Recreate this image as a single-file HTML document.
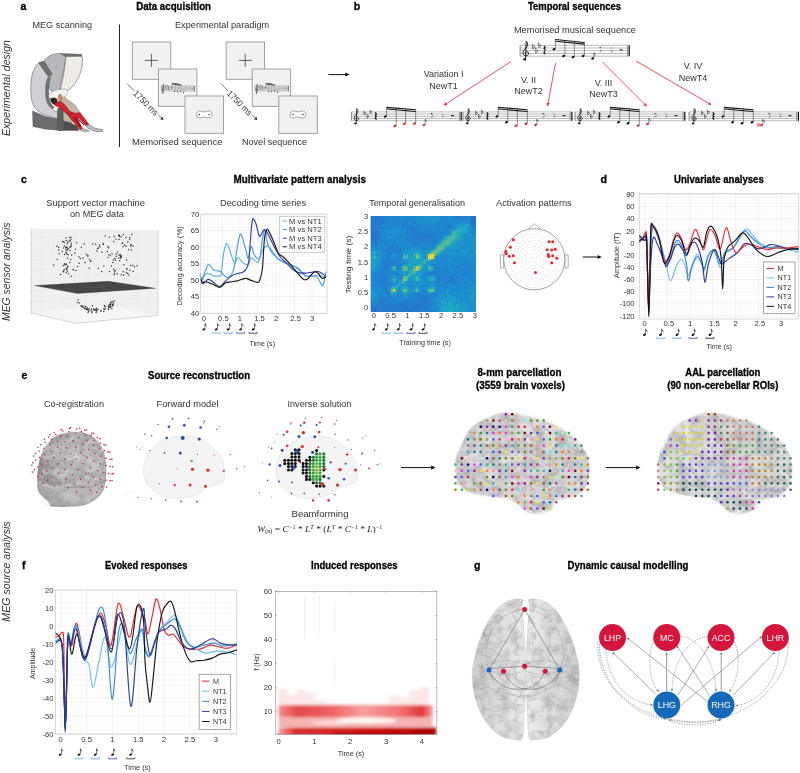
<!DOCTYPE html>
<html><head><meta charset="utf-8"><title>Figure</title><style>html,body{margin:0;padding:0;background:#fff;width:800px;height:773px;overflow:hidden}svg{display:block}</style></head><body><svg width="800" height="773" viewBox="0 0 800 773" font-family="Liberation Sans, Arial, sans-serif"><text x="20.5" y="9.5" font-size="10.5" font-weight="bold" stroke="#000" stroke-width="0.3" fill="#000">a</text><text x="136.2" y="9.5" font-size="10.5" font-weight="bold" stroke="#000" stroke-width="0.3" fill="#000" textLength="74.8" lengthAdjust="spacingAndGlyphs">Data acquisition</text><text x="32.5" y="28.3" font-size="8.9" fill="#333" textLength="59.5" lengthAdjust="spacingAndGlyphs">MEG scanning</text><line x1="119.5" y1="24.5" x2="119.5" y2="147" stroke="#222" stroke-width="1"/><text x="175" y="28.3" font-size="9" fill="#333" textLength="94.2" lengthAdjust="spacingAndGlyphs">Experimental paradigm</text><text x="132" y="145" font-size="9.3" fill="#333" textLength="90.5" lengthAdjust="spacingAndGlyphs">Memorised sequence</text><text x="242" y="145" font-size="9.3" fill="#333" textLength="65" lengthAdjust="spacingAndGlyphs">Novel sequence</text><text transform="translate(10.2,88) rotate(-90)" font-size="10.6" font-style="italic" text-anchor="middle" fill="#333" textLength="96" lengthAdjust="spacingAndGlyphs">Experimental design</text><g><path d="M32.6,111 L45,116.5 L58,119 L61.5,119.5 L62,130.5 L45,129 L33,126.5Z" fill="#6c6c6e" stroke="#444" stroke-width="0.45" stroke-linejoin="round"/><path d="M39.3,62.4 C36.5,64.5 33,70 31.8,76.3 C30.6,82.5 30.4,91 31.3,98 C32.2,104 35.5,109.5 40,112.5 C45,115.8 51.5,117.8 58.5,118.6 L59,112.4 C54.5,111.4 49.8,108.6 47.3,103 C45.4,98.5 45.2,91 45.8,85 C46.3,80.5 47.3,78.3 48.6,77 L52,74 L44.1,61.3 Z" fill="#d0d0d4" stroke="#4a4a4a" stroke-width="0.5" stroke-linejoin="round"/><path d="M48.6,77 C47.3,78.3 46.3,80.5 45.8,85 C45.2,91 45.4,98.5 47.3,103 C48.5,105.5 50.5,107.5 52.5,109 L54.5,107.5 C52.6,105.8 50.9,103.5 49.9,100.5 C48.6,96 48.7,89 49.3,84.5 C49.8,81 50.5,79 51.4,77.6 Z" fill="#707072" stroke="none"/><path d="M38.6,62.9 L44.1,61.3 L52,74 L48.6,77Z" fill="#6f6f71" stroke="#4a4a4a" stroke-width="0.4" stroke-linejoin="round"/><path d="M44.1,61.3 C45,59.5 46.8,57.5 49.5,55.8 C52.5,54.2 56.5,53.3 60.3,53.4 L65.8,56 C65.3,61 64.6,66 63.8,70 C62.6,76 61.5,81 60.2,86 L59.6,90.8 C56,92.2 52.5,92 50.3,90.4 C49.4,88 49.2,84 49.6,81.5 C50,79 50.7,77 52,74 Z" fill="#b8b9bd" stroke="#4a4a4a" stroke-width="0.5" stroke-linejoin="round"/><path d="M60.3,53.4 L81.5,54.3 L82.1,56.3 L65.8,56.6Z" fill="#6d6d6f" stroke="#4a4a4a" stroke-width="0.35" stroke-linejoin="round"/><path d="M65.8,56.6 L82.1,56.3 C82.8,59 82.8,64 81.5,69 C79.8,76 76.5,82.5 71.5,87.5 C68.5,90.3 65.5,91.8 62.6,92.2 L60.2,90.6 C61.2,86 62.2,81 63.5,75 C64.5,69.5 65.3,63 65.8,56.6 Z" fill="#efebe5" stroke="#4a4a4a" stroke-width="0.5" stroke-linejoin="round"/><path d="M62.2,95.3C63.3,94 64.8,97.7 66.8,99.2C68.8,100.7 72.4,102.7 74.3,104.5C76.2,106.3 77,108.2 78,109.8C79,111.3 80.7,112.8 80.5,113.8C80.3,114.8 78.2,114.8 77,116C75.8,117.2 74.2,119.7 73,121C71.8,122.3 71,123.6 69.5,124C68,124.4 65.2,124.8 64,123.5C62.8,122.2 63.2,118.8 62.5,116C61.8,113.2 60,110.2 60,106.8C60,103.3 61.1,96.6 62.2,95.3Z" fill="#c2b6a8" stroke="#555" stroke-width="0.4" stroke-linejoin="round"/><path d="M57.4,108.5 L61.5,107.8 L63.2,110 L63.2,130.5 L57.6,130.5Z" fill="#5e5e60" stroke="#444" stroke-width="0.35" stroke-linejoin="round"/><path d="M63.2,121 L70,122.5 L77,126 L79,130.5 L63.2,130.5Z" fill="#4e4e50" stroke="#444" stroke-width="0.3" stroke-linejoin="round"/><path d="M48.5,95.5C48.9,94.2 51.1,92.2 53,91.2C54.9,90.2 57.8,89.5 60,89.2C62.2,88.9 65.2,89 66.5,89.5C67.8,90 67.8,91.3 67.5,92.5C67.2,93.7 65.8,95.5 64.5,96.5C63.2,97.5 61.6,98 60,98.5C58.4,99 56.6,99.5 55,99.5C53.4,99.5 51.6,99.5 50.5,98.8C49.4,98.1 48.1,96.8 48.5,95.5Z" fill="#f3f3f3" stroke="#666" stroke-width="0.4" stroke-linejoin="round"/><path d="M50.5,98.5C51.2,97.8 54.8,97.5 56,98.2C57.2,98.9 57.8,101.4 57.5,102.5C57.2,103.6 55.5,104.8 54.5,104.8C53.5,104.8 52.2,103.5 51.5,102.5C50.8,101.5 49.8,99.2 50.5,98.5Z" fill="#2e2420" stroke="none" stroke-width="0" stroke-linejoin="round"/><path d="M58.6,95C59,94.1 60.6,94.2 61.2,94.6C61.8,95 62.2,96.5 62.2,97.5C62.2,98.5 61.8,100 61.2,100.5C60.6,101 59,101.1 58.6,100.2C58.2,99.3 58.2,95.9 58.6,95Z" fill="#d38a55" stroke="#6a4a30" stroke-width="0.3" stroke-linejoin="round"/><path d="M54.5,103.2 L60,101.1 L64.5,104.5 L69.7,111.2 L73.5,112.7 L73,114.4 L67.5,114.4 L63.8,111.5 L58.5,107 L54.8,105.5Z" fill="#d0232a" stroke="#5a1010" stroke-width="0.4" stroke-linejoin="round"/><path d="M67.2,113.6 L80.2,112.8 L88.9,124.3 L86,126 L79.2,118.6 L77.4,118.3 L82.6,128.6 L80.2,130.1 L71.2,119.6Z" fill="#d0232a" stroke="#5a1010" stroke-width="0.4" stroke-linejoin="round"/><path d="M74.5,117 L80,126.5 M78.2,119 L84,125" stroke="#2a1010" stroke-width="0.9" fill="none"/><path d="M85.8,125.6 L89,124.4 L95,128.2 L102.8,129.6 L103,131.6 L96,131.8 L90,129.5 L87,127.5Z" fill="#bdbdbd" stroke="#444" stroke-width="0.4" stroke-linejoin="round"/><path d="M80.2,130.1 L82.6,128.6 L87,129.6 L89.5,131.2 L84,132Z" fill="#bdbdbd" stroke="#444" stroke-width="0.35" stroke-linejoin="round"/></g><rect x="132.3" y="42" width="38.5" height="37.3" fill="#f1f1f1" stroke="#8e8e8e" stroke-width="0.8"/><rect x="158.4" y="69" width="38.5" height="37.3" fill="#f1f1f1" stroke="#8e8e8e" stroke-width="0.8"/><rect x="185" y="96" width="38.5" height="37.3" fill="#f1f1f1" stroke="#8e8e8e" stroke-width="0.8"/><path d="M144.9,60.4H157.9M151.4,53.9V66.9" stroke="#333" stroke-width="0.75" fill="none"/><rect x="161.3" y="85.3" width="33.6" height="5.6" fill="#dcdcdc"/><g transform="translate(161.3,85.9) scale(0.306,0.5)"><path d="M0,0H109.7M0,2.7H109.7M0,5.4H109.7M0,8.2H109.7M0,10.9H109.7" stroke="#666" stroke-width="0.45" fill="none"/><line x1="0" y1="0" x2="0" y2="10.9" stroke="#222" stroke-width="0.5"/><rect x="108.5" y="0" width="1.2" height="10.9" fill="#111"/><line x1="107.3" y1="0" x2="107.3" y2="10.9" stroke="#222" stroke-width="0.4"/><g transform="translate(1.9,0) scale(2.7)" fill="none" stroke="#111" stroke-linecap="round"><path d="M1.3,5.45 L1.55,-1.5 C2.35,-0.9 2.2,0.4 1.2,1.3 C0.2,2.1 0.05,3.6 1.2,3.85 C2.2,4.05 2.75,3.2 2.3,2.6 C1.9,2.1 1.2,2.4 1.3,3.0" stroke-width="0.36"/><circle cx="0.85" cy="5.2" r="0.42" fill="#111" stroke="none"/><path d="M0.85,5.2 C0.9,5.65 1.3,5.7 1.3,5.45" stroke-width="0.3"/></g><path d="M12.6,-1.6 v5.4 c1.6,-0.8 2.4,-1.6 2.2,-2.4 c-0.2,-0.8 -1.2,-0.8 -2.2,0.1" fill="none" stroke="#222" stroke-width="0.55"/><path d="M15.6,2.4 v5.4 c1.6,-0.8 2.4,-1.6 2.2,-2.4 c-0.2,-0.8 -1.2,-0.8 -2.2,0.1" fill="none" stroke="#222" stroke-width="0.55"/><path d="M18.6,-3 v5.4 c1.6,-0.8 2.4,-1.6 2.2,-2.4 c-0.2,-0.8 -1.2,-0.8 -2.2,0.1" fill="none" stroke="#222" stroke-width="0.55"/><path d="M23.8,0.5 l1.2,1.6 l-1,1.4 l1.4,1.6 M24.8,5.7 l-1,1.4 l1.3,1.8" fill="none" stroke="#111" stroke-width="1.2"/><ellipse cx="33.9" cy="3.9" rx="1.5" ry="1.1" transform="rotate(-25 33.9 3.9)" fill="#111"/><line x1="35.2" y1="3.9" x2="35.2" y2="-6.3" stroke="#111" stroke-width="0.45"/><ellipse cx="43.5" cy="10.7" rx="1.5" ry="1.1" transform="rotate(-25 43.5 10.7)" fill="#111"/><line x1="44.8" y1="10.7" x2="44.8" y2="-5.3" stroke="#111" stroke-width="0.45"/><ellipse cx="53" cy="11.8" rx="1.5" ry="1.1" transform="rotate(-25 53 11.8)" fill="#111"/><line x1="54.3" y1="11.8" x2="54.3" y2="-4.4" stroke="#111" stroke-width="0.45"/><ellipse cx="63" cy="10.6" rx="1.5" ry="1.1" transform="rotate(-25 63 10.6)" fill="#111"/><line x1="64.3" y1="10.6" x2="64.3" y2="-3.4" stroke="#111" stroke-width="0.45"/><path d="M35.2,-6.3 L64.3,-3.4 L64.3,-2.3 L35.2,-5.2 Z" fill="#111"/><path d="M35.2,-4.6 L64.3,-1.7 L64.3,-0.6 L35.2,-3.5 Z" fill="#111"/><ellipse cx="72.5" cy="13.1" rx="1.5" ry="1.1" transform="rotate(-25 72.5 13.1)" fill="#111"/><line x1="73.8" y1="13.1" x2="73.8" y2="7.1" stroke="#111" stroke-width="0.45"/><path d="M73.8,7.1 c0.6,1.6 2.6,2 2,4.2 c0.1,-1.5 -1,-2.2 -2,-2.6z" fill="#111"/><path d="M80,7.1 l1.6,-2.6 M79.6,2.2 c0.6,0.5 1.2,0.4 1.6,-0.3" fill="none" stroke="#111" stroke-width="0.5"/><circle cx="80" cy="1.9" r="0.5" fill="#111"/><path d="M91,7.1 l1.2,-2.2 M90.4,2.7 c0.5,0.4 1,0.3 1.2,-0.2" fill="none" stroke="#111" stroke-width="0.5"/><rect x="99.5" y="4.1" width="3" height="1" fill="#111"/></g><path d="M200,111 c-2.5,0 -3.6,1.5 -3.6,3.5 c0,2 1.1,3.5 3.6,3.5 c1.6,0 2.3,-0.9 4.2,-0.9 c1.9,0 2.6,0.9 4.2,0.9 c2.5,0 3.6,-1.5 3.6,-3.5 c0,-2 -1.1,-3.5 -3.6,-3.5 c-1.6,0 -2.3,0.9 -4.2,0.9 c-1.9,0 -2.6,-0.9 -4.2,-0.9z" fill="#fff" stroke="#555" stroke-width="0.5"/><circle cx="199.2" cy="114.5" r="0.75" fill="#222"/><circle cx="209.2" cy="114.5" r="0.75" fill="#222"/><line x1="127" y1="83.5" x2="134.4" y2="90.9" stroke="#222" stroke-width="0.6"/><text transform="translate(132.7,94) rotate(45)" font-size="8.6" fill="#333" textLength="31.5" lengthAdjust="spacingAndGlyphs">1750 ms</text><line x1="158.1" y1="114.6" x2="162.7" y2="119.2" stroke="#222" stroke-width="0.6"/><path d="M163.4,119.9 l-3.2,-0.6 l2.6,-2.6z" fill="#222"/><rect x="226.1" y="42" width="38.5" height="37.3" fill="#f1f1f1" stroke="#8e8e8e" stroke-width="0.8"/><rect x="252.2" y="69" width="38.5" height="37.3" fill="#f1f1f1" stroke="#8e8e8e" stroke-width="0.8"/><rect x="278.8" y="96" width="38.5" height="37.3" fill="#f1f1f1" stroke="#8e8e8e" stroke-width="0.8"/><path d="M238.7,60.4H251.7M245.2,53.9V66.9" stroke="#333" stroke-width="0.75" fill="none"/><rect x="255.1" y="85.3" width="33.6" height="5.6" fill="#dcdcdc"/><g transform="translate(255.1,85.9) scale(0.306,0.5)"><path d="M0,0H109.7M0,2.7H109.7M0,5.4H109.7M0,8.2H109.7M0,10.9H109.7" stroke="#666" stroke-width="0.45" fill="none"/><line x1="0" y1="0" x2="0" y2="10.9" stroke="#222" stroke-width="0.5"/><rect x="108.5" y="0" width="1.2" height="10.9" fill="#111"/><line x1="107.3" y1="0" x2="107.3" y2="10.9" stroke="#222" stroke-width="0.4"/><g transform="translate(1.9,0) scale(2.7)" fill="none" stroke="#111" stroke-linecap="round"><path d="M1.3,5.45 L1.55,-1.5 C2.35,-0.9 2.2,0.4 1.2,1.3 C0.2,2.1 0.05,3.6 1.2,3.85 C2.2,4.05 2.75,3.2 2.3,2.6 C1.9,2.1 1.2,2.4 1.3,3.0" stroke-width="0.36"/><circle cx="0.85" cy="5.2" r="0.42" fill="#111" stroke="none"/><path d="M0.85,5.2 C0.9,5.65 1.3,5.7 1.3,5.45" stroke-width="0.3"/></g><path d="M12.6,-1.6 v5.4 c1.6,-0.8 2.4,-1.6 2.2,-2.4 c-0.2,-0.8 -1.2,-0.8 -2.2,0.1" fill="none" stroke="#222" stroke-width="0.55"/><path d="M15.6,2.4 v5.4 c1.6,-0.8 2.4,-1.6 2.2,-2.4 c-0.2,-0.8 -1.2,-0.8 -2.2,0.1" fill="none" stroke="#222" stroke-width="0.55"/><path d="M18.6,-3 v5.4 c1.6,-0.8 2.4,-1.6 2.2,-2.4 c-0.2,-0.8 -1.2,-0.8 -2.2,0.1" fill="none" stroke="#222" stroke-width="0.55"/><path d="M23.8,0.5 l1.2,1.6 l-1,1.4 l1.4,1.6 M24.8,5.7 l-1,1.4 l1.3,1.8" fill="none" stroke="#111" stroke-width="1.2"/><ellipse cx="33.9" cy="3.9" rx="1.5" ry="1.1" transform="rotate(-25 33.9 3.9)" fill="#111"/><line x1="35.2" y1="3.9" x2="35.2" y2="-6.3" stroke="#111" stroke-width="0.45"/><ellipse cx="43.5" cy="10.7" rx="1.5" ry="1.1" transform="rotate(-25 43.5 10.7)" fill="#111"/><line x1="44.8" y1="10.7" x2="44.8" y2="-5.3" stroke="#111" stroke-width="0.45"/><ellipse cx="53" cy="11.8" rx="1.5" ry="1.1" transform="rotate(-25 53 11.8)" fill="#111"/><line x1="54.3" y1="11.8" x2="54.3" y2="-4.4" stroke="#111" stroke-width="0.45"/><ellipse cx="63" cy="10.6" rx="1.5" ry="1.1" transform="rotate(-25 63 10.6)" fill="#111"/><line x1="64.3" y1="10.6" x2="64.3" y2="-3.4" stroke="#111" stroke-width="0.45"/><path d="M35.2,-6.3 L64.3,-3.4 L64.3,-2.3 L35.2,-5.2 Z" fill="#111"/><path d="M35.2,-4.6 L64.3,-1.7 L64.3,-0.6 L35.2,-3.5 Z" fill="#111"/><ellipse cx="72.5" cy="13.1" rx="1.5" ry="1.1" transform="rotate(-25 72.5 13.1)" fill="#111"/><line x1="73.8" y1="13.1" x2="73.8" y2="7.1" stroke="#111" stroke-width="0.45"/><path d="M73.8,7.1 c0.6,1.6 2.6,2 2,4.2 c0.1,-1.5 -1,-2.2 -2,-2.6z" fill="#111"/><path d="M80,7.1 l1.6,-2.6 M79.6,2.2 c0.6,0.5 1.2,0.4 1.6,-0.3" fill="none" stroke="#111" stroke-width="0.5"/><circle cx="80" cy="1.9" r="0.5" fill="#111"/><path d="M91,7.1 l1.2,-2.2 M90.4,2.7 c0.5,0.4 1,0.3 1.2,-0.2" fill="none" stroke="#111" stroke-width="0.5"/><rect x="99.5" y="4.1" width="3" height="1" fill="#111"/></g><path d="M293.8,111 c-2.5,0 -3.6,1.5 -3.6,3.5 c0,2 1.1,3.5 3.6,3.5 c1.6,0 2.3,-0.9 4.2,-0.9 c1.9,0 2.6,0.9 4.2,0.9 c2.5,0 3.6,-1.5 3.6,-3.5 c0,-2 -1.1,-3.5 -3.6,-3.5 c-1.6,0 -2.3,0.9 -4.2,0.9 c-1.9,0 -2.6,-0.9 -4.2,-0.9z" fill="#fff" stroke="#555" stroke-width="0.5"/><circle cx="292.9" cy="114.5" r="0.75" fill="#222"/><circle cx="302.9" cy="114.5" r="0.75" fill="#222"/><line x1="220.8" y1="83.5" x2="228.2" y2="90.9" stroke="#222" stroke-width="0.6"/><text transform="translate(226.5,94) rotate(45)" font-size="8.6" fill="#333" textLength="31.5" lengthAdjust="spacingAndGlyphs">1750 ms</text><line x1="251.9" y1="114.6" x2="256.5" y2="119.2" stroke="#222" stroke-width="0.6"/><path d="M257.2,119.9 l-3.2,-0.6 l2.6,-2.6z" fill="#222"/><line x1="328.4" y1="74.6" x2="346" y2="74.6" stroke="#111" stroke-width="1"/><path d="M349.5,74.6 l-4.2,-2 v4z" fill="#111"/><text x="353.7" y="9.5" font-size="10.5" font-weight="bold" stroke="#000" stroke-width="0.3" fill="#000">b</text><text x="528" y="9.5" font-size="10.5" font-weight="bold" stroke="#000" stroke-width="0.3" fill="#000" textLength="93" lengthAdjust="spacingAndGlyphs">Temporal sequences</text><text x="513.9" y="33" font-size="9" fill="#333" textLength="122" lengthAdjust="spacingAndGlyphs">Memorised musical sequence</text><path d="M520.1,45.3H629.8M520.1,48H629.8M520.1,50.7H629.8M520.1,53.5H629.8M520.1,56.2H629.8" stroke="#666" stroke-width="0.45" fill="none"/><line x1="520.1" y1="45.3" x2="520.1" y2="56.2" stroke="#222" stroke-width="0.5"/><rect x="628.6" y="45.3" width="1.2" height="10.9" fill="#111"/><line x1="627.4" y1="45.3" x2="627.4" y2="56.2" stroke="#222" stroke-width="0.4"/><g transform="translate(522,45.3) scale(2.7)" fill="none" stroke="#111" stroke-linecap="round"><path d="M1.3,5.45 L1.55,-1.5 C2.35,-0.9 2.2,0.4 1.2,1.3 C0.2,2.1 0.05,3.6 1.2,3.85 C2.2,4.05 2.75,3.2 2.3,2.6 C1.9,2.1 1.2,2.4 1.3,3.0" stroke-width="0.36"/><circle cx="0.85" cy="5.2" r="0.42" fill="#111" stroke="none"/><path d="M0.85,5.2 C0.9,5.65 1.3,5.7 1.3,5.45" stroke-width="0.3"/></g><path d="M532.7,43.7 v5.4 c1.6,-0.8 2.4,-1.6 2.2,-2.4 c-0.2,-0.8 -1.2,-0.8 -2.2,0.1" fill="none" stroke="#222" stroke-width="0.55"/><path d="M535.7,47.7 v5.4 c1.6,-0.8 2.4,-1.6 2.2,-2.4 c-0.2,-0.8 -1.2,-0.8 -2.2,0.1" fill="none" stroke="#222" stroke-width="0.55"/><path d="M538.7,42.3 v5.4 c1.6,-0.8 2.4,-1.6 2.2,-2.4 c-0.2,-0.8 -1.2,-0.8 -2.2,0.1" fill="none" stroke="#222" stroke-width="0.55"/><path d="M543.9,45.8 l1.2,1.6 l-1,1.4 l1.4,1.6 M544.9,51 l-1,1.4 l1.3,1.8" fill="none" stroke="#111" stroke-width="1.2"/><ellipse cx="554" cy="49.2" rx="1.5" ry="1.1" transform="rotate(-25 554 49.2)" fill="#111"/><line x1="555.3" y1="49.2" x2="555.3" y2="39" stroke="#111" stroke-width="0.45"/><ellipse cx="563.6" cy="56" rx="1.5" ry="1.1" transform="rotate(-25 563.6 56)" fill="#111"/><line x1="564.9" y1="56" x2="564.9" y2="40" stroke="#111" stroke-width="0.45"/><ellipse cx="573.1" cy="57.1" rx="1.5" ry="1.1" transform="rotate(-25 573.1 57.1)" fill="#111"/><line x1="574.4" y1="57.1" x2="574.4" y2="40.9" stroke="#111" stroke-width="0.45"/><ellipse cx="583.1" cy="55.9" rx="1.5" ry="1.1" transform="rotate(-25 583.1 55.9)" fill="#111"/><line x1="584.4" y1="55.9" x2="584.4" y2="41.9" stroke="#111" stroke-width="0.45"/><path d="M555.3,39 L584.4,41.9 L584.4,43 L555.3,40.1 Z" fill="#111"/><path d="M555.3,40.7 L584.4,43.6 L584.4,44.7 L555.3,41.8 Z" fill="#111"/><ellipse cx="592.6" cy="58.4" rx="1.5" ry="1.1" transform="rotate(-25 592.6 58.4)" fill="#111"/><line x1="593.9" y1="58.4" x2="593.9" y2="52.4" stroke="#111" stroke-width="0.45"/><path d="M593.9,52.4 c0.6,1.6 2.6,2 2,4.2 c0.1,-1.5 -1,-2.2 -2,-2.6z" fill="#111"/><path d="M600.1,52.4 l1.6,-2.6 M599.7,47.5 c0.6,0.5 1.2,0.4 1.6,-0.3" fill="none" stroke="#111" stroke-width="0.5"/><circle cx="600.1" cy="47.2" r="0.5" fill="#111"/><path d="M611.1,52.4 l1.2,-2.2 M610.5,48 c0.5,0.4 1,0.3 1.2,-0.2" fill="none" stroke="#111" stroke-width="0.5"/><rect x="619.6" y="49.4" width="3" height="1" fill="#111"/><path d="M351.4,111.9H461.8M351.4,114.1H461.8M351.4,116.3H461.8M351.4,118.5H461.8M351.4,120.7H461.8" stroke="#666" stroke-width="0.45" fill="none"/><line x1="351.4" y1="111.9" x2="351.4" y2="120.7" stroke="#222" stroke-width="0.5"/><rect x="460.6" y="111.9" width="1.2" height="8.8" fill="#111"/><line x1="459.4" y1="111.9" x2="459.4" y2="120.7" stroke="#222" stroke-width="0.4"/><g transform="translate(353.3,111.9) scale(2.2)" fill="none" stroke="#111" stroke-linecap="round"><path d="M1.3,5.45 L1.55,-1.5 C2.35,-0.9 2.2,0.4 1.2,1.3 C0.2,2.1 0.05,3.6 1.2,3.85 C2.2,4.05 2.75,3.2 2.3,2.6 C1.9,2.1 1.2,2.4 1.3,3.0" stroke-width="0.36"/><circle cx="0.85" cy="5.2" r="0.42" fill="#111" stroke="none"/><path d="M0.85,5.2 C0.9,5.65 1.3,5.7 1.3,5.45" stroke-width="0.3"/></g><path d="M364,110.6 v4.4 c1.3,-0.7 2,-1.3 1.8,-2 c-0.2,-0.8 -1.2,-0.8 -1.8,0.1" fill="none" stroke="#222" stroke-width="0.55"/><path d="M367,113.9 v4.4 c1.3,-0.7 2,-1.3 1.8,-2 c-0.2,-0.8 -1.2,-0.8 -1.8,0.1" fill="none" stroke="#222" stroke-width="0.55"/><path d="M370,109.5 v4.4 c1.3,-0.7 2,-1.3 1.8,-2 c-0.2,-0.8 -1.2,-0.8 -1.8,0.1" fill="none" stroke="#222" stroke-width="0.55"/><path d="M375.2,112.3 l1.2,1.6 l-1,1.4 l1.4,1.6 M376.2,116.5 l-1,1.4 l1.3,1.8" fill="none" stroke="#111" stroke-width="1.2"/><ellipse cx="385.3" cy="116.4" rx="1.5" ry="1.1" transform="rotate(-25 385.3 116.4)" fill="#111"/><line x1="386.6" y1="116.4" x2="386.6" y2="106.8" stroke="#111" stroke-width="0.45"/><ellipse cx="394.9" cy="126" rx="1.5" ry="1.1" transform="rotate(-25 394.9 126)" fill="#e3262b"/><line x1="396.2" y1="126" x2="396.2" y2="107.6" stroke="#111" stroke-width="0.45"/><ellipse cx="404.4" cy="123.8" rx="1.5" ry="1.1" transform="rotate(-25 404.4 123.8)" fill="#e3262b"/><line x1="405.7" y1="123.8" x2="405.7" y2="108.4" stroke="#111" stroke-width="0.45"/><ellipse cx="414.4" cy="123.6" rx="1.5" ry="1.1" transform="rotate(-25 414.4 123.6)" fill="#e3262b"/><line x1="415.7" y1="123.6" x2="415.7" y2="109.2" stroke="#111" stroke-width="0.45"/><path d="M386.6,106.8 L415.7,109.2 L415.7,110.2 L386.6,107.9 Z" fill="#111"/><path d="M386.6,108.5 L415.7,110.9 L415.7,112 L386.6,109.6 Z" fill="#111"/><ellipse cx="423.9" cy="124.9" rx="1.5" ry="1.1" transform="rotate(-25 423.9 124.9)" fill="#e3262b"/><line x1="425.2" y1="124.9" x2="425.2" y2="118.9" stroke="#111" stroke-width="0.45"/><path d="M425.2,118.9 c0.6,1.6 2.6,2 2,4.2 c0.1,-1.5 -1,-2.2 -2,-2.6z" fill="#111"/><path d="M431.4,117.6 l1.6,-2.6 M431,113.7 c0.6,0.5 1.2,0.4 1.6,-0.3" fill="none" stroke="#111" stroke-width="0.5"/><circle cx="431.4" cy="113.4" r="0.5" fill="#111"/><path d="M442.4,117.6 l1.2,-2.2 M441.8,114.1 c0.5,0.4 1,0.3 1.2,-0.2" fill="none" stroke="#111" stroke-width="0.5"/><rect x="450.9" y="115.2" width="3" height="1" fill="#111"/><path d="M463,111.9H572.5M463,114.1H572.5M463,116.3H572.5M463,118.5H572.5M463,120.7H572.5" stroke="#666" stroke-width="0.45" fill="none"/><line x1="463" y1="111.9" x2="463" y2="120.7" stroke="#222" stroke-width="0.5"/><rect x="571.3" y="111.9" width="1.2" height="8.8" fill="#111"/><line x1="570.1" y1="111.9" x2="570.1" y2="120.7" stroke="#222" stroke-width="0.4"/><g transform="translate(464.9,111.9) scale(2.2)" fill="none" stroke="#111" stroke-linecap="round"><path d="M1.3,5.45 L1.55,-1.5 C2.35,-0.9 2.2,0.4 1.2,1.3 C0.2,2.1 0.05,3.6 1.2,3.85 C2.2,4.05 2.75,3.2 2.3,2.6 C1.9,2.1 1.2,2.4 1.3,3.0" stroke-width="0.36"/><circle cx="0.85" cy="5.2" r="0.42" fill="#111" stroke="none"/><path d="M0.85,5.2 C0.9,5.65 1.3,5.7 1.3,5.45" stroke-width="0.3"/></g><path d="M475.6,110.6 v4.4 c1.3,-0.7 2,-1.3 1.8,-2 c-0.2,-0.8 -1.2,-0.8 -1.8,0.1" fill="none" stroke="#222" stroke-width="0.55"/><path d="M478.6,113.9 v4.4 c1.3,-0.7 2,-1.3 1.8,-2 c-0.2,-0.8 -1.2,-0.8 -1.8,0.1" fill="none" stroke="#222" stroke-width="0.55"/><path d="M481.6,109.5 v4.4 c1.3,-0.7 2,-1.3 1.8,-2 c-0.2,-0.8 -1.2,-0.8 -1.8,0.1" fill="none" stroke="#222" stroke-width="0.55"/><path d="M486.8,112.3 l1.2,1.6 l-1,1.4 l1.4,1.6 M487.8,116.5 l-1,1.4 l1.3,1.8" fill="none" stroke="#111" stroke-width="1.2"/><ellipse cx="496.9" cy="116.4" rx="1.5" ry="1.1" transform="rotate(-25 496.9 116.4)" fill="#111"/><line x1="498.2" y1="116.4" x2="498.2" y2="106.8" stroke="#111" stroke-width="0.45"/><ellipse cx="506.5" cy="122.2" rx="1.5" ry="1.1" transform="rotate(-25 506.5 122.2)" fill="#111"/><line x1="507.8" y1="122.2" x2="507.8" y2="107.6" stroke="#111" stroke-width="0.45"/><ellipse cx="516" cy="125.8" rx="1.5" ry="1.1" transform="rotate(-25 516 125.8)" fill="#e3262b"/><line x1="517.3" y1="125.8" x2="517.3" y2="108.4" stroke="#111" stroke-width="0.45"/><ellipse cx="526" cy="123.8" rx="1.5" ry="1.1" transform="rotate(-25 526 123.8)" fill="#e3262b"/><line x1="527.3" y1="123.8" x2="527.3" y2="109.2" stroke="#111" stroke-width="0.45"/><path d="M498.2,106.8 L527.3,109.2 L527.3,110.2 L498.2,107.9 Z" fill="#111"/><path d="M498.2,108.5 L527.3,110.9 L527.3,112 L498.2,109.6 Z" fill="#111"/><ellipse cx="535.5" cy="124.9" rx="1.5" ry="1.1" transform="rotate(-25 535.5 124.9)" fill="#e3262b"/><line x1="536.8" y1="124.9" x2="536.8" y2="118.9" stroke="#111" stroke-width="0.45"/><path d="M536.8,118.9 c0.6,1.6 2.6,2 2,4.2 c0.1,-1.5 -1,-2.2 -2,-2.6z" fill="#111"/><path d="M543,117.6 l1.6,-2.6 M542.6,113.7 c0.6,0.5 1.2,0.4 1.6,-0.3" fill="none" stroke="#111" stroke-width="0.5"/><circle cx="543" cy="113.4" r="0.5" fill="#111"/><path d="M554,117.6 l1.2,-2.2 M553.4,114.1 c0.5,0.4 1,0.3 1.2,-0.2" fill="none" stroke="#111" stroke-width="0.5"/><rect x="562.5" y="115.2" width="3" height="1" fill="#111"/><path d="M575,111.9H685.4M575,114.1H685.4M575,116.3H685.4M575,118.5H685.4M575,120.7H685.4" stroke="#666" stroke-width="0.45" fill="none"/><line x1="575" y1="111.9" x2="575" y2="120.7" stroke="#222" stroke-width="0.5"/><rect x="684.2" y="111.9" width="1.2" height="8.8" fill="#111"/><line x1="683" y1="111.9" x2="683" y2="120.7" stroke="#222" stroke-width="0.4"/><g transform="translate(576.9,111.9) scale(2.2)" fill="none" stroke="#111" stroke-linecap="round"><path d="M1.3,5.45 L1.55,-1.5 C2.35,-0.9 2.2,0.4 1.2,1.3 C0.2,2.1 0.05,3.6 1.2,3.85 C2.2,4.05 2.75,3.2 2.3,2.6 C1.9,2.1 1.2,2.4 1.3,3.0" stroke-width="0.36"/><circle cx="0.85" cy="5.2" r="0.42" fill="#111" stroke="none"/><path d="M0.85,5.2 C0.9,5.65 1.3,5.7 1.3,5.45" stroke-width="0.3"/></g><path d="M587.6,110.6 v4.4 c1.3,-0.7 2,-1.3 1.8,-2 c-0.2,-0.8 -1.2,-0.8 -1.8,0.1" fill="none" stroke="#222" stroke-width="0.55"/><path d="M590.6,113.9 v4.4 c1.3,-0.7 2,-1.3 1.8,-2 c-0.2,-0.8 -1.2,-0.8 -1.8,0.1" fill="none" stroke="#222" stroke-width="0.55"/><path d="M593.6,109.5 v4.4 c1.3,-0.7 2,-1.3 1.8,-2 c-0.2,-0.8 -1.2,-0.8 -1.8,0.1" fill="none" stroke="#222" stroke-width="0.55"/><path d="M598.8,112.3 l1.2,1.6 l-1,1.4 l1.4,1.6 M599.8,116.5 l-1,1.4 l1.3,1.8" fill="none" stroke="#111" stroke-width="1.2"/><ellipse cx="608.9" cy="116.4" rx="1.5" ry="1.1" transform="rotate(-25 608.9 116.4)" fill="#111"/><line x1="610.2" y1="116.4" x2="610.2" y2="106.8" stroke="#111" stroke-width="0.45"/><ellipse cx="618.5" cy="122.2" rx="1.5" ry="1.1" transform="rotate(-25 618.5 122.2)" fill="#111"/><line x1="619.8" y1="122.2" x2="619.8" y2="107.6" stroke="#111" stroke-width="0.45"/><ellipse cx="628" cy="123.3" rx="1.5" ry="1.1" transform="rotate(-25 628 123.3)" fill="#111"/><line x1="629.3" y1="123.3" x2="629.3" y2="108.4" stroke="#111" stroke-width="0.45"/><ellipse cx="638" cy="125.5" rx="1.5" ry="1.1" transform="rotate(-25 638 125.5)" fill="#e3262b"/><line x1="639.3" y1="125.5" x2="639.3" y2="109.2" stroke="#111" stroke-width="0.45"/><path d="M610.2,106.8 L639.3,109.2 L639.3,110.2 L610.2,107.9 Z" fill="#111"/><path d="M610.2,108.5 L639.3,110.9 L639.3,112 L610.2,109.6 Z" fill="#111"/><ellipse cx="647.5" cy="124" rx="1.5" ry="1.1" transform="rotate(-25 647.5 124)" fill="#e3262b"/><line x1="648.8" y1="124" x2="648.8" y2="118" stroke="#111" stroke-width="0.45"/><path d="M648.8,118 c0.6,1.6 2.6,2 2,4.2 c0.1,-1.5 -1,-2.2 -2,-2.6z" fill="#111"/><path d="M655,117.6 l1.6,-2.6 M654.6,113.7 c0.6,0.5 1.2,0.4 1.6,-0.3" fill="none" stroke="#111" stroke-width="0.5"/><circle cx="655" cy="113.4" r="0.5" fill="#111"/><path d="M666,117.6 l1.2,-2.2 M665.4,114.1 c0.5,0.4 1,0.3 1.2,-0.2" fill="none" stroke="#111" stroke-width="0.5"/><rect x="674.5" y="115.2" width="3" height="1" fill="#111"/><path d="M689,111.9H799M689,114.1H799M689,116.3H799M689,118.5H799M689,120.7H799" stroke="#666" stroke-width="0.45" fill="none"/><line x1="689" y1="111.9" x2="689" y2="120.7" stroke="#222" stroke-width="0.5"/><rect x="797.8" y="111.9" width="1.2" height="8.8" fill="#111"/><line x1="796.6" y1="111.9" x2="796.6" y2="120.7" stroke="#222" stroke-width="0.4"/><g transform="translate(690.9,111.9) scale(2.2)" fill="none" stroke="#111" stroke-linecap="round"><path d="M1.3,5.45 L1.55,-1.5 C2.35,-0.9 2.2,0.4 1.2,1.3 C0.2,2.1 0.05,3.6 1.2,3.85 C2.2,4.05 2.75,3.2 2.3,2.6 C1.9,2.1 1.2,2.4 1.3,3.0" stroke-width="0.36"/><circle cx="0.85" cy="5.2" r="0.42" fill="#111" stroke="none"/><path d="M0.85,5.2 C0.9,5.65 1.3,5.7 1.3,5.45" stroke-width="0.3"/></g><path d="M701.6,110.6 v4.4 c1.3,-0.7 2,-1.3 1.8,-2 c-0.2,-0.8 -1.2,-0.8 -1.8,0.1" fill="none" stroke="#222" stroke-width="0.55"/><path d="M704.6,113.9 v4.4 c1.3,-0.7 2,-1.3 1.8,-2 c-0.2,-0.8 -1.2,-0.8 -1.8,0.1" fill="none" stroke="#222" stroke-width="0.55"/><path d="M707.6,109.5 v4.4 c1.3,-0.7 2,-1.3 1.8,-2 c-0.2,-0.8 -1.2,-0.8 -1.8,0.1" fill="none" stroke="#222" stroke-width="0.55"/><path d="M712.8,112.3 l1.2,1.6 l-1,1.4 l1.4,1.6 M713.8,116.5 l-1,1.4 l1.3,1.8" fill="none" stroke="#111" stroke-width="1.2"/><ellipse cx="722.9" cy="116.4" rx="1.5" ry="1.1" transform="rotate(-25 722.9 116.4)" fill="#111"/><line x1="724.2" y1="116.4" x2="724.2" y2="106.8" stroke="#111" stroke-width="0.45"/><ellipse cx="732.5" cy="122.2" rx="1.5" ry="1.1" transform="rotate(-25 732.5 122.2)" fill="#111"/><line x1="733.8" y1="122.2" x2="733.8" y2="107.6" stroke="#111" stroke-width="0.45"/><ellipse cx="742" cy="123.3" rx="1.5" ry="1.1" transform="rotate(-25 742 123.3)" fill="#111"/><line x1="743.3" y1="123.3" x2="743.3" y2="108.4" stroke="#111" stroke-width="0.45"/><ellipse cx="752" cy="122.2" rx="1.5" ry="1.1" transform="rotate(-25 752 122.2)" fill="#111"/><line x1="753.3" y1="122.2" x2="753.3" y2="109.2" stroke="#111" stroke-width="0.45"/><path d="M724.2,106.8 L753.3,109.2 L753.3,110.2 L724.2,107.9 Z" fill="#111"/><path d="M724.2,108.5 L753.3,110.9 L753.3,112 L724.2,109.6 Z" fill="#111"/><ellipse cx="761.5" cy="125.1" rx="1.5" ry="1.1" transform="rotate(-25 761.5 125.1)" fill="#e3262b"/><line x1="762.8" y1="125.1" x2="762.8" y2="119.1" stroke="#111" stroke-width="0.45"/><path d="M762.8,119.1 c0.6,1.6 2.6,2 2,4.2 c0.1,-1.5 -1,-2.2 -2,-2.6z" fill="#111"/><path d="M757.9,122.7 v4.4 M759.1,122.5 v4.4 M757,124.5 l3,-0.8 M757,126 l3,-0.8" stroke="#e02020" stroke-width="0.45" fill="none"/><path d="M769,117.6 l1.6,-2.6 M768.6,113.7 c0.6,0.5 1.2,0.4 1.6,-0.3" fill="none" stroke="#111" stroke-width="0.5"/><circle cx="769" cy="113.4" r="0.5" fill="#111"/><path d="M780,117.6 l1.2,-2.2 M779.4,114.1 c0.5,0.4 1,0.3 1.2,-0.2" fill="none" stroke="#111" stroke-width="0.5"/><rect x="788.5" y="115.2" width="3" height="1" fill="#111"/><line x1="511" y1="61.5" x2="446.4" y2="103.6" stroke="#e8242a" stroke-width="0.8"/><path d="M443.5,105.5 L445.6,102.2 L447.3,104.9 Z" fill="#e8242a"/><line x1="555.5" y1="63" x2="548.1" y2="103.1" stroke="#e8242a" stroke-width="0.8"/><path d="M547.5,106.5 L546.6,102.8 L549.7,103.3 Z" fill="#e8242a"/><line x1="602.5" y1="62" x2="644.5" y2="104" stroke="#e8242a" stroke-width="0.8"/><path d="M647,106.5 L643.4,105.2 L645.7,102.9 Z" fill="#e8242a"/><line x1="636" y1="61" x2="708.5" y2="103.2" stroke="#e8242a" stroke-width="0.8"/><path d="M711.5,105 L707.7,104.6 L709.3,101.9 Z" fill="#e8242a"/><text x="443.6" y="77.3" font-size="9" text-anchor="middle" fill="#333">Variation I</text><text x="443.6" y="88.8" font-size="9" text-anchor="middle" fill="#333">NewT1</text><text x="528.5" y="82.5" font-size="9" text-anchor="middle" fill="#333">V. II</text><text x="528.5" y="93.5" font-size="9" text-anchor="middle" fill="#333">NewT2</text><text x="603.5" y="85.5" font-size="9" text-anchor="middle" fill="#333">V. III</text><text x="603.5" y="96.8" font-size="9" text-anchor="middle" fill="#333">NewT3</text><text x="693" y="69.3" font-size="9" text-anchor="middle" fill="#333">V. IV</text><text x="693" y="80.8" font-size="9" text-anchor="middle" fill="#333">NewT4</text><text x="21" y="182.5" font-size="10.5" font-weight="bold" stroke="#000" stroke-width="0.3" fill="#000">c</text><text x="233.5" y="182.5" font-size="10.5" font-weight="bold" stroke="#000" stroke-width="0.3" fill="#000" textLength="132.5" lengthAdjust="spacingAndGlyphs">Multivariate pattern analysis</text><text transform="translate(10.1,271.8) rotate(-90)" font-size="10.6" font-style="italic" text-anchor="middle" fill="#333" textLength="98.5" lengthAdjust="spacingAndGlyphs">MEG sensor analysis</text><text x="46.2" y="205.5" font-size="9.4" fill="#333" textLength="98.8" lengthAdjust="spacingAndGlyphs">Support vector machine</text><text x="70" y="216.8" font-size="9.4" fill="#333" textLength="53.8" lengthAdjust="spacingAndGlyphs">on MEG data</text><path d="M31.1,228.8 L158,230.2 L158,315.4 L75.8,323.3 L31.1,312.8Z" fill="#f0f0f0" stroke="none"/><path d="M31.1,312.8 L107.3,304 L158,315.4 L75.8,323.3Z" fill="#f6f6f6" stroke="none"/><path d="M31.1,239.3L107.3,230.5L158,240.7M31.1,249.8L107.3,241L158,251.2M31.1,260.3L107.3,251.5L158,261.7M31.1,270.8L107.3,262L158,272.2M31.1,281.3L107.3,272.5L158,282.7M31.1,291.8L107.3,283L158,293.2M31.1,302.3L107.3,293.5L158,303.7M42,228.9L42,311.4M52.8,229L52.8,310M63.7,229.2L63.7,308.6M74.5,229.3L74.5,307.2M85.4,229.5L85.4,305.8M96.2,229.6L96.2,304.4M117.4,229.4L117.4,306.3M127.6,229.6L127.6,308.6M137.7,229.9L137.7,310.8M147.9,230.2L147.9,313.1" stroke="#e2e2e2" stroke-width="0.35" fill="none"/><path d="M31.1,228.8 L31.1,312.8 L75.8,323.3 L158,315.4 L158,230.2" stroke="#b5b5b5" stroke-width="0.5" fill="none"/><path d="M31.1,233.1h1.2M31.1,244.7h1.2M31.1,256.2h1.2M31.1,267.8h1.2M31.1,279.3h1.2M31.1,290.9h1.2M31.1,302.4h1.2M31.1,314h1.2" stroke="#888" stroke-width="0.4"/><path d="M34.6,285.6 L108.1,281.3 L155.4,288.3 L77.5,293.5Z" fill="#464646" stroke="#333" stroke-width="0.3"/><path d="M71.4,283.4 L116,290.7M56.2,289.5 L131.8,284.8" stroke="#5a5a5a" stroke-width="0.35" fill="none"/><g fill="#3c3c3c"><circle cx="70.9" cy="239.6" r="0.75"/><circle cx="128.6" cy="249.4" r="0.75"/><circle cx="64.6" cy="254.5" r="0.75"/><circle cx="66.1" cy="240.4" r="0.75"/><circle cx="122.1" cy="243.4" r="0.75"/><circle cx="117.2" cy="273.8" r="0.75"/><circle cx="105.1" cy="236" r="0.75"/><circle cx="84.1" cy="244" r="0.75"/><circle cx="75.4" cy="249.3" r="0.75"/><circle cx="80.3" cy="258.6" r="0.75"/><circle cx="114.2" cy="236.6" r="0.75"/><circle cx="71.2" cy="245.1" r="0.75"/><circle cx="114.9" cy="258.6" r="0.75"/><circle cx="123.1" cy="246.6" r="0.75"/><circle cx="118.7" cy="258.1" r="0.75"/><circle cx="115.4" cy="270.8" r="0.75"/><circle cx="115.8" cy="239" r="0.75"/><circle cx="137" cy="265.8" r="0.75"/><circle cx="64.5" cy="264.1" r="0.75"/><circle cx="120.5" cy="258.1" r="0.75"/><circle cx="85" cy="262.4" r="0.75"/><circle cx="113.6" cy="269.3" r="0.75"/><circle cx="90.6" cy="261.3" r="0.75"/><circle cx="63.2" cy="265.5" r="0.75"/><circle cx="133.4" cy="246" r="0.75"/><circle cx="65.7" cy="264.1" r="0.75"/><circle cx="62.8" cy="241.4" r="0.75"/><circle cx="66.9" cy="268.2" r="0.75"/><circle cx="66.2" cy="272.5" r="0.75"/><circle cx="71.7" cy="255.1" r="0.75"/><circle cx="130" cy="270.3" r="0.75"/><circle cx="59.2" cy="253.7" r="0.75"/><circle cx="76.6" cy="242.8" r="0.75"/><circle cx="56.8" cy="246.2" r="0.75"/><circle cx="58.7" cy="247.4" r="0.75"/><circle cx="66.8" cy="253.9" r="0.75"/><circle cx="53.5" cy="265" r="0.75"/><circle cx="113.4" cy="259.9" r="0.75"/><circle cx="134.5" cy="266.8" r="0.75"/><circle cx="101.9" cy="252.3" r="0.75"/><circle cx="70.1" cy="240.9" r="0.75"/><circle cx="122.8" cy="242.8" r="0.75"/><circle cx="66.9" cy="250.6" r="0.75"/><circle cx="69.3" cy="240.8" r="0.75"/><circle cx="66.1" cy="237.7" r="0.75"/><circle cx="95.5" cy="244.2" r="0.75"/><circle cx="63.1" cy="241.7" r="0.75"/><circle cx="108.8" cy="254.7" r="0.75"/><circle cx="125.8" cy="237.6" r="0.75"/><circle cx="63.7" cy="270.7" r="0.75"/><circle cx="69.8" cy="237.6" r="0.75"/><circle cx="92.5" cy="244.1" r="0.75"/><circle cx="128.8" cy="275.1" r="0.75"/><circle cx="98.4" cy="247.9" r="0.75"/><circle cx="67.3" cy="243.5" r="0.75"/><circle cx="108.5" cy="247.8" r="0.75"/><circle cx="64.1" cy="270" r="0.75"/><circle cx="103.8" cy="266.1" r="0.75"/><circle cx="99.9" cy="246.8" r="0.75"/><circle cx="119.3" cy="235.2" r="0.75"/><circle cx="67.2" cy="247.3" r="0.75"/><circle cx="127.7" cy="273.4" r="0.75"/><circle cx="107.4" cy="251.4" r="0.75"/><circle cx="64.5" cy="246" r="0.75"/><circle cx="68.3" cy="273.7" r="0.75"/><circle cx="90.8" cy="261" r="0.75"/><circle cx="129.8" cy="237.6" r="0.75"/><circle cx="130.7" cy="265.5" r="0.75"/><circle cx="113.8" cy="241.5" r="0.75"/><circle cx="114.1" cy="274.8" r="0.75"/><circle cx="74.9" cy="253.1" r="0.75"/><circle cx="99.4" cy="244.9" r="0.75"/><circle cx="73.2" cy="269.8" r="0.75"/><circle cx="76" cy="270.6" r="0.75"/><circle cx="97" cy="250.9" r="0.75"/><circle cx="121.2" cy="274.8" r="0.75"/><circle cx="121.2" cy="256.1" r="0.75"/><circle cx="89.2" cy="268.2" r="0.75"/><circle cx="81.4" cy="247.6" r="0.75"/><circle cx="66.6" cy="247.3" r="0.75"/><circle cx="129.7" cy="239.5" r="0.75"/><circle cx="86.4" cy="254.5" r="0.75"/><circle cx="126.4" cy="272.5" r="0.75"/><circle cx="116.2" cy="256.3" r="0.75"/><circle cx="127.9" cy="241.7" r="0.75"/><circle cx="66.8" cy="269.5" r="0.75"/><circle cx="57.3" cy="259.5" r="0.75"/><circle cx="67.6" cy="257.9" r="0.75"/><circle cx="121.1" cy="257.5" r="0.75"/><circle cx="63.5" cy="248" r="0.75"/><circle cx="111.4" cy="265.9" r="0.75"/><circle cx="89.5" cy="259.6" r="0.75"/><circle cx="119.9" cy="255.5" r="0.75"/><circle cx="112.1" cy="254.1" r="0.75"/><circle cx="98.5" cy="268.4" r="0.75"/><circle cx="83.1" cy="257.9" r="0.75"/><circle cx="103.4" cy="243.8" r="0.75"/><circle cx="68.2" cy="254.8" r="0.75"/><circle cx="66.3" cy="264.2" r="0.75"/><circle cx="123.1" cy="271.7" r="0.75"/><circle cx="64.4" cy="242.5" r="0.75"/><circle cx="107.9" cy="246.6" r="0.75"/><circle cx="87.9" cy="255.5" r="0.75"/><circle cx="103.1" cy="244.6" r="0.75"/><circle cx="110.3" cy="255.7" r="0.75"/><circle cx="67.8" cy="266.3" r="0.75"/><circle cx="70.7" cy="259.4" r="0.75"/><circle cx="126.6" cy="260.2" r="0.75"/><circle cx="121.1" cy="236.7" r="0.75"/><circle cx="101.6" cy="271.6" r="0.75"/><circle cx="66" cy="268.7" r="0.75"/><circle cx="67.7" cy="242" r="0.75"/><circle cx="131.4" cy="244.9" r="0.75"/><circle cx="60.7" cy="274.4" r="0.75"/><circle cx="119.5" cy="236.4" r="0.75"/><circle cx="117.5" cy="251.9" r="0.75"/><circle cx="73.5" cy="269.6" r="0.75"/><circle cx="63.1" cy="271.8" r="0.75"/><circle cx="70.1" cy="250.6" r="0.75"/><circle cx="114.5" cy="272.9" r="0.75"/><circle cx="70.8" cy="246.4" r="0.75"/><circle cx="71.1" cy="243.3" r="0.75"/><circle cx="67.6" cy="249.2" r="0.75"/><circle cx="126.2" cy="246.2" r="0.75"/><circle cx="123.2" cy="234.8" r="0.75"/><circle cx="70.8" cy="237.3" r="0.75"/><circle cx="116.1" cy="253.9" r="0.75"/><circle cx="77.7" cy="266.5" r="0.75"/><circle cx="118.9" cy="254.8" r="0.75"/><circle cx="87.8" cy="256.1" r="0.75"/><circle cx="126.8" cy="269" r="0.75"/><circle cx="119.7" cy="260.7" r="0.75"/><circle cx="119" cy="239.5" r="0.75"/><circle cx="67.7" cy="267.1" r="0.75"/><circle cx="67.3" cy="271.2" r="0.75"/><circle cx="97.5" cy="248.6" r="0.75"/><circle cx="68.1" cy="248.7" r="0.75"/><circle cx="124.6" cy="245.1" r="0.75"/><circle cx="108" cy="257.4" r="0.75"/><circle cx="71.2" cy="276.3" r="0.75"/><circle cx="66" cy="252.3" r="0.75"/><circle cx="120.6" cy="255.1" r="0.75"/><circle cx="65.6" cy="247.5" r="0.75"/><circle cx="66.1" cy="253.1" r="0.75"/><circle cx="70.8" cy="246.2" r="0.75"/><circle cx="121.2" cy="256.2" r="0.75"/><circle cx="114.3" cy="270.9" r="0.75"/><circle cx="58.7" cy="250" r="0.75"/><circle cx="79.2" cy="263.3" r="0.75"/><circle cx="133.2" cy="271.5" r="0.75"/><circle cx="124" cy="264.8" r="0.75"/><circle cx="78.9" cy="256.7" r="0.75"/><circle cx="126.8" cy="268.7" r="0.75"/><circle cx="109.5" cy="271.5" r="0.75"/><circle cx="118.6" cy="235.3" r="0.75"/><circle cx="62.3" cy="251.5" r="0.75"/><circle cx="69.8" cy="262.4" r="0.75"/><circle cx="112.7" cy="262.6" r="0.75"/><circle cx="132.9" cy="265.4" r="0.75"/><circle cx="120.6" cy="256.5" r="0.75"/><circle cx="130.8" cy="244.6" r="0.75"/><circle cx="69.8" cy="247.5" r="0.75"/><circle cx="123.6" cy="275" r="0.75"/><circle cx="131.4" cy="250.1" r="0.75"/><circle cx="115.5" cy="259.9" r="0.75"/><circle cx="109.5" cy="237.3" r="0.75"/><circle cx="65.9" cy="249.1" r="0.75"/><circle cx="131.9" cy="234.5" r="0.75"/><circle cx="65.1" cy="265.1" r="0.75"/><circle cx="130.8" cy="246.2" r="0.75"/><circle cx="96.5" cy="308.2" r="0.75"/><circle cx="81.9" cy="306" r="0.75"/><circle cx="110.3" cy="306.8" r="0.75"/><circle cx="111.9" cy="308.7" r="0.75"/><circle cx="78.1" cy="299.7" r="0.75"/><circle cx="113.1" cy="304.1" r="0.75"/><circle cx="94" cy="309.9" r="0.75"/><circle cx="112.3" cy="305.1" r="0.75"/><circle cx="85.2" cy="306.6" r="0.75"/><circle cx="96.8" cy="309.6" r="0.75"/><circle cx="112.5" cy="305.9" r="0.75"/><circle cx="96.2" cy="312.5" r="0.75"/><circle cx="110.1" cy="305" r="0.75"/><circle cx="110.5" cy="303.9" r="0.75"/><circle cx="95.4" cy="310.3" r="0.75"/><circle cx="95.6" cy="310.2" r="0.75"/><circle cx="94.1" cy="309.7" r="0.75"/><circle cx="90.1" cy="310.3" r="0.75"/><circle cx="89.1" cy="309.1" r="0.75"/><circle cx="105.1" cy="308.1" r="0.75"/><circle cx="108.3" cy="309.4" r="0.75"/><circle cx="103.7" cy="311.4" r="0.75"/><circle cx="110.6" cy="304.6" r="0.75"/><circle cx="91.9" cy="311.4" r="0.75"/><circle cx="114.2" cy="300.9" r="0.75"/><circle cx="93.2" cy="309.1" r="0.75"/><circle cx="87.6" cy="309.3" r="0.75"/><circle cx="108.2" cy="306.8" r="0.75"/><circle cx="88" cy="309.9" r="0.75"/><circle cx="87.3" cy="307.9" r="0.75"/><circle cx="96.3" cy="310.8" r="0.75"/><circle cx="112.6" cy="305.1" r="0.75"/><circle cx="110" cy="306.4" r="0.75"/><circle cx="111.1" cy="302.5" r="0.75"/><circle cx="112.1" cy="301.4" r="0.75"/><circle cx="79.3" cy="302.9" r="0.75"/><circle cx="104.4" cy="305.6" r="0.75"/><circle cx="101.2" cy="310.4" r="0.75"/><circle cx="88" cy="312.5" r="0.75"/><circle cx="82.2" cy="307" r="0.75"/><circle cx="94.9" cy="309.3" r="0.75"/><circle cx="104.7" cy="309.6" r="0.75"/><circle cx="113.4" cy="302.8" r="0.75"/><circle cx="88.6" cy="311.4" r="0.75"/><circle cx="98" cy="309.2" r="0.75"/><circle cx="83.4" cy="307.2" r="0.75"/><circle cx="85.1" cy="309.1" r="0.75"/><circle cx="85.6" cy="306.5" r="0.75"/><circle cx="110.8" cy="306.8" r="0.75"/><circle cx="82.6" cy="306" r="0.75"/><circle cx="84.6" cy="308.5" r="0.75"/><circle cx="80.9" cy="305.7" r="0.75"/><circle cx="86.3" cy="307.9" r="0.75"/><circle cx="110.1" cy="307.7" r="0.75"/><circle cx="105.1" cy="306.6" r="0.75"/><circle cx="96.8" cy="311.1" r="0.75"/><circle cx="91.4" cy="309.3" r="0.75"/><circle cx="87.7" cy="309.1" r="0.75"/><circle cx="113.1" cy="304.7" r="0.75"/><circle cx="100.6" cy="311.1" r="0.75"/><circle cx="109.2" cy="306.3" r="0.75"/><circle cx="86.6" cy="309.5" r="0.75"/><circle cx="92.2" cy="305.7" r="0.75"/><circle cx="108.7" cy="307.7" r="0.75"/><circle cx="109.6" cy="306.2" r="0.75"/><circle cx="103.6" cy="308.8" r="0.75"/><circle cx="110.4" cy="302.9" r="0.75"/><circle cx="77.5" cy="302.6" r="0.75"/><circle cx="91.9" cy="312.7" r="0.75"/><circle cx="108.9" cy="304.7" r="0.75"/></g><text x="220" y="205.5" font-size="9.4" fill="#333" textLength="86" lengthAdjust="spacingAndGlyphs">Decoding time series</text><rect x="200.8" y="214.1" width="126.2" height="99.2" fill="#fff"/><path d="M203.8,214.1V313.3M207.4,214.1V313.3M211,214.1V313.3M214.6,214.1V313.3M218.2,214.1V313.3M221.9,214.1V313.3M225.5,214.1V313.3M229.1,214.1V313.3M232.7,214.1V313.3M236.3,214.1V313.3M239.9,214.1V313.3M243.5,214.1V313.3M247.1,214.1V313.3M250.7,214.1V313.3M254.3,214.1V313.3M258,214.1V313.3M261.6,214.1V313.3M265.2,214.1V313.3M268.8,214.1V313.3M272.4,214.1V313.3M276,214.1V313.3M279.6,214.1V313.3M283.2,214.1V313.3M286.8,214.1V313.3M290.4,214.1V313.3M294.1,214.1V313.3M297.7,214.1V313.3M301.3,214.1V313.3M304.9,214.1V313.3M308.5,214.1V313.3M312.1,214.1V313.3M315.7,214.1V313.3M319.3,214.1V313.3M322.9,214.1V313.3M326.5,214.1V313.3M200.8,313.1H327M200.8,309.8H327M200.8,306.5H327M200.8,303.2H327M200.8,299.9H327M200.8,296.6H327M200.8,293.3H327M200.8,290H327M200.8,286.7H327M200.8,283.4H327M200.8,280.1H327M200.8,276.8H327M200.8,273.5H327M200.8,270.2H327M200.8,266.9H327M200.8,263.6H327M200.8,260.3H327M200.8,257H327M200.8,253.7H327M200.8,250.4H327M200.8,247.1H327M200.8,243.8H327M200.8,240.5H327M200.8,237.2H327M200.8,233.9H327M200.8,230.6H327M200.8,227.3H327M200.8,224H327M200.8,220.7H327M200.8,217.4H327M200.8,214.1H327" stroke="#efefef" stroke-width="0.3" fill="none"/><path d="M203.8,214.1V313.3M221.9,214.1V313.3M239.9,214.1V313.3M258,214.1V313.3M276,214.1V313.3M294.1,214.1V313.3M312.1,214.1V313.3M200.8,313.1H327M200.8,296.6H327M200.8,280.1H327M200.8,263.6H327M200.8,247.1H327M200.8,230.6H327M200.8,214.1H327" stroke="#e2e2e2" stroke-width="0.35" fill="none"/><rect x="200.8" y="214.1" width="126.2" height="99.2" fill="none" stroke="#b8b8b8" stroke-width="0.5"/><text x="199.3" y="315.7" font-size="7.6" text-anchor="end" fill="#333">40</text><text x="199.3" y="299.2" font-size="7.6" text-anchor="end" fill="#333">45</text><text x="199.3" y="282.7" font-size="7.6" text-anchor="end" fill="#333">50</text><text x="199.3" y="266.2" font-size="7.6" text-anchor="end" fill="#333">55</text><text x="199.3" y="249.7" font-size="7.6" text-anchor="end" fill="#333">60</text><text x="199.3" y="233.2" font-size="7.6" text-anchor="end" fill="#333">65</text><text x="199.3" y="216.7" font-size="7.6" text-anchor="end" fill="#333">70</text><text x="203.8" y="320.5" font-size="7.6" text-anchor="middle" fill="#333">0</text><text x="223.4" y="320.5" font-size="7.6" text-anchor="middle" fill="#333">0.5</text><text x="239.9" y="320.5" font-size="7.6" text-anchor="middle" fill="#333">1</text><text x="259.5" y="320.5" font-size="7.6" text-anchor="middle" fill="#333">1.5</text><text x="276" y="320.5" font-size="7.6" text-anchor="middle" fill="#333">2</text><text x="295.6" y="320.5" font-size="7.6" text-anchor="middle" fill="#333">2.5</text><text x="312.1" y="320.5" font-size="7.6" text-anchor="middle" fill="#333">3</text><text transform="translate(182.2,266) rotate(-90)" font-size="7.6" text-anchor="middle" fill="#333" textLength="79.7" lengthAdjust="spacingAndGlyphs">Decoding accuracy (%)</text><text x="249.4" y="345.5" font-size="7.6" fill="#333" textLength="25.6" lengthAdjust="spacingAndGlyphs">Time (s)</text><g transform="translate(203.8,329.4) scale(0.85)" fill="#111" stroke="none"><ellipse cx="0" cy="0" rx="1.7" ry="1.25" transform="rotate(-25)"/><rect x="1.1" y="-7.2" width="0.6" height="7"/><path d="M1.4,-7.2 C2,-5.6 3.8,-5 3.6,-2.8 C3.4,-4 2.6,-4.6 1.4,-5.2Z"/></g><g transform="translate(216.2,329.4) scale(0.85)" fill="#111" stroke="none"><ellipse cx="0" cy="0" rx="1.7" ry="1.25" transform="rotate(-25)"/><rect x="1.1" y="-7.2" width="0.6" height="7"/><path d="M1.4,-7.2 C2,-5.6 3.8,-5 3.6,-2.8 C3.4,-4 2.6,-4.6 1.4,-5.2Z"/></g><path d="M212.2,331.9 V333.2 H220.2 V331.9" fill="none" stroke="#5cb3d8" stroke-width="0.8"/><g transform="translate(228.1,329.4) scale(0.85)" fill="#111" stroke="none"><ellipse cx="0" cy="0" rx="1.7" ry="1.25" transform="rotate(-25)"/><rect x="1.1" y="-7.2" width="0.6" height="7"/><path d="M1.4,-7.2 C2,-5.6 3.8,-5 3.6,-2.8 C3.4,-4 2.6,-4.6 1.4,-5.2Z"/></g><path d="M224.1,331.9 V333.2 H232.1 V331.9" fill="none" stroke="#4b9be3" stroke-width="0.8"/><g transform="translate(240.6,329.4) scale(0.85)" fill="#111" stroke="none"><ellipse cx="0" cy="0" rx="1.7" ry="1.25" transform="rotate(-25)"/><rect x="1.1" y="-7.2" width="0.6" height="7"/><path d="M1.4,-7.2 C2,-5.6 3.8,-5 3.6,-2.8 C3.4,-4 2.6,-4.6 1.4,-5.2Z"/></g><path d="M236.6,331.9 V333.2 H244.6 V331.9" fill="none" stroke="#3441a6" stroke-width="0.8"/><g transform="translate(253.1,329.4) scale(0.85)" fill="#111" stroke="none"><ellipse cx="0" cy="0" rx="1.7" ry="1.25" transform="rotate(-25)"/><rect x="1.1" y="-7.2" width="0.6" height="7"/><path d="M1.4,-7.2 C2,-5.6 3.8,-5 3.6,-2.8 C3.4,-4 2.6,-4.6 1.4,-5.2Z"/></g><path d="M249.1,331.9 V333.2 H257.1 V331.9" fill="none" stroke="#222" stroke-width="0.8"/><defs><clipPath id="cpD"><rect x="200.8" y="214.1" width="126.2" height="99.2"/></clipPath></defs><g clip-path="url(#cpD)" fill="none" stroke-width="1.15" stroke-linejoin="round"><path d="M200,282.8C200.2,282.7 200.5,282.7 201,281.8C201.5,281 202,279.3 202.9,277.9C203.9,276.5 205.7,274.1 206.9,273.5C208,272.8 208.7,273.6 209.8,274C211,274.4 212.3,275.6 213.8,275.9C215.2,276.3 217.5,276.3 218.7,275.9C219.9,275.6 220.3,277.7 221.1,274C222,270.2 222.7,258.4 223.6,253.3C224.5,248.3 225.6,244.2 226.5,243.5C227.5,242.8 228.5,246.9 229.5,249.4C230.5,251.9 231.5,256 232.4,258.2C233.3,260.5 234,263.3 234.9,263.2C235.8,263 236.8,257.6 237.9,257.3C238.9,256.9 240.1,260.1 241.3,261.2C242.5,262.3 244.1,263.7 245.2,264.1C246.4,264.6 247.2,265.1 248.2,264.1C249.2,263.2 250.1,258.9 251.1,258.2C252.2,257.6 253.4,259.6 254.6,260.2C255.7,260.9 256.9,263.2 258,262.2C259.1,261.2 260.2,256.3 261,254.1C261.8,252 261.9,250.6 262.9,249.3C263.9,247.9 265.7,246.2 266.8,245.9C267.9,245.6 268.6,246.1 269.7,247.3C270.8,248.5 272.1,251.2 273.6,253.2C275,255.1 276.8,257.5 278.4,259C280.1,260.4 281.5,261.1 283.3,261.9C285.1,262.7 287.2,263 289.1,263.8C291.1,264.6 293,265.5 295,266.7C296.9,268 299,270.1 300.8,271.6C302.6,273.1 304,274.7 305.6,275.5C307.2,276.3 308.7,276.5 310.5,276.5C312.3,276.5 314.7,275.6 316.3,275.5C317.9,275.4 318.6,275.6 320.2,276C321.8,276.3 325,277.2 326,277.4" stroke="#5cb3d8"/><path d="M200,284.8C200.2,284.5 200.3,284.5 201,282.8C201.6,281.2 202.7,278 203.9,275C205.2,271.9 206.9,265.6 208.4,264.6C209.8,263.7 211.6,268.1 212.8,269.1C214,270 214.4,270.1 215.7,270.5C217,270.9 219.3,270.8 220.6,271.5C222,272.3 222.5,274 223.6,275C224.7,275.9 225.7,277.5 227,277.4C228.4,277.3 230.2,276.4 231.5,274.5C232.7,272.6 233.4,270.8 234.4,266.1C235.4,261.4 236.4,251.8 237.4,246.4C238.3,241.1 239.3,235.1 240.3,234.2C241.3,233.2 242.3,237.7 243.3,240.5C244.2,243.4 245.4,248.4 246.2,251.4C247,254.3 247.4,259.1 248.2,258.2C249,257.4 250.2,247.3 251.1,246.4C252,245.6 252.6,251.4 253.6,253.3C254.6,255.3 256,257.6 257,258.2C258.1,258.9 259.2,259.9 260,257.3C260.8,254.6 261.2,247 261.9,242.5C262.7,238 263.7,232 264.4,230.3C265,228.7 265.3,230.4 265.8,232.8C266.4,235.1 266.8,241.2 267.8,244.4C268.7,247.7 270.2,250.1 271.7,252.2C273.1,254.3 274.9,255.6 276.5,257C278.1,258.5 279.6,259.8 281.4,260.9C283.1,262.1 285.2,263 287.2,263.8C289.1,264.6 291.1,265 293,265.8C295,266.6 297.4,267.6 298.8,268.7C300.3,269.8 300.5,271.3 301.7,272.6C303,273.9 305,276 306.6,276.5C308.2,276.9 309.7,275.3 311.5,275.5C313.2,275.6 315.8,276.3 317.3,277.4C318.7,278.6 319.2,281 320.2,282.3C321.2,283.6 322.1,287 323.1,285.2C324.1,283.4 325.5,273.9 326,271.6" stroke="#4b9be3"/><path d="M200,277.9C200.5,278.9 201.6,283.6 202.9,283.8C204.3,284.1 206.2,279.7 207.9,279.4C209.5,279.1 210.8,280.6 212.8,281.8C214.7,283.1 217.5,286.9 219.7,286.8C221.8,286.6 223.6,282.7 225.6,280.9C227.5,279.1 229.5,277.2 231.5,275.9C233.4,274.7 235.6,274.1 237.4,273.5C239.2,272.9 240.8,273.2 242.3,272.5C243.8,271.8 245.1,270.8 246.2,269.1C247.3,267.3 248,266.4 248.7,262.2C249.3,257.9 249.6,250.2 250.1,243.5C250.7,236.8 251.5,226 252.1,221.9C252.7,217.8 252.9,218.6 253.6,218.9C254.2,219.2 255.1,221 256,223.8C256.9,226.6 258.2,233.8 259,235.6C259.8,237.4 260.2,235.7 261,234.7C261.8,233.7 262.9,230.3 263.9,229.9C264.9,229.4 265.7,230.2 266.8,231.8C267.9,233.4 269.2,236.7 270.7,239.6C272.1,242.5 273.9,246.4 275.5,249.3C277.2,252.2 278.4,254.6 280.4,257C282.3,259.5 285.1,261.7 287.2,263.8C289.3,265.9 291.1,268.2 293,269.7C295,271.1 296.7,272 298.8,272.6C300.9,273.1 303.4,273.1 305.6,273.1C307.9,273 310.3,272.3 312.4,272.1C314.5,271.8 316.6,271.4 318.3,271.6C319.9,271.8 320.8,272.7 322.1,273.5C323.4,274.4 325.4,276 326,276.5" stroke="#3441a6"/><path d="M200,273C200.3,274.5 201,280.4 202,281.8C202.9,283.3 204.3,281.5 205.9,281.8C207.5,282.2 209.5,282.9 211.8,283.8C214.1,284.7 217.4,287.4 219.7,287.3C222,287.1 223.6,283.7 225.6,282.8C227.5,281.9 229.5,282.2 231.5,281.8C233.4,281.5 235.1,281.4 237.4,280.9C239.7,280.3 242.9,278.5 245.2,278.4C247.5,278.3 249.2,279.7 251.1,280.4C253.1,281 255.6,282.3 257,282.3C258.4,282.4 258.6,283.1 259.5,280.9C260.4,278.6 261.6,275.6 262.4,268.7C263.2,261.8 263.6,246.1 264.4,239.6C265.1,233 265.9,230.5 266.8,229.4C267.7,228.2 268.6,230.7 269.7,232.8C270.8,234.8 272.1,238.1 273.6,241.5C275,244.9 276.8,250.6 278.4,253.2C280.1,255.7 281.7,255.6 283.3,257C284.9,258.5 286.5,260.1 288.2,261.9C289.8,263.7 291.2,265.6 293,267.7C294.8,269.8 297.1,272.6 298.8,274.5C300.6,276.5 302.2,278.6 303.7,279.4C305.1,280.1 306.3,279.7 307.6,278.9C308.9,278.1 310.2,275.7 311.5,274.5C312.7,273.3 313.7,271.8 314.9,271.6C316,271.4 317,272.4 318.3,273.5C319.5,274.7 320.8,277.8 322.1,278.4C323.4,279 325.4,277.2 326,276.9" stroke="#1a1a1a"/></g><rect x="279.4" y="216.4" width="45.4" height="36" fill="#fff" stroke="#9a9a9a" stroke-width="0.45"/><line x1="282.75" y1="220.9" x2="286.9" y2="220.9" stroke="#5cb3d8" stroke-width="1"/><text x="289.1" y="223.5" font-size="7.4" fill="#333" textLength="32.7" lengthAdjust="spacingAndGlyphs">M vs NT1</text><line x1="282.75" y1="229.5" x2="286.9" y2="229.5" stroke="#4b9be3" stroke-width="1"/><text x="289.1" y="232.1" font-size="7.4" fill="#333" textLength="32.7" lengthAdjust="spacingAndGlyphs">M vs NT2</text><line x1="282.75" y1="238.2" x2="286.9" y2="238.2" stroke="#3441a6" stroke-width="1"/><text x="289.1" y="240.8" font-size="7.4" fill="#333" textLength="32.7" lengthAdjust="spacingAndGlyphs">M vs NT3</text><line x1="282.75" y1="246.8" x2="286.9" y2="246.8" stroke="#1a1a1a" stroke-width="1"/><text x="289.1" y="249.4" font-size="7.4" fill="#333" textLength="32.7" lengthAdjust="spacingAndGlyphs">M vs NT4</text><text x="369.2" y="205.6" font-size="9.4" fill="#333" textLength="95.8" lengthAdjust="spacingAndGlyphs">Temporal generalisation</text><rect x="370.6" y="216" width="105.1" height="95.2" fill="#1f8ccf"/><g shape-rendering="crispEdges"><path d="M370.6,216h2.8v2.8h-2.8zM380.6,216h2.8v2.8h-2.8zM383.1,216h2.8v2.8h-2.8zM385.6,216h2.8v2.8h-2.8zM388.1,216h2.8v2.8h-2.8zM390.6,216h2.8v2.8h-2.8zM393.1,216h2.8v2.8h-2.8zM450.7,216h2.8v2.8h-2.8zM453.2,216h2.8v2.8h-2.8zM468.2,216h2.8v2.8h-2.8zM383.1,218.5h2.8v2.8h-2.8zM388.1,218.5h2.8v2.8h-2.8zM413.1,218.5h2.8v2.8h-2.8zM440.7,218.5h2.8v2.8h-2.8zM458.2,218.5h2.8v2.8h-2.8zM465.7,218.5h2.8v2.8h-2.8zM385.6,221h2.8v2.8h-2.8zM388.1,221h2.8v2.8h-2.8zM390.6,221h2.8v2.8h-2.8zM395.6,221h2.8v2.8h-2.8zM398.1,221h2.8v2.8h-2.8zM405.6,221h2.8v2.8h-2.8zM413.1,221h2.8v2.8h-2.8zM440.7,221h2.8v2.8h-2.8zM445.7,221h2.8v2.8h-2.8zM455.7,221h2.8v2.8h-2.8zM400.6,223.5h2.8v2.8h-2.8zM408.1,223.5h2.8v2.8h-2.8zM410.6,223.5h2.8v2.8h-2.8zM415.6,223.5h2.8v2.8h-2.8zM435.7,223.5h2.8v2.8h-2.8zM440.7,223.5h2.8v2.8h-2.8zM448.2,223.5h2.8v2.8h-2.8zM450.7,223.5h2.8v2.8h-2.8zM383.1,226h2.8v2.8h-2.8zM388.1,226h2.8v2.8h-2.8zM418.1,226h2.8v2.8h-2.8zM423.1,226h2.8v2.8h-2.8zM425.7,226h2.8v2.8h-2.8zM445.7,226h2.8v2.8h-2.8zM450.7,226h2.8v2.8h-2.8zM470.7,226h2.8v2.8h-2.8zM380.6,228.5h2.8v2.8h-2.8zM405.6,228.5h2.8v2.8h-2.8zM415.6,228.5h2.8v2.8h-2.8zM423.1,228.5h2.8v2.8h-2.8zM425.7,228.5h2.8v2.8h-2.8zM428.2,228.5h2.8v2.8h-2.8zM433.2,228.5h2.8v2.8h-2.8zM435.7,228.5h2.8v2.8h-2.8zM438.2,228.5h2.8v2.8h-2.8zM440.7,228.5h2.8v2.8h-2.8zM445.7,228.5h2.8v2.8h-2.8zM380.6,231h2.8v2.8h-2.8zM408.1,231h2.8v2.8h-2.8zM415.6,231h2.8v2.8h-2.8zM423.1,231h2.8v2.8h-2.8zM425.7,231h2.8v2.8h-2.8zM430.7,231h2.8v2.8h-2.8zM435.7,231h2.8v2.8h-2.8zM443.2,231h2.8v2.8h-2.8zM405.6,233.5h2.8v2.8h-2.8zM438.2,233.5h2.8v2.8h-2.8zM405.6,236h2.8v2.8h-2.8zM408.1,236h2.8v2.8h-2.8zM433.2,236h2.8v2.8h-2.8zM438.2,236h2.8v2.8h-2.8zM385.6,238.5h2.8v2.8h-2.8zM388.1,238.5h2.8v2.8h-2.8zM408.1,238.5h2.8v2.8h-2.8zM410.6,238.5h2.8v2.8h-2.8zM413.1,238.5h2.8v2.8h-2.8zM428.2,238.5h2.8v2.8h-2.8zM430.7,238.5h2.8v2.8h-2.8zM435.7,238.5h2.8v2.8h-2.8zM383.1,241.1h2.8v2.8h-2.8zM393.1,241.1h2.8v2.8h-2.8zM415.6,241.1h2.8v2.8h-2.8zM418.1,241.1h2.8v2.8h-2.8zM428.2,241.1h2.8v2.8h-2.8zM433.2,241.1h2.8v2.8h-2.8zM435.7,241.1h2.8v2.8h-2.8zM398.1,243.6h2.8v2.8h-2.8zM410.6,243.6h2.8v2.8h-2.8zM425.7,243.6h2.8v2.8h-2.8zM393.1,246.1h2.8v2.8h-2.8zM420.6,246.1h2.8v2.8h-2.8zM423.1,246.1h2.8v2.8h-2.8zM383.1,248.6h2.8v2.8h-2.8zM388.1,248.6h2.8v2.8h-2.8zM400.6,248.6h2.8v2.8h-2.8zM383.1,251.1h2.8v2.8h-2.8zM385.6,251.1h2.8v2.8h-2.8zM390.6,251.1h2.8v2.8h-2.8zM393.1,251.1h2.8v2.8h-2.8zM385.6,253.6h2.8v2.8h-2.8zM395.6,253.6h2.8v2.8h-2.8zM440.7,253.6h2.8v2.8h-2.8zM398.1,256.1h2.8v2.8h-2.8zM398.1,258.6h2.8v2.8h-2.8zM400.6,258.6h2.8v2.8h-2.8zM435.7,258.6h2.8v2.8h-2.8zM443.2,258.6h2.8v2.8h-2.8zM458.2,258.6h2.8v2.8h-2.8zM380.6,261.1h2.8v2.8h-2.8zM463.2,261.1h2.8v2.8h-2.8zM385.6,263.6h2.8v2.8h-2.8zM390.6,263.6h2.8v2.8h-2.8zM393.1,263.6h2.8v2.8h-2.8zM445.7,263.6h2.8v2.8h-2.8zM460.7,263.6h2.8v2.8h-2.8zM463.2,263.6h2.8v2.8h-2.8zM468.2,263.6h2.8v2.8h-2.8zM388.1,266.1h2.8v2.8h-2.8zM435.7,266.1h2.8v2.8h-2.8zM443.2,266.1h2.8v2.8h-2.8zM450.7,266.1h2.8v2.8h-2.8zM453.2,266.1h2.8v2.8h-2.8zM470.7,266.1h2.8v2.8h-2.8zM378.1,268.6h2.8v2.8h-2.8zM385.6,268.6h2.8v2.8h-2.8zM388.1,268.6h2.8v2.8h-2.8zM433.2,268.6h2.8v2.8h-2.8zM435.7,268.6h2.8v2.8h-2.8zM438.2,268.6h2.8v2.8h-2.8zM443.2,268.6h2.8v2.8h-2.8zM460.7,268.6h2.8v2.8h-2.8zM465.7,268.6h2.8v2.8h-2.8zM375.6,271.1h2.8v2.8h-2.8zM378.1,271.1h2.8v2.8h-2.8zM385.6,271.1h2.8v2.8h-2.8zM395.6,271.1h2.8v2.8h-2.8zM428.2,271.1h2.8v2.8h-2.8zM430.7,271.1h2.8v2.8h-2.8zM435.7,271.1h2.8v2.8h-2.8zM443.2,271.1h2.8v2.8h-2.8zM455.7,271.1h2.8v2.8h-2.8zM373.1,273.6h2.8v2.8h-2.8zM378.1,273.6h2.8v2.8h-2.8zM380.6,273.6h2.8v2.8h-2.8zM395.6,273.6h2.8v2.8h-2.8zM423.1,273.6h2.8v2.8h-2.8zM430.7,273.6h2.8v2.8h-2.8zM433.2,273.6h2.8v2.8h-2.8zM445.7,273.6h2.8v2.8h-2.8zM448.2,273.6h2.8v2.8h-2.8zM455.7,273.6h2.8v2.8h-2.8zM463.2,273.6h2.8v2.8h-2.8zM435.7,276.1h2.8v2.8h-2.8zM453.2,276.1h2.8v2.8h-2.8zM370.6,278.6h2.8v2.8h-2.8zM373.1,278.6h2.8v2.8h-2.8zM375.6,278.6h2.8v2.8h-2.8zM383.1,278.6h2.8v2.8h-2.8zM438.2,278.6h2.8v2.8h-2.8zM443.2,278.6h2.8v2.8h-2.8zM455.7,278.6h2.8v2.8h-2.8zM460.7,278.6h2.8v2.8h-2.8zM473.2,278.6h2.8v2.8h-2.8zM370.6,281.1h2.8v2.8h-2.8zM380.6,281.1h2.8v2.8h-2.8zM385.6,281.1h2.8v2.8h-2.8zM438.2,281.1h2.8v2.8h-2.8zM450.7,281.1h2.8v2.8h-2.8zM453.2,281.1h2.8v2.8h-2.8zM455.7,281.1h2.8v2.8h-2.8zM373.1,283.6h2.8v2.8h-2.8zM375.6,283.6h2.8v2.8h-2.8zM378.1,283.6h2.8v2.8h-2.8zM383.1,283.6h2.8v2.8h-2.8zM388.1,283.6h2.8v2.8h-2.8zM390.6,283.6h2.8v2.8h-2.8zM438.2,283.6h2.8v2.8h-2.8zM440.7,283.6h2.8v2.8h-2.8zM455.7,283.6h2.8v2.8h-2.8zM458.2,283.6h2.8v2.8h-2.8zM373.1,286.1h2.8v2.8h-2.8zM375.6,286.1h2.8v2.8h-2.8zM380.6,286.1h2.8v2.8h-2.8zM443.2,286.1h2.8v2.8h-2.8zM463.2,286.1h2.8v2.8h-2.8zM380.6,288.7h2.8v2.8h-2.8zM383.1,288.7h2.8v2.8h-2.8zM385.6,288.7h2.8v2.8h-2.8zM423.1,288.7h2.8v2.8h-2.8zM435.7,288.7h2.8v2.8h-2.8zM453.2,288.7h2.8v2.8h-2.8zM420.6,291.2h2.8v2.8h-2.8zM433.2,291.2h2.8v2.8h-2.8zM463.2,291.2h2.8v2.8h-2.8zM380.6,293.7h2.8v2.8h-2.8zM385.6,293.7h2.8v2.8h-2.8zM388.1,293.7h2.8v2.8h-2.8zM418.1,293.7h2.8v2.8h-2.8zM378.1,296.2h2.8v2.8h-2.8zM383.1,296.2h2.8v2.8h-2.8zM398.1,296.2h2.8v2.8h-2.8zM413.1,296.2h2.8v2.8h-2.8zM415.6,296.2h2.8v2.8h-2.8zM428.2,296.2h2.8v2.8h-2.8zM430.7,296.2h2.8v2.8h-2.8zM393.1,298.7h2.8v2.8h-2.8zM400.6,298.7h2.8v2.8h-2.8zM403.1,298.7h2.8v2.8h-2.8zM408.1,298.7h2.8v2.8h-2.8zM410.6,298.7h2.8v2.8h-2.8zM430.7,298.7h2.8v2.8h-2.8zM465.7,298.7h2.8v2.8h-2.8zM383.1,301.2h2.8v2.8h-2.8zM393.1,301.2h2.8v2.8h-2.8zM395.6,301.2h2.8v2.8h-2.8zM405.6,301.2h2.8v2.8h-2.8zM410.6,301.2h2.8v2.8h-2.8zM430.7,301.2h2.8v2.8h-2.8zM433.2,301.2h2.8v2.8h-2.8zM378.1,303.7h2.8v2.8h-2.8zM380.6,303.7h2.8v2.8h-2.8zM390.6,303.7h2.8v2.8h-2.8zM428.2,306.2h2.8v2.8h-2.8zM428.2,308.7h2.8v2.8h-2.8zM430.7,308.7h2.8v2.8h-2.8z" fill="#1f83cf"/><path d="M373.1,216h2.8v2.8h-2.8zM375.6,216h2.8v2.8h-2.8zM395.6,216h2.8v2.8h-2.8zM455.7,216h2.8v2.8h-2.8zM378.1,218.5h2.8v2.8h-2.8zM380.6,218.5h2.8v2.8h-2.8zM403.1,218.5h2.8v2.8h-2.8zM408.1,218.5h2.8v2.8h-2.8zM460.7,218.5h2.8v2.8h-2.8zM373.1,221h2.8v2.8h-2.8zM383.1,221h2.8v2.8h-2.8zM403.1,221h2.8v2.8h-2.8zM380.6,223.5h2.8v2.8h-2.8zM405.6,223.5h2.8v2.8h-2.8zM445.7,223.5h2.8v2.8h-2.8zM473.2,223.5h2.8v2.8h-2.8zM375.6,226h2.8v2.8h-2.8zM380.6,226h2.8v2.8h-2.8zM405.6,226h2.8v2.8h-2.8zM408.1,226h2.8v2.8h-2.8zM413.1,226h2.8v2.8h-2.8zM415.6,226h2.8v2.8h-2.8zM428.2,226h2.8v2.8h-2.8zM438.2,226h2.8v2.8h-2.8zM448.2,226h2.8v2.8h-2.8zM473.2,226h2.8v2.8h-2.8zM373.1,228.5h2.8v2.8h-2.8zM413.1,228.5h2.8v2.8h-2.8zM418.1,228.5h2.8v2.8h-2.8zM443.2,228.5h2.8v2.8h-2.8zM378.1,231h2.8v2.8h-2.8zM405.6,231h2.8v2.8h-2.8zM410.6,231h2.8v2.8h-2.8zM428.2,231h2.8v2.8h-2.8zM438.2,231h2.8v2.8h-2.8zM375.6,233.5h2.8v2.8h-2.8zM378.1,233.5h2.8v2.8h-2.8zM410.6,233.5h2.8v2.8h-2.8zM413.1,233.5h2.8v2.8h-2.8zM418.1,233.5h2.8v2.8h-2.8zM420.6,233.5h2.8v2.8h-2.8zM425.7,233.5h2.8v2.8h-2.8zM430.7,233.5h2.8v2.8h-2.8zM375.6,236h2.8v2.8h-2.8zM378.1,236h2.8v2.8h-2.8zM383.1,236h2.8v2.8h-2.8zM398.1,236h2.8v2.8h-2.8zM410.6,236h2.8v2.8h-2.8zM413.1,236h2.8v2.8h-2.8zM418.1,236h2.8v2.8h-2.8zM428.2,236h2.8v2.8h-2.8zM430.7,236h2.8v2.8h-2.8zM435.7,236h2.8v2.8h-2.8zM380.6,238.5h2.8v2.8h-2.8zM418.1,238.5h2.8v2.8h-2.8zM425.7,238.5h2.8v2.8h-2.8zM370.6,241.1h2.8v2.8h-2.8zM410.6,241.1h2.8v2.8h-2.8zM413.1,241.1h2.8v2.8h-2.8zM423.1,241.1h2.8v2.8h-2.8zM373.1,243.6h2.8v2.8h-2.8zM375.6,243.6h2.8v2.8h-2.8zM390.6,243.6h2.8v2.8h-2.8zM393.1,243.6h2.8v2.8h-2.8zM395.6,243.6h2.8v2.8h-2.8zM415.6,243.6h2.8v2.8h-2.8zM388.1,246.1h2.8v2.8h-2.8zM395.6,246.1h2.8v2.8h-2.8zM390.6,248.6h2.8v2.8h-2.8zM395.6,251.1h2.8v2.8h-2.8zM398.1,251.1h2.8v2.8h-2.8zM388.1,253.6h2.8v2.8h-2.8zM395.6,256.1h2.8v2.8h-2.8zM383.1,258.6h2.8v2.8h-2.8zM385.6,258.6h2.8v2.8h-2.8zM388.1,258.6h2.8v2.8h-2.8zM395.6,258.6h2.8v2.8h-2.8zM383.1,261.1h2.8v2.8h-2.8zM388.1,261.1h2.8v2.8h-2.8zM390.6,261.1h2.8v2.8h-2.8zM393.1,261.1h2.8v2.8h-2.8zM388.1,263.6h2.8v2.8h-2.8zM395.6,263.6h2.8v2.8h-2.8zM398.1,263.6h2.8v2.8h-2.8zM430.7,263.6h2.8v2.8h-2.8zM470.7,263.6h2.8v2.8h-2.8zM383.1,266.1h2.8v2.8h-2.8zM385.6,266.1h2.8v2.8h-2.8zM433.2,266.1h2.8v2.8h-2.8zM455.7,266.1h2.8v2.8h-2.8zM383.1,271.1h2.8v2.8h-2.8zM440.7,271.1h2.8v2.8h-2.8zM448.2,271.1h2.8v2.8h-2.8zM463.2,271.1h2.8v2.8h-2.8zM375.6,273.6h2.8v2.8h-2.8zM383.1,273.6h2.8v2.8h-2.8zM385.6,273.6h2.8v2.8h-2.8zM388.1,273.6h2.8v2.8h-2.8zM435.7,273.6h2.8v2.8h-2.8zM438.2,273.6h2.8v2.8h-2.8zM443.2,273.6h2.8v2.8h-2.8zM453.2,273.6h2.8v2.8h-2.8zM465.7,273.6h2.8v2.8h-2.8zM468.2,273.6h2.8v2.8h-2.8zM378.1,276.1h2.8v2.8h-2.8zM385.6,276.1h2.8v2.8h-2.8zM445.7,276.1h2.8v2.8h-2.8zM448.2,276.1h2.8v2.8h-2.8zM455.7,276.1h2.8v2.8h-2.8zM378.1,278.6h2.8v2.8h-2.8zM380.6,278.6h2.8v2.8h-2.8zM385.6,278.6h2.8v2.8h-2.8zM435.7,278.6h2.8v2.8h-2.8zM445.7,278.6h2.8v2.8h-2.8zM448.2,278.6h2.8v2.8h-2.8zM453.2,278.6h2.8v2.8h-2.8zM375.6,281.1h2.8v2.8h-2.8zM378.1,281.1h2.8v2.8h-2.8zM388.1,281.1h2.8v2.8h-2.8zM443.2,281.1h2.8v2.8h-2.8zM445.7,281.1h2.8v2.8h-2.8zM448.2,281.1h2.8v2.8h-2.8zM465.7,281.1h2.8v2.8h-2.8zM380.6,283.6h2.8v2.8h-2.8zM385.6,283.6h2.8v2.8h-2.8zM383.1,286.1h2.8v2.8h-2.8zM385.6,286.1h2.8v2.8h-2.8zM415.6,293.7h2.8v2.8h-2.8zM420.6,293.7h2.8v2.8h-2.8zM423.1,293.7h2.8v2.8h-2.8zM425.7,293.7h2.8v2.8h-2.8zM380.6,296.2h2.8v2.8h-2.8zM418.1,296.2h2.8v2.8h-2.8zM378.1,298.7h2.8v2.8h-2.8zM380.6,298.7h2.8v2.8h-2.8zM385.6,298.7h2.8v2.8h-2.8zM390.6,298.7h2.8v2.8h-2.8zM405.6,298.7h2.8v2.8h-2.8zM413.1,298.7h2.8v2.8h-2.8zM415.6,298.7h2.8v2.8h-2.8zM418.1,298.7h2.8v2.8h-2.8zM428.2,298.7h2.8v2.8h-2.8zM370.6,301.2h2.8v2.8h-2.8zM378.1,301.2h2.8v2.8h-2.8zM400.6,301.2h2.8v2.8h-2.8zM408.1,301.2h2.8v2.8h-2.8zM413.1,301.2h2.8v2.8h-2.8zM428.2,301.2h2.8v2.8h-2.8zM383.1,303.7h2.8v2.8h-2.8zM388.1,303.7h2.8v2.8h-2.8zM395.6,303.7h2.8v2.8h-2.8zM408.1,303.7h2.8v2.8h-2.8zM413.1,303.7h2.8v2.8h-2.8zM428.2,303.7h2.8v2.8h-2.8zM430.7,303.7h2.8v2.8h-2.8zM385.6,306.2h2.8v2.8h-2.8zM418.1,306.2h2.8v2.8h-2.8zM420.6,306.2h2.8v2.8h-2.8zM425.7,306.2h2.8v2.8h-2.8zM378.1,308.7h2.8v2.8h-2.8zM385.6,308.7h2.8v2.8h-2.8zM388.1,308.7h2.8v2.8h-2.8zM405.6,308.7h2.8v2.8h-2.8zM420.6,308.7h2.8v2.8h-2.8zM423.1,308.7h2.8v2.8h-2.8zM425.7,308.7h2.8v2.8h-2.8z" fill="#217ece"/><path d="M378.1,216h2.8v2.8h-2.8zM460.7,216h2.8v2.8h-2.8zM463.2,216h2.8v2.8h-2.8zM370.6,218.5h2.8v2.8h-2.8zM375.6,218.5h2.8v2.8h-2.8zM385.6,218.5h2.8v2.8h-2.8zM370.6,221h2.8v2.8h-2.8zM375.6,221h2.8v2.8h-2.8zM378.1,221h2.8v2.8h-2.8zM373.1,223.5h2.8v2.8h-2.8zM378.1,223.5h2.8v2.8h-2.8zM403.1,223.5h2.8v2.8h-2.8zM373.1,226h2.8v2.8h-2.8zM378.1,226h2.8v2.8h-2.8zM375.6,228.5h2.8v2.8h-2.8zM473.2,228.5h2.8v2.8h-2.8zM373.1,231h2.8v2.8h-2.8zM375.6,231h2.8v2.8h-2.8zM413.1,231h2.8v2.8h-2.8zM418.1,231h2.8v2.8h-2.8zM433.2,231h2.8v2.8h-2.8zM415.6,233.5h2.8v2.8h-2.8zM433.2,233.5h2.8v2.8h-2.8zM415.6,236h2.8v2.8h-2.8zM425.7,236h2.8v2.8h-2.8zM375.6,238.5h2.8v2.8h-2.8zM405.6,238.5h2.8v2.8h-2.8zM420.6,238.5h2.8v2.8h-2.8zM423.1,238.5h2.8v2.8h-2.8zM433.2,238.5h2.8v2.8h-2.8zM373.1,241.1h2.8v2.8h-2.8zM375.6,241.1h2.8v2.8h-2.8zM430.7,241.1h2.8v2.8h-2.8zM370.6,243.6h2.8v2.8h-2.8zM428.2,243.6h2.8v2.8h-2.8zM390.6,246.1h2.8v2.8h-2.8zM385.6,248.6h2.8v2.8h-2.8zM393.1,248.6h2.8v2.8h-2.8zM395.6,248.6h2.8v2.8h-2.8zM398.1,248.6h2.8v2.8h-2.8zM385.6,261.1h2.8v2.8h-2.8zM395.6,261.1h2.8v2.8h-2.8zM383.1,263.6h2.8v2.8h-2.8zM433.2,263.6h2.8v2.8h-2.8zM445.7,268.6h2.8v2.8h-2.8zM433.2,271.1h2.8v2.8h-2.8zM428.2,273.6h2.8v2.8h-2.8zM460.7,273.6h2.8v2.8h-2.8zM380.6,276.1h2.8v2.8h-2.8zM383.1,276.1h2.8v2.8h-2.8zM438.2,276.1h2.8v2.8h-2.8zM460.7,276.1h2.8v2.8h-2.8zM440.7,278.6h2.8v2.8h-2.8zM453.2,283.6h2.8v2.8h-2.8zM388.1,296.2h2.8v2.8h-2.8zM420.6,296.2h2.8v2.8h-2.8zM423.1,296.2h2.8v2.8h-2.8zM425.7,296.2h2.8v2.8h-2.8zM383.1,298.7h2.8v2.8h-2.8zM420.6,298.7h2.8v2.8h-2.8zM425.7,298.7h2.8v2.8h-2.8zM385.6,301.2h2.8v2.8h-2.8zM388.1,301.2h2.8v2.8h-2.8zM403.1,301.2h2.8v2.8h-2.8zM415.6,301.2h2.8v2.8h-2.8zM418.1,301.2h2.8v2.8h-2.8zM425.7,301.2h2.8v2.8h-2.8zM370.6,303.7h2.8v2.8h-2.8zM375.6,303.7h2.8v2.8h-2.8zM385.6,303.7h2.8v2.8h-2.8zM398.1,303.7h2.8v2.8h-2.8zM400.6,303.7h2.8v2.8h-2.8zM403.1,303.7h2.8v2.8h-2.8zM405.6,303.7h2.8v2.8h-2.8zM410.6,303.7h2.8v2.8h-2.8zM423.1,303.7h2.8v2.8h-2.8zM425.7,303.7h2.8v2.8h-2.8zM375.6,306.2h2.8v2.8h-2.8zM378.1,306.2h2.8v2.8h-2.8zM390.6,306.2h2.8v2.8h-2.8zM393.1,306.2h2.8v2.8h-2.8zM395.6,306.2h2.8v2.8h-2.8zM400.6,306.2h2.8v2.8h-2.8zM403.1,306.2h2.8v2.8h-2.8zM408.1,306.2h2.8v2.8h-2.8zM410.6,306.2h2.8v2.8h-2.8zM375.6,308.7h2.8v2.8h-2.8zM400.6,308.7h2.8v2.8h-2.8zM403.1,308.7h2.8v2.8h-2.8zM410.6,308.7h2.8v2.8h-2.8zM413.1,308.7h2.8v2.8h-2.8zM418.1,308.7h2.8v2.8h-2.8z" fill="#237ace"/><path d="M398.1,216h2.8v2.8h-2.8zM400.6,216h2.8v2.8h-2.8zM405.6,216h2.8v2.8h-2.8zM408.1,216h2.8v2.8h-2.8zM410.6,216h2.8v2.8h-2.8zM413.1,216h2.8v2.8h-2.8zM418.1,216h2.8v2.8h-2.8zM420.6,216h2.8v2.8h-2.8zM440.7,216h2.8v2.8h-2.8zM443.2,216h2.8v2.8h-2.8zM465.7,216h2.8v2.8h-2.8zM393.1,218.5h2.8v2.8h-2.8zM395.6,218.5h2.8v2.8h-2.8zM398.1,218.5h2.8v2.8h-2.8zM405.6,218.5h2.8v2.8h-2.8zM410.6,218.5h2.8v2.8h-2.8zM445.7,218.5h2.8v2.8h-2.8zM453.2,218.5h2.8v2.8h-2.8zM455.7,218.5h2.8v2.8h-2.8zM393.1,221h2.8v2.8h-2.8zM400.6,221h2.8v2.8h-2.8zM415.6,221h2.8v2.8h-2.8zM435.7,221h2.8v2.8h-2.8zM438.2,221h2.8v2.8h-2.8zM443.2,221h2.8v2.8h-2.8zM448.2,221h2.8v2.8h-2.8zM450.7,221h2.8v2.8h-2.8zM453.2,221h2.8v2.8h-2.8zM468.2,221h2.8v2.8h-2.8zM388.1,223.5h2.8v2.8h-2.8zM393.1,223.5h2.8v2.8h-2.8zM395.6,223.5h2.8v2.8h-2.8zM398.1,223.5h2.8v2.8h-2.8zM418.1,223.5h2.8v2.8h-2.8zM420.6,223.5h2.8v2.8h-2.8zM423.1,223.5h2.8v2.8h-2.8zM430.7,223.5h2.8v2.8h-2.8zM438.2,223.5h2.8v2.8h-2.8zM443.2,223.5h2.8v2.8h-2.8zM455.7,223.5h2.8v2.8h-2.8zM385.6,226h2.8v2.8h-2.8zM390.6,226h2.8v2.8h-2.8zM403.1,226h2.8v2.8h-2.8zM420.6,226h2.8v2.8h-2.8zM430.7,226h2.8v2.8h-2.8zM433.2,226h2.8v2.8h-2.8zM435.7,226h2.8v2.8h-2.8zM443.2,226h2.8v2.8h-2.8zM378.1,228.5h2.8v2.8h-2.8zM383.1,228.5h2.8v2.8h-2.8zM400.6,228.5h2.8v2.8h-2.8zM408.1,228.5h2.8v2.8h-2.8zM420.6,228.5h2.8v2.8h-2.8zM383.1,231h2.8v2.8h-2.8zM420.6,231h2.8v2.8h-2.8zM440.7,231h2.8v2.8h-2.8zM470.7,231h2.8v2.8h-2.8zM473.2,231h2.8v2.8h-2.8zM385.6,233.5h2.8v2.8h-2.8zM388.1,233.5h2.8v2.8h-2.8zM398.1,233.5h2.8v2.8h-2.8zM408.1,233.5h2.8v2.8h-2.8zM440.7,233.5h2.8v2.8h-2.8zM473.2,233.5h2.8v2.8h-2.8zM380.6,236h2.8v2.8h-2.8zM393.1,236h2.8v2.8h-2.8zM403.1,236h2.8v2.8h-2.8zM378.1,238.5h2.8v2.8h-2.8zM390.6,238.5h2.8v2.8h-2.8zM395.6,238.5h2.8v2.8h-2.8zM403.1,238.5h2.8v2.8h-2.8zM415.6,238.5h2.8v2.8h-2.8zM438.2,238.5h2.8v2.8h-2.8zM378.1,241.1h2.8v2.8h-2.8zM380.6,241.1h2.8v2.8h-2.8zM385.6,241.1h2.8v2.8h-2.8zM400.6,241.1h2.8v2.8h-2.8zM408.1,241.1h2.8v2.8h-2.8zM420.6,241.1h2.8v2.8h-2.8zM425.7,241.1h2.8v2.8h-2.8zM468.2,241.1h2.8v2.8h-2.8zM378.1,243.6h2.8v2.8h-2.8zM385.6,243.6h2.8v2.8h-2.8zM388.1,243.6h2.8v2.8h-2.8zM413.1,243.6h2.8v2.8h-2.8zM418.1,243.6h2.8v2.8h-2.8zM420.6,243.6h2.8v2.8h-2.8zM423.1,243.6h2.8v2.8h-2.8zM430.7,243.6h2.8v2.8h-2.8zM433.2,243.6h2.8v2.8h-2.8zM435.7,243.6h2.8v2.8h-2.8zM463.2,243.6h2.8v2.8h-2.8zM370.6,246.1h2.8v2.8h-2.8zM375.6,246.1h2.8v2.8h-2.8zM383.1,246.1h2.8v2.8h-2.8zM385.6,246.1h2.8v2.8h-2.8zM398.1,246.1h2.8v2.8h-2.8zM403.1,246.1h2.8v2.8h-2.8zM405.6,246.1h2.8v2.8h-2.8zM415.6,246.1h2.8v2.8h-2.8zM425.7,246.1h2.8v2.8h-2.8zM430.7,246.1h2.8v2.8h-2.8zM375.6,248.6h2.8v2.8h-2.8zM378.1,248.6h2.8v2.8h-2.8zM380.6,248.6h2.8v2.8h-2.8zM405.6,248.6h2.8v2.8h-2.8zM428.2,248.6h2.8v2.8h-2.8zM380.6,253.6h2.8v2.8h-2.8zM398.1,253.6h2.8v2.8h-2.8zM400.6,253.6h2.8v2.8h-2.8zM445.7,253.6h2.8v2.8h-2.8zM465.7,253.6h2.8v2.8h-2.8zM388.1,256.1h2.8v2.8h-2.8zM435.7,256.1h2.8v2.8h-2.8zM440.7,256.1h2.8v2.8h-2.8zM443.2,256.1h2.8v2.8h-2.8zM445.7,256.1h2.8v2.8h-2.8zM393.1,258.6h2.8v2.8h-2.8zM440.7,258.6h2.8v2.8h-2.8zM445.7,258.6h2.8v2.8h-2.8zM450.7,258.6h2.8v2.8h-2.8zM465.7,258.6h2.8v2.8h-2.8zM470.7,258.6h2.8v2.8h-2.8zM473.2,258.6h2.8v2.8h-2.8zM398.1,261.1h2.8v2.8h-2.8zM403.1,261.1h2.8v2.8h-2.8zM430.7,261.1h2.8v2.8h-2.8zM435.7,261.1h2.8v2.8h-2.8zM438.2,261.1h2.8v2.8h-2.8zM440.7,261.1h2.8v2.8h-2.8zM455.7,261.1h2.8v2.8h-2.8zM458.2,261.1h2.8v2.8h-2.8zM465.7,261.1h2.8v2.8h-2.8zM468.2,261.1h2.8v2.8h-2.8zM470.7,261.1h2.8v2.8h-2.8zM473.2,261.1h2.8v2.8h-2.8zM435.7,263.6h2.8v2.8h-2.8zM438.2,263.6h2.8v2.8h-2.8zM440.7,263.6h2.8v2.8h-2.8zM450.7,263.6h2.8v2.8h-2.8zM455.7,263.6h2.8v2.8h-2.8zM458.2,263.6h2.8v2.8h-2.8zM465.7,263.6h2.8v2.8h-2.8zM380.6,266.1h2.8v2.8h-2.8zM395.6,266.1h2.8v2.8h-2.8zM398.1,266.1h2.8v2.8h-2.8zM438.2,266.1h2.8v2.8h-2.8zM458.2,266.1h2.8v2.8h-2.8zM460.7,266.1h2.8v2.8h-2.8zM463.2,266.1h2.8v2.8h-2.8zM465.7,266.1h2.8v2.8h-2.8zM468.2,266.1h2.8v2.8h-2.8zM380.6,268.6h2.8v2.8h-2.8zM383.1,268.6h2.8v2.8h-2.8zM440.7,268.6h2.8v2.8h-2.8zM448.2,268.6h2.8v2.8h-2.8zM450.7,268.6h2.8v2.8h-2.8zM453.2,268.6h2.8v2.8h-2.8zM458.2,268.6h2.8v2.8h-2.8zM463.2,268.6h2.8v2.8h-2.8zM468.2,268.6h2.8v2.8h-2.8zM470.7,268.6h2.8v2.8h-2.8zM473.2,268.6h2.8v2.8h-2.8zM388.1,271.1h2.8v2.8h-2.8zM390.6,271.1h2.8v2.8h-2.8zM393.1,271.1h2.8v2.8h-2.8zM425.7,271.1h2.8v2.8h-2.8zM438.2,271.1h2.8v2.8h-2.8zM445.7,271.1h2.8v2.8h-2.8zM453.2,271.1h2.8v2.8h-2.8zM458.2,271.1h2.8v2.8h-2.8zM465.7,271.1h2.8v2.8h-2.8zM468.2,271.1h2.8v2.8h-2.8zM470.7,271.1h2.8v2.8h-2.8zM370.6,273.6h2.8v2.8h-2.8zM390.6,273.6h2.8v2.8h-2.8zM393.1,273.6h2.8v2.8h-2.8zM398.1,273.6h2.8v2.8h-2.8zM425.7,273.6h2.8v2.8h-2.8zM440.7,273.6h2.8v2.8h-2.8zM450.7,273.6h2.8v2.8h-2.8zM458.2,273.6h2.8v2.8h-2.8zM373.1,276.1h2.8v2.8h-2.8zM375.6,276.1h2.8v2.8h-2.8zM440.7,276.1h2.8v2.8h-2.8zM443.2,276.1h2.8v2.8h-2.8zM463.2,276.1h2.8v2.8h-2.8zM468.2,276.1h2.8v2.8h-2.8zM470.7,276.1h2.8v2.8h-2.8zM388.1,278.6h2.8v2.8h-2.8zM425.7,278.6h2.8v2.8h-2.8zM465.7,278.6h2.8v2.8h-2.8zM468.2,278.6h2.8v2.8h-2.8zM470.7,278.6h2.8v2.8h-2.8zM410.6,281.1h2.8v2.8h-2.8zM435.7,281.1h2.8v2.8h-2.8zM458.2,281.1h2.8v2.8h-2.8zM463.2,281.1h2.8v2.8h-2.8zM470.7,281.1h2.8v2.8h-2.8zM473.2,281.1h2.8v2.8h-2.8zM370.6,283.6h2.8v2.8h-2.8zM393.1,283.6h2.8v2.8h-2.8zM415.6,283.6h2.8v2.8h-2.8zM420.6,283.6h2.8v2.8h-2.8zM423.1,283.6h2.8v2.8h-2.8zM428.2,283.6h2.8v2.8h-2.8zM443.2,283.6h2.8v2.8h-2.8zM445.7,283.6h2.8v2.8h-2.8zM450.7,283.6h2.8v2.8h-2.8zM463.2,283.6h2.8v2.8h-2.8zM408.1,286.1h2.8v2.8h-2.8zM410.6,286.1h2.8v2.8h-2.8zM440.7,286.1h2.8v2.8h-2.8zM445.7,286.1h2.8v2.8h-2.8zM450.7,286.1h2.8v2.8h-2.8zM455.7,286.1h2.8v2.8h-2.8zM458.2,286.1h2.8v2.8h-2.8zM438.2,288.7h2.8v2.8h-2.8zM448.2,288.7h2.8v2.8h-2.8zM450.7,288.7h2.8v2.8h-2.8zM455.7,288.7h2.8v2.8h-2.8zM460.7,288.7h2.8v2.8h-2.8zM380.6,291.2h2.8v2.8h-2.8zM383.1,291.2h2.8v2.8h-2.8zM388.1,291.2h2.8v2.8h-2.8zM413.1,291.2h2.8v2.8h-2.8zM418.1,291.2h2.8v2.8h-2.8zM423.1,291.2h2.8v2.8h-2.8zM438.2,291.2h2.8v2.8h-2.8zM448.2,291.2h2.8v2.8h-2.8zM458.2,291.2h2.8v2.8h-2.8zM465.7,291.2h2.8v2.8h-2.8zM468.2,291.2h2.8v2.8h-2.8zM378.1,293.7h2.8v2.8h-2.8zM383.1,293.7h2.8v2.8h-2.8zM398.1,293.7h2.8v2.8h-2.8zM400.6,293.7h2.8v2.8h-2.8zM408.1,293.7h2.8v2.8h-2.8zM410.6,293.7h2.8v2.8h-2.8zM413.1,293.7h2.8v2.8h-2.8zM428.2,293.7h2.8v2.8h-2.8zM430.7,293.7h2.8v2.8h-2.8zM433.2,293.7h2.8v2.8h-2.8zM455.7,293.7h2.8v2.8h-2.8zM385.6,296.2h2.8v2.8h-2.8zM390.6,296.2h2.8v2.8h-2.8zM393.1,296.2h2.8v2.8h-2.8zM400.6,296.2h2.8v2.8h-2.8zM408.1,296.2h2.8v2.8h-2.8zM410.6,296.2h2.8v2.8h-2.8zM440.7,296.2h2.8v2.8h-2.8zM460.7,296.2h2.8v2.8h-2.8zM468.2,296.2h2.8v2.8h-2.8zM375.6,298.7h2.8v2.8h-2.8zM388.1,298.7h2.8v2.8h-2.8zM395.6,298.7h2.8v2.8h-2.8zM398.1,298.7h2.8v2.8h-2.8zM460.7,298.7h2.8v2.8h-2.8zM373.1,301.2h2.8v2.8h-2.8zM375.6,301.2h2.8v2.8h-2.8zM390.6,301.2h2.8v2.8h-2.8zM398.1,301.2h2.8v2.8h-2.8zM435.7,306.2h2.8v2.8h-2.8zM470.7,306.2h2.8v2.8h-2.8zM473.2,306.2h2.8v2.8h-2.8zM433.2,308.7h2.8v2.8h-2.8z" fill="#1d88cf"/><path d="M403.1,216h2.8v2.8h-2.8zM438.2,216h2.8v2.8h-2.8zM445.7,216h2.8v2.8h-2.8zM390.6,218.5h2.8v2.8h-2.8zM400.6,218.5h2.8v2.8h-2.8zM420.6,218.5h2.8v2.8h-2.8zM433.2,218.5h2.8v2.8h-2.8zM443.2,218.5h2.8v2.8h-2.8zM450.7,218.5h2.8v2.8h-2.8zM463.2,218.5h2.8v2.8h-2.8zM468.2,218.5h2.8v2.8h-2.8zM410.6,221h2.8v2.8h-2.8zM418.1,221h2.8v2.8h-2.8zM423.1,221h2.8v2.8h-2.8zM425.7,221h2.8v2.8h-2.8zM428.2,221h2.8v2.8h-2.8zM460.7,221h2.8v2.8h-2.8zM465.7,221h2.8v2.8h-2.8zM383.1,223.5h2.8v2.8h-2.8zM385.6,223.5h2.8v2.8h-2.8zM390.6,223.5h2.8v2.8h-2.8zM413.1,223.5h2.8v2.8h-2.8zM425.7,223.5h2.8v2.8h-2.8zM428.2,223.5h2.8v2.8h-2.8zM433.2,223.5h2.8v2.8h-2.8zM453.2,223.5h2.8v2.8h-2.8zM393.1,226h2.8v2.8h-2.8zM398.1,226h2.8v2.8h-2.8zM400.6,226h2.8v2.8h-2.8zM440.7,226h2.8v2.8h-2.8zM453.2,226h2.8v2.8h-2.8zM468.2,226h2.8v2.8h-2.8zM388.1,228.5h2.8v2.8h-2.8zM393.1,228.5h2.8v2.8h-2.8zM395.6,228.5h2.8v2.8h-2.8zM398.1,228.5h2.8v2.8h-2.8zM403.1,228.5h2.8v2.8h-2.8zM470.7,228.5h2.8v2.8h-2.8zM400.6,231h2.8v2.8h-2.8zM403.1,231h2.8v2.8h-2.8zM445.7,231h2.8v2.8h-2.8zM448.2,231h2.8v2.8h-2.8zM468.2,231h2.8v2.8h-2.8zM380.6,233.5h2.8v2.8h-2.8zM383.1,233.5h2.8v2.8h-2.8zM390.6,233.5h2.8v2.8h-2.8zM395.6,233.5h2.8v2.8h-2.8zM400.6,233.5h2.8v2.8h-2.8zM403.1,233.5h2.8v2.8h-2.8zM435.7,233.5h2.8v2.8h-2.8zM443.2,233.5h2.8v2.8h-2.8zM445.7,233.5h2.8v2.8h-2.8zM463.2,233.5h2.8v2.8h-2.8zM470.7,233.5h2.8v2.8h-2.8zM400.6,236h2.8v2.8h-2.8zM440.7,236h2.8v2.8h-2.8zM463.2,236h2.8v2.8h-2.8zM468.2,236h2.8v2.8h-2.8zM383.1,238.5h2.8v2.8h-2.8zM393.1,238.5h2.8v2.8h-2.8zM398.1,238.5h2.8v2.8h-2.8zM400.6,238.5h2.8v2.8h-2.8zM465.7,238.5h2.8v2.8h-2.8zM470.7,238.5h2.8v2.8h-2.8zM388.1,241.1h2.8v2.8h-2.8zM395.6,241.1h2.8v2.8h-2.8zM403.1,241.1h2.8v2.8h-2.8zM405.6,241.1h2.8v2.8h-2.8zM463.2,241.1h2.8v2.8h-2.8zM465.7,241.1h2.8v2.8h-2.8zM470.7,241.1h2.8v2.8h-2.8zM400.6,243.6h2.8v2.8h-2.8zM408.1,243.6h2.8v2.8h-2.8zM458.2,243.6h2.8v2.8h-2.8zM468.2,243.6h2.8v2.8h-2.8zM473.2,243.6h2.8v2.8h-2.8zM373.1,246.1h2.8v2.8h-2.8zM380.6,246.1h2.8v2.8h-2.8zM400.6,246.1h2.8v2.8h-2.8zM408.1,246.1h2.8v2.8h-2.8zM413.1,246.1h2.8v2.8h-2.8zM433.2,246.1h2.8v2.8h-2.8zM458.2,246.1h2.8v2.8h-2.8zM460.7,246.1h2.8v2.8h-2.8zM373.1,248.6h2.8v2.8h-2.8zM420.6,248.6h2.8v2.8h-2.8zM445.7,248.6h2.8v2.8h-2.8zM453.2,248.6h2.8v2.8h-2.8zM463.2,248.6h2.8v2.8h-2.8zM468.2,248.6h2.8v2.8h-2.8zM423.1,251.1h2.8v2.8h-2.8zM455.7,251.1h2.8v2.8h-2.8zM470.7,251.1h2.8v2.8h-2.8zM383.1,253.6h2.8v2.8h-2.8zM443.2,253.6h2.8v2.8h-2.8zM450.7,253.6h2.8v2.8h-2.8zM460.7,253.6h2.8v2.8h-2.8zM380.6,256.1h2.8v2.8h-2.8zM383.1,256.1h2.8v2.8h-2.8zM393.1,256.1h2.8v2.8h-2.8zM423.1,256.1h2.8v2.8h-2.8zM438.2,256.1h2.8v2.8h-2.8zM448.2,256.1h2.8v2.8h-2.8zM453.2,256.1h2.8v2.8h-2.8zM458.2,256.1h2.8v2.8h-2.8zM460.7,256.1h2.8v2.8h-2.8zM463.2,256.1h2.8v2.8h-2.8zM465.7,256.1h2.8v2.8h-2.8zM473.2,256.1h2.8v2.8h-2.8zM380.6,258.6h2.8v2.8h-2.8zM433.2,258.6h2.8v2.8h-2.8zM453.2,258.6h2.8v2.8h-2.8zM455.7,258.6h2.8v2.8h-2.8zM400.6,261.1h2.8v2.8h-2.8zM443.2,261.1h2.8v2.8h-2.8zM445.7,261.1h2.8v2.8h-2.8zM448.2,261.1h2.8v2.8h-2.8zM450.7,261.1h2.8v2.8h-2.8zM453.2,261.1h2.8v2.8h-2.8zM460.7,261.1h2.8v2.8h-2.8zM378.1,263.6h2.8v2.8h-2.8zM380.6,263.6h2.8v2.8h-2.8zM443.2,263.6h2.8v2.8h-2.8zM453.2,263.6h2.8v2.8h-2.8zM473.2,263.6h2.8v2.8h-2.8zM425.7,266.1h2.8v2.8h-2.8zM440.7,266.1h2.8v2.8h-2.8zM445.7,266.1h2.8v2.8h-2.8zM473.2,266.1h2.8v2.8h-2.8zM373.1,268.6h2.8v2.8h-2.8zM395.6,268.6h2.8v2.8h-2.8zM398.1,268.6h2.8v2.8h-2.8zM455.7,268.6h2.8v2.8h-2.8zM373.1,271.1h2.8v2.8h-2.8zM400.6,271.1h2.8v2.8h-2.8zM420.6,271.1h2.8v2.8h-2.8zM450.7,271.1h2.8v2.8h-2.8zM460.7,271.1h2.8v2.8h-2.8zM473.2,271.1h2.8v2.8h-2.8zM415.6,273.6h2.8v2.8h-2.8zM420.6,273.6h2.8v2.8h-2.8zM473.2,273.6h2.8v2.8h-2.8zM388.1,276.1h2.8v2.8h-2.8zM395.6,276.1h2.8v2.8h-2.8zM398.1,276.1h2.8v2.8h-2.8zM420.6,276.1h2.8v2.8h-2.8zM423.1,276.1h2.8v2.8h-2.8zM425.7,276.1h2.8v2.8h-2.8zM433.2,276.1h2.8v2.8h-2.8zM458.2,276.1h2.8v2.8h-2.8zM465.7,276.1h2.8v2.8h-2.8zM473.2,276.1h2.8v2.8h-2.8zM395.6,278.6h2.8v2.8h-2.8zM420.6,278.6h2.8v2.8h-2.8zM423.1,278.6h2.8v2.8h-2.8zM458.2,278.6h2.8v2.8h-2.8zM463.2,278.6h2.8v2.8h-2.8zM373.1,281.1h2.8v2.8h-2.8zM390.6,281.1h2.8v2.8h-2.8zM395.6,281.1h2.8v2.8h-2.8zM408.1,281.1h2.8v2.8h-2.8zM425.7,281.1h2.8v2.8h-2.8zM433.2,281.1h2.8v2.8h-2.8zM440.7,281.1h2.8v2.8h-2.8zM460.7,281.1h2.8v2.8h-2.8zM400.6,283.6h2.8v2.8h-2.8zM410.6,283.6h2.8v2.8h-2.8zM413.1,283.6h2.8v2.8h-2.8zM425.7,283.6h2.8v2.8h-2.8zM433.2,283.6h2.8v2.8h-2.8zM435.7,283.6h2.8v2.8h-2.8zM460.7,283.6h2.8v2.8h-2.8zM465.7,283.6h2.8v2.8h-2.8zM468.2,283.6h2.8v2.8h-2.8zM370.6,286.1h2.8v2.8h-2.8zM378.1,286.1h2.8v2.8h-2.8zM388.1,286.1h2.8v2.8h-2.8zM418.1,286.1h2.8v2.8h-2.8zM420.6,286.1h2.8v2.8h-2.8zM423.1,286.1h2.8v2.8h-2.8zM435.7,286.1h2.8v2.8h-2.8zM438.2,286.1h2.8v2.8h-2.8zM448.2,286.1h2.8v2.8h-2.8zM453.2,286.1h2.8v2.8h-2.8zM460.7,286.1h2.8v2.8h-2.8zM465.7,286.1h2.8v2.8h-2.8zM468.2,286.1h2.8v2.8h-2.8zM473.2,286.1h2.8v2.8h-2.8zM373.1,288.7h2.8v2.8h-2.8zM375.6,288.7h2.8v2.8h-2.8zM378.1,288.7h2.8v2.8h-2.8zM398.1,288.7h2.8v2.8h-2.8zM410.6,288.7h2.8v2.8h-2.8zM420.6,288.7h2.8v2.8h-2.8zM443.2,288.7h2.8v2.8h-2.8zM470.7,288.7h2.8v2.8h-2.8zM373.1,291.2h2.8v2.8h-2.8zM410.6,291.2h2.8v2.8h-2.8zM435.7,291.2h2.8v2.8h-2.8zM440.7,291.2h2.8v2.8h-2.8zM443.2,291.2h2.8v2.8h-2.8zM455.7,291.2h2.8v2.8h-2.8zM375.6,293.7h2.8v2.8h-2.8zM403.1,293.7h2.8v2.8h-2.8zM405.6,293.7h2.8v2.8h-2.8zM435.7,293.7h2.8v2.8h-2.8zM450.7,293.7h2.8v2.8h-2.8zM453.2,293.7h2.8v2.8h-2.8zM460.7,293.7h2.8v2.8h-2.8zM463.2,293.7h2.8v2.8h-2.8zM395.6,296.2h2.8v2.8h-2.8zM403.1,296.2h2.8v2.8h-2.8zM433.2,296.2h2.8v2.8h-2.8zM435.7,296.2h2.8v2.8h-2.8zM455.7,296.2h2.8v2.8h-2.8zM463.2,296.2h2.8v2.8h-2.8zM465.7,296.2h2.8v2.8h-2.8zM473.2,296.2h2.8v2.8h-2.8zM373.1,298.7h2.8v2.8h-2.8zM433.2,298.7h2.8v2.8h-2.8zM435.7,298.7h2.8v2.8h-2.8zM463.2,298.7h2.8v2.8h-2.8zM438.2,301.2h2.8v2.8h-2.8zM468.2,301.2h2.8v2.8h-2.8zM373.1,303.7h2.8v2.8h-2.8zM460.7,303.7h2.8v2.8h-2.8zM470.7,303.7h2.8v2.8h-2.8zM430.7,306.2h2.8v2.8h-2.8zM468.2,306.2h2.8v2.8h-2.8zM435.7,308.7h2.8v2.8h-2.8zM465.7,308.7h2.8v2.8h-2.8zM470.7,308.7h2.8v2.8h-2.8z" fill="#1c8dcf"/><path d="M415.6,216h2.8v2.8h-2.8zM423.1,216h2.8v2.8h-2.8zM430.7,216h2.8v2.8h-2.8zM433.2,216h2.8v2.8h-2.8zM415.6,218.5h2.8v2.8h-2.8zM418.1,218.5h2.8v2.8h-2.8zM425.7,218.5h2.8v2.8h-2.8zM435.7,218.5h2.8v2.8h-2.8zM448.2,218.5h2.8v2.8h-2.8zM408.1,221h2.8v2.8h-2.8zM420.6,221h2.8v2.8h-2.8zM430.7,221h2.8v2.8h-2.8zM433.2,221h2.8v2.8h-2.8zM458.2,221h2.8v2.8h-2.8zM463.2,221h2.8v2.8h-2.8zM468.2,223.5h2.8v2.8h-2.8zM395.6,226h2.8v2.8h-2.8zM385.6,228.5h2.8v2.8h-2.8zM390.6,228.5h2.8v2.8h-2.8zM430.7,228.5h2.8v2.8h-2.8zM448.2,228.5h2.8v2.8h-2.8zM468.2,228.5h2.8v2.8h-2.8zM388.1,231h2.8v2.8h-2.8zM390.6,231h2.8v2.8h-2.8zM395.6,231h2.8v2.8h-2.8zM398.1,231h2.8v2.8h-2.8zM465.7,233.5h2.8v2.8h-2.8zM385.6,236h2.8v2.8h-2.8zM395.6,236h2.8v2.8h-2.8zM465.7,236h2.8v2.8h-2.8zM470.7,236h2.8v2.8h-2.8zM468.2,238.5h2.8v2.8h-2.8zM473.2,238.5h2.8v2.8h-2.8zM390.6,241.1h2.8v2.8h-2.8zM398.1,241.1h2.8v2.8h-2.8zM460.7,241.1h2.8v2.8h-2.8zM380.6,243.6h2.8v2.8h-2.8zM383.1,243.6h2.8v2.8h-2.8zM403.1,243.6h2.8v2.8h-2.8zM405.6,243.6h2.8v2.8h-2.8zM470.7,243.6h2.8v2.8h-2.8zM378.1,246.1h2.8v2.8h-2.8zM410.6,246.1h2.8v2.8h-2.8zM418.1,246.1h2.8v2.8h-2.8zM428.2,246.1h2.8v2.8h-2.8zM463.2,246.1h2.8v2.8h-2.8zM465.7,246.1h2.8v2.8h-2.8zM468.2,246.1h2.8v2.8h-2.8zM470.7,246.1h2.8v2.8h-2.8zM473.2,246.1h2.8v2.8h-2.8zM370.6,248.6h2.8v2.8h-2.8zM415.6,248.6h2.8v2.8h-2.8zM423.1,248.6h2.8v2.8h-2.8zM430.7,248.6h2.8v2.8h-2.8zM448.2,248.6h2.8v2.8h-2.8zM455.7,248.6h2.8v2.8h-2.8zM458.2,248.6h2.8v2.8h-2.8zM470.7,248.6h2.8v2.8h-2.8zM473.2,248.6h2.8v2.8h-2.8zM380.6,251.1h2.8v2.8h-2.8zM400.6,251.1h2.8v2.8h-2.8zM403.1,251.1h2.8v2.8h-2.8zM410.6,251.1h2.8v2.8h-2.8zM443.2,251.1h2.8v2.8h-2.8zM450.7,251.1h2.8v2.8h-2.8zM453.2,251.1h2.8v2.8h-2.8zM458.2,251.1h2.8v2.8h-2.8zM460.7,251.1h2.8v2.8h-2.8zM465.7,251.1h2.8v2.8h-2.8zM468.2,251.1h2.8v2.8h-2.8zM375.6,253.6h2.8v2.8h-2.8zM378.1,253.6h2.8v2.8h-2.8zM390.6,253.6h2.8v2.8h-2.8zM410.6,253.6h2.8v2.8h-2.8zM448.2,253.6h2.8v2.8h-2.8zM455.7,253.6h2.8v2.8h-2.8zM458.2,253.6h2.8v2.8h-2.8zM468.2,253.6h2.8v2.8h-2.8zM390.6,256.1h2.8v2.8h-2.8zM400.6,256.1h2.8v2.8h-2.8zM450.7,256.1h2.8v2.8h-2.8zM455.7,256.1h2.8v2.8h-2.8zM468.2,256.1h2.8v2.8h-2.8zM470.7,256.1h2.8v2.8h-2.8zM405.6,258.6h2.8v2.8h-2.8zM438.2,258.6h2.8v2.8h-2.8zM460.7,258.6h2.8v2.8h-2.8zM463.2,258.6h2.8v2.8h-2.8zM468.2,258.6h2.8v2.8h-2.8zM405.6,261.1h2.8v2.8h-2.8zM425.7,261.1h2.8v2.8h-2.8zM428.2,261.1h2.8v2.8h-2.8zM433.2,261.1h2.8v2.8h-2.8zM370.6,263.6h2.8v2.8h-2.8zM375.6,263.6h2.8v2.8h-2.8zM428.2,263.6h2.8v2.8h-2.8zM448.2,263.6h2.8v2.8h-2.8zM375.6,266.1h2.8v2.8h-2.8zM378.1,266.1h2.8v2.8h-2.8zM448.2,266.1h2.8v2.8h-2.8zM370.6,268.6h2.8v2.8h-2.8zM375.6,268.6h2.8v2.8h-2.8zM423.1,268.6h2.8v2.8h-2.8zM370.6,271.1h2.8v2.8h-2.8zM405.6,271.1h2.8v2.8h-2.8zM423.1,271.1h2.8v2.8h-2.8zM403.1,273.6h2.8v2.8h-2.8zM470.7,273.6h2.8v2.8h-2.8zM370.6,276.1h2.8v2.8h-2.8zM400.6,276.1h2.8v2.8h-2.8zM410.6,276.1h2.8v2.8h-2.8zM398.1,278.6h2.8v2.8h-2.8zM410.6,278.6h2.8v2.8h-2.8zM393.1,281.1h2.8v2.8h-2.8zM405.6,281.1h2.8v2.8h-2.8zM415.6,281.1h2.8v2.8h-2.8zM418.1,281.1h2.8v2.8h-2.8zM423.1,281.1h2.8v2.8h-2.8zM428.2,281.1h2.8v2.8h-2.8zM430.7,281.1h2.8v2.8h-2.8zM468.2,281.1h2.8v2.8h-2.8zM403.1,283.6h2.8v2.8h-2.8zM405.6,283.6h2.8v2.8h-2.8zM408.1,283.6h2.8v2.8h-2.8zM448.2,283.6h2.8v2.8h-2.8zM470.7,283.6h2.8v2.8h-2.8zM425.7,286.1h2.8v2.8h-2.8zM470.7,286.1h2.8v2.8h-2.8zM370.6,288.7h2.8v2.8h-2.8zM388.1,288.7h2.8v2.8h-2.8zM440.7,288.7h2.8v2.8h-2.8zM458.2,288.7h2.8v2.8h-2.8zM463.2,288.7h2.8v2.8h-2.8zM465.7,288.7h2.8v2.8h-2.8zM468.2,288.7h2.8v2.8h-2.8zM473.2,288.7h2.8v2.8h-2.8zM375.6,291.2h2.8v2.8h-2.8zM378.1,291.2h2.8v2.8h-2.8zM395.6,291.2h2.8v2.8h-2.8zM398.1,291.2h2.8v2.8h-2.8zM400.6,291.2h2.8v2.8h-2.8zM408.1,291.2h2.8v2.8h-2.8zM415.6,291.2h2.8v2.8h-2.8zM425.7,291.2h2.8v2.8h-2.8zM430.7,291.2h2.8v2.8h-2.8zM450.7,291.2h2.8v2.8h-2.8zM470.7,291.2h2.8v2.8h-2.8zM473.2,291.2h2.8v2.8h-2.8zM390.6,293.7h2.8v2.8h-2.8zM393.1,293.7h2.8v2.8h-2.8zM395.6,293.7h2.8v2.8h-2.8zM438.2,293.7h2.8v2.8h-2.8zM443.2,293.7h2.8v2.8h-2.8zM458.2,293.7h2.8v2.8h-2.8zM465.7,293.7h2.8v2.8h-2.8zM473.2,293.7h2.8v2.8h-2.8zM373.1,296.2h2.8v2.8h-2.8zM375.6,296.2h2.8v2.8h-2.8zM405.6,296.2h2.8v2.8h-2.8zM443.2,296.2h2.8v2.8h-2.8zM448.2,296.2h2.8v2.8h-2.8zM458.2,296.2h2.8v2.8h-2.8zM370.6,298.7h2.8v2.8h-2.8zM445.7,298.7h2.8v2.8h-2.8zM455.7,298.7h2.8v2.8h-2.8zM458.2,298.7h2.8v2.8h-2.8zM468.2,298.7h2.8v2.8h-2.8zM435.7,301.2h2.8v2.8h-2.8zM455.7,301.2h2.8v2.8h-2.8zM465.7,301.2h2.8v2.8h-2.8zM470.7,301.2h2.8v2.8h-2.8zM433.2,303.7h2.8v2.8h-2.8zM440.7,303.7h2.8v2.8h-2.8zM468.2,303.7h2.8v2.8h-2.8zM433.2,306.2h2.8v2.8h-2.8zM468.2,308.7h2.8v2.8h-2.8zM473.2,308.7h2.8v2.8h-2.8z" fill="#1c92cd"/><path d="M425.7,216h2.8v2.8h-2.8zM465.7,226h2.8v2.8h-2.8zM453.2,228.5h2.8v2.8h-2.8zM465.7,228.5h2.8v2.8h-2.8zM385.6,231h2.8v2.8h-2.8zM465.7,231h2.8v2.8h-2.8zM460.7,233.5h2.8v2.8h-2.8zM468.2,233.5h2.8v2.8h-2.8zM458.2,236h2.8v2.8h-2.8zM460.7,236h2.8v2.8h-2.8zM440.7,238.5h2.8v2.8h-2.8zM458.2,238.5h2.8v2.8h-2.8zM458.2,241.1h2.8v2.8h-2.8zM465.7,243.6h2.8v2.8h-2.8zM445.7,246.1h2.8v2.8h-2.8zM448.2,246.1h2.8v2.8h-2.8zM453.2,246.1h2.8v2.8h-2.8zM455.7,246.1h2.8v2.8h-2.8zM370.6,251.1h2.8v2.8h-2.8zM408.1,251.1h2.8v2.8h-2.8zM413.1,251.1h2.8v2.8h-2.8zM418.1,251.1h2.8v2.8h-2.8zM473.2,251.1h2.8v2.8h-2.8zM373.1,253.6h2.8v2.8h-2.8zM420.6,253.6h2.8v2.8h-2.8zM423.1,253.6h2.8v2.8h-2.8zM435.7,253.6h2.8v2.8h-2.8zM375.6,256.1h2.8v2.8h-2.8zM408.1,256.1h2.8v2.8h-2.8zM410.6,256.1h2.8v2.8h-2.8zM420.6,256.1h2.8v2.8h-2.8zM373.1,258.6h2.8v2.8h-2.8zM375.6,258.6h2.8v2.8h-2.8zM410.6,258.6h2.8v2.8h-2.8zM413.1,258.6h2.8v2.8h-2.8zM415.6,258.6h2.8v2.8h-2.8zM420.6,258.6h2.8v2.8h-2.8zM430.7,258.6h2.8v2.8h-2.8zM373.1,261.1h2.8v2.8h-2.8zM408.1,261.1h2.8v2.8h-2.8zM405.6,263.6h2.8v2.8h-2.8zM410.6,263.6h2.8v2.8h-2.8zM373.1,266.1h2.8v2.8h-2.8zM390.6,266.1h2.8v2.8h-2.8zM410.6,266.1h2.8v2.8h-2.8zM390.6,268.6h2.8v2.8h-2.8zM400.6,268.6h2.8v2.8h-2.8zM410.6,268.6h2.8v2.8h-2.8zM405.6,273.6h2.8v2.8h-2.8zM418.1,273.6h2.8v2.8h-2.8zM418.1,276.1h2.8v2.8h-2.8zM428.2,276.1h2.8v2.8h-2.8zM408.1,278.6h2.8v2.8h-2.8zM395.6,283.6h2.8v2.8h-2.8zM390.6,286.1h2.8v2.8h-2.8zM428.2,286.1h2.8v2.8h-2.8zM395.6,288.7h2.8v2.8h-2.8zM408.1,288.7h2.8v2.8h-2.8zM433.2,288.7h2.8v2.8h-2.8zM428.2,291.2h2.8v2.8h-2.8zM373.1,293.7h2.8v2.8h-2.8zM445.7,293.7h2.8v2.8h-2.8zM470.7,293.7h2.8v2.8h-2.8zM370.6,296.2h2.8v2.8h-2.8zM450.7,296.2h2.8v2.8h-2.8zM440.7,298.7h2.8v2.8h-2.8zM443.2,298.7h2.8v2.8h-2.8zM448.2,298.7h2.8v2.8h-2.8zM450.7,298.7h2.8v2.8h-2.8zM453.2,298.7h2.8v2.8h-2.8zM443.2,301.2h2.8v2.8h-2.8zM445.7,301.2h2.8v2.8h-2.8zM450.7,301.2h2.8v2.8h-2.8zM463.2,303.7h2.8v2.8h-2.8zM445.7,306.2h2.8v2.8h-2.8zM448.2,306.2h2.8v2.8h-2.8zM460.7,306.2h2.8v2.8h-2.8zM440.7,308.7h2.8v2.8h-2.8zM458.2,308.7h2.8v2.8h-2.8zM460.7,308.7h2.8v2.8h-2.8zM463.2,308.7h2.8v2.8h-2.8z" fill="#1d9ec8"/><path d="M428.2,216h2.8v2.8h-2.8zM435.7,216h2.8v2.8h-2.8zM448.2,216h2.8v2.8h-2.8zM423.1,218.5h2.8v2.8h-2.8zM428.2,218.5h2.8v2.8h-2.8zM430.7,218.5h2.8v2.8h-2.8zM438.2,218.5h2.8v2.8h-2.8zM458.2,223.5h2.8v2.8h-2.8zM460.7,223.5h2.8v2.8h-2.8zM463.2,223.5h2.8v2.8h-2.8zM455.7,226h2.8v2.8h-2.8zM450.7,228.5h2.8v2.8h-2.8zM393.1,231h2.8v2.8h-2.8zM393.1,233.5h2.8v2.8h-2.8zM448.2,233.5h2.8v2.8h-2.8zM388.1,236h2.8v2.8h-2.8zM390.6,236h2.8v2.8h-2.8zM443.2,236h2.8v2.8h-2.8zM473.2,236h2.8v2.8h-2.8zM460.7,238.5h2.8v2.8h-2.8zM463.2,238.5h2.8v2.8h-2.8zM438.2,241.1h2.8v2.8h-2.8zM455.7,241.1h2.8v2.8h-2.8zM473.2,241.1h2.8v2.8h-2.8zM450.7,243.6h2.8v2.8h-2.8zM455.7,243.6h2.8v2.8h-2.8zM460.7,243.6h2.8v2.8h-2.8zM450.7,246.1h2.8v2.8h-2.8zM403.1,248.6h2.8v2.8h-2.8zM408.1,248.6h2.8v2.8h-2.8zM410.6,248.6h2.8v2.8h-2.8zM413.1,248.6h2.8v2.8h-2.8zM418.1,248.6h2.8v2.8h-2.8zM425.7,248.6h2.8v2.8h-2.8zM443.2,248.6h2.8v2.8h-2.8zM450.7,248.6h2.8v2.8h-2.8zM460.7,248.6h2.8v2.8h-2.8zM465.7,248.6h2.8v2.8h-2.8zM375.6,251.1h2.8v2.8h-2.8zM378.1,251.1h2.8v2.8h-2.8zM405.6,251.1h2.8v2.8h-2.8zM420.6,251.1h2.8v2.8h-2.8zM425.7,251.1h2.8v2.8h-2.8zM440.7,251.1h2.8v2.8h-2.8zM445.7,251.1h2.8v2.8h-2.8zM448.2,251.1h2.8v2.8h-2.8zM463.2,251.1h2.8v2.8h-2.8zM370.6,253.6h2.8v2.8h-2.8zM393.1,253.6h2.8v2.8h-2.8zM408.1,253.6h2.8v2.8h-2.8zM438.2,253.6h2.8v2.8h-2.8zM453.2,253.6h2.8v2.8h-2.8zM463.2,253.6h2.8v2.8h-2.8zM470.7,253.6h2.8v2.8h-2.8zM473.2,253.6h2.8v2.8h-2.8zM378.1,256.1h2.8v2.8h-2.8zM378.1,258.6h2.8v2.8h-2.8zM403.1,258.6h2.8v2.8h-2.8zM408.1,258.6h2.8v2.8h-2.8zM418.1,258.6h2.8v2.8h-2.8zM448.2,258.6h2.8v2.8h-2.8zM375.6,261.1h2.8v2.8h-2.8zM378.1,261.1h2.8v2.8h-2.8zM400.6,263.6h2.8v2.8h-2.8zM403.1,263.6h2.8v2.8h-2.8zM423.1,263.6h2.8v2.8h-2.8zM425.7,263.6h2.8v2.8h-2.8zM400.6,266.1h2.8v2.8h-2.8zM423.1,266.1h2.8v2.8h-2.8zM420.6,268.6h2.8v2.8h-2.8zM425.7,268.6h2.8v2.8h-2.8zM398.1,271.1h2.8v2.8h-2.8zM418.1,271.1h2.8v2.8h-2.8zM400.6,273.6h2.8v2.8h-2.8zM390.6,276.1h2.8v2.8h-2.8zM400.6,278.6h2.8v2.8h-2.8zM433.2,278.6h2.8v2.8h-2.8zM398.1,281.1h2.8v2.8h-2.8zM413.1,281.1h2.8v2.8h-2.8zM420.6,281.1h2.8v2.8h-2.8zM418.1,283.6h2.8v2.8h-2.8zM430.7,283.6h2.8v2.8h-2.8zM473.2,283.6h2.8v2.8h-2.8zM398.1,286.1h2.8v2.8h-2.8zM400.6,286.1h2.8v2.8h-2.8zM413.1,286.1h2.8v2.8h-2.8zM433.2,286.1h2.8v2.8h-2.8zM418.1,288.7h2.8v2.8h-2.8zM425.7,288.7h2.8v2.8h-2.8zM445.7,288.7h2.8v2.8h-2.8zM405.6,291.2h2.8v2.8h-2.8zM453.2,291.2h2.8v2.8h-2.8zM460.7,291.2h2.8v2.8h-2.8zM370.6,293.7h2.8v2.8h-2.8zM440.7,293.7h2.8v2.8h-2.8zM448.2,293.7h2.8v2.8h-2.8zM468.2,293.7h2.8v2.8h-2.8zM438.2,296.2h2.8v2.8h-2.8zM445.7,296.2h2.8v2.8h-2.8zM453.2,296.2h2.8v2.8h-2.8zM470.7,296.2h2.8v2.8h-2.8zM438.2,298.7h2.8v2.8h-2.8zM470.7,298.7h2.8v2.8h-2.8zM473.2,298.7h2.8v2.8h-2.8zM453.2,301.2h2.8v2.8h-2.8zM458.2,301.2h2.8v2.8h-2.8zM460.7,301.2h2.8v2.8h-2.8zM463.2,301.2h2.8v2.8h-2.8zM473.2,301.2h2.8v2.8h-2.8zM435.7,303.7h2.8v2.8h-2.8zM438.2,303.7h2.8v2.8h-2.8zM443.2,303.7h2.8v2.8h-2.8zM445.7,303.7h2.8v2.8h-2.8zM453.2,303.7h2.8v2.8h-2.8zM458.2,303.7h2.8v2.8h-2.8zM465.7,303.7h2.8v2.8h-2.8zM473.2,303.7h2.8v2.8h-2.8zM438.2,306.2h2.8v2.8h-2.8zM458.2,306.2h2.8v2.8h-2.8zM463.2,306.2h2.8v2.8h-2.8zM465.7,306.2h2.8v2.8h-2.8zM438.2,308.7h2.8v2.8h-2.8z" fill="#1c98ca"/><path d="M458.2,216h2.8v2.8h-2.8zM373.1,218.5h2.8v2.8h-2.8zM470.7,218.5h2.8v2.8h-2.8zM380.6,221h2.8v2.8h-2.8zM470.7,221h2.8v2.8h-2.8zM473.2,221h2.8v2.8h-2.8zM370.6,223.5h2.8v2.8h-2.8zM375.6,223.5h2.8v2.8h-2.8zM410.6,226h2.8v2.8h-2.8zM423.1,233.5h2.8v2.8h-2.8zM428.2,233.5h2.8v2.8h-2.8zM370.6,236h2.8v2.8h-2.8zM373.1,236h2.8v2.8h-2.8zM423.1,236h2.8v2.8h-2.8zM373.1,238.5h2.8v2.8h-2.8zM388.1,251.1h2.8v2.8h-2.8zM385.6,256.1h2.8v2.8h-2.8zM390.6,258.6h2.8v2.8h-2.8zM380.6,271.1h2.8v2.8h-2.8zM450.7,276.1h2.8v2.8h-2.8zM450.7,278.6h2.8v2.8h-2.8zM383.1,281.1h2.8v2.8h-2.8zM385.6,291.2h2.8v2.8h-2.8zM423.1,298.7h2.8v2.8h-2.8zM380.6,301.2h2.8v2.8h-2.8zM420.6,301.2h2.8v2.8h-2.8zM423.1,301.2h2.8v2.8h-2.8zM418.1,303.7h2.8v2.8h-2.8zM370.6,306.2h2.8v2.8h-2.8zM373.1,306.2h2.8v2.8h-2.8zM380.6,306.2h2.8v2.8h-2.8zM383.1,306.2h2.8v2.8h-2.8zM398.1,306.2h2.8v2.8h-2.8zM415.6,306.2h2.8v2.8h-2.8zM423.1,306.2h2.8v2.8h-2.8zM370.6,308.7h2.8v2.8h-2.8zM380.6,308.7h2.8v2.8h-2.8zM383.1,308.7h2.8v2.8h-2.8zM390.6,308.7h2.8v2.8h-2.8zM393.1,308.7h2.8v2.8h-2.8zM395.6,308.7h2.8v2.8h-2.8zM398.1,308.7h2.8v2.8h-2.8zM415.6,308.7h2.8v2.8h-2.8z" fill="#2575cd"/><path d="M470.7,216h2.8v2.8h-2.8z" fill="#2b68ca"/><path d="M473.2,216h2.8v2.8h-2.8zM470.7,223.5h2.8v2.8h-2.8zM370.6,226h2.8v2.8h-2.8zM370.6,228.5h2.8v2.8h-2.8zM410.6,228.5h2.8v2.8h-2.8zM370.6,231h2.8v2.8h-2.8zM370.6,233.5h2.8v2.8h-2.8zM373.1,233.5h2.8v2.8h-2.8zM420.6,236h2.8v2.8h-2.8zM370.6,238.5h2.8v2.8h-2.8zM393.1,303.7h2.8v2.8h-2.8zM415.6,303.7h2.8v2.8h-2.8zM420.6,303.7h2.8v2.8h-2.8zM388.1,306.2h2.8v2.8h-2.8zM405.6,306.2h2.8v2.8h-2.8zM413.1,306.2h2.8v2.8h-2.8z" fill="#2770cd"/><path d="M473.2,218.5h2.8v2.8h-2.8zM373.1,308.7h2.8v2.8h-2.8zM408.1,308.7h2.8v2.8h-2.8z" fill="#2a6ccd"/><path d="M465.7,223.5h2.8v2.8h-2.8zM460.7,226h2.8v2.8h-2.8zM463.2,226h2.8v2.8h-2.8zM460.7,228.5h2.8v2.8h-2.8zM463.2,228.5h2.8v2.8h-2.8zM450.7,231h2.8v2.8h-2.8zM458.2,231h2.8v2.8h-2.8zM458.2,233.5h2.8v2.8h-2.8zM453.2,238.5h2.8v2.8h-2.8zM448.2,243.6h2.8v2.8h-2.8zM373.1,251.1h2.8v2.8h-2.8zM418.1,253.6h2.8v2.8h-2.8zM413.1,256.1h2.8v2.8h-2.8zM423.1,258.6h2.8v2.8h-2.8zM408.1,263.6h2.8v2.8h-2.8zM415.6,263.6h2.8v2.8h-2.8zM413.1,276.1h2.8v2.8h-2.8zM390.6,278.6h2.8v2.8h-2.8zM428.2,278.6h2.8v2.8h-2.8zM403.1,281.1h2.8v2.8h-2.8zM398.1,283.6h2.8v2.8h-2.8zM395.6,286.1h2.8v2.8h-2.8zM403.1,286.1h2.8v2.8h-2.8zM405.6,286.1h2.8v2.8h-2.8zM413.1,288.7h2.8v2.8h-2.8zM403.1,291.2h2.8v2.8h-2.8zM440.7,301.2h2.8v2.8h-2.8zM448.2,301.2h2.8v2.8h-2.8zM448.2,303.7h2.8v2.8h-2.8zM450.7,303.7h2.8v2.8h-2.8zM455.7,303.7h2.8v2.8h-2.8zM443.2,306.2h2.8v2.8h-2.8zM450.7,306.2h2.8v2.8h-2.8zM443.2,308.7h2.8v2.8h-2.8zM450.7,308.7h2.8v2.8h-2.8z" fill="#1eaac3"/><path d="M458.2,226h2.8v2.8h-2.8zM460.7,231h2.8v2.8h-2.8zM463.2,231h2.8v2.8h-2.8zM455.7,238.5h2.8v2.8h-2.8zM453.2,241.1h2.8v2.8h-2.8zM453.2,243.6h2.8v2.8h-2.8zM415.6,251.1h2.8v2.8h-2.8zM428.2,251.1h2.8v2.8h-2.8zM425.7,253.6h2.8v2.8h-2.8zM370.6,256.1h2.8v2.8h-2.8zM425.7,256.1h2.8v2.8h-2.8zM433.2,256.1h2.8v2.8h-2.8zM370.6,258.6h2.8v2.8h-2.8zM370.6,261.1h2.8v2.8h-2.8zM410.6,261.1h2.8v2.8h-2.8zM413.1,261.1h2.8v2.8h-2.8zM415.6,261.1h2.8v2.8h-2.8zM418.1,261.1h2.8v2.8h-2.8zM373.1,263.6h2.8v2.8h-2.8zM413.1,263.6h2.8v2.8h-2.8zM370.6,266.1h2.8v2.8h-2.8zM408.1,266.1h2.8v2.8h-2.8zM420.6,266.1h2.8v2.8h-2.8zM430.7,266.1h2.8v2.8h-2.8zM408.1,268.6h2.8v2.8h-2.8zM430.7,268.6h2.8v2.8h-2.8zM403.1,271.1h2.8v2.8h-2.8zM408.1,271.1h2.8v2.8h-2.8zM415.6,271.1h2.8v2.8h-2.8zM410.6,273.6h2.8v2.8h-2.8zM413.1,273.6h2.8v2.8h-2.8zM393.1,276.1h2.8v2.8h-2.8zM408.1,276.1h2.8v2.8h-2.8zM430.7,276.1h2.8v2.8h-2.8zM413.1,278.6h2.8v2.8h-2.8zM415.6,286.1h2.8v2.8h-2.8zM430.7,286.1h2.8v2.8h-2.8zM400.6,288.7h2.8v2.8h-2.8zM370.6,291.2h2.8v2.8h-2.8zM393.1,291.2h2.8v2.8h-2.8zM445.7,291.2h2.8v2.8h-2.8zM440.7,306.2h2.8v2.8h-2.8zM453.2,306.2h2.8v2.8h-2.8zM455.7,306.2h2.8v2.8h-2.8zM445.7,308.7h2.8v2.8h-2.8zM453.2,308.7h2.8v2.8h-2.8zM455.7,308.7h2.8v2.8h-2.8z" fill="#1da4c5"/><path d="M455.7,228.5h2.8v2.8h-2.8zM455.7,231h2.8v2.8h-2.8zM455.7,233.5h2.8v2.8h-2.8zM445.7,236h2.8v2.8h-2.8zM455.7,236h2.8v2.8h-2.8zM443.2,238.5h2.8v2.8h-2.8zM440.7,241.1h2.8v2.8h-2.8zM450.7,241.1h2.8v2.8h-2.8zM438.2,243.6h2.8v2.8h-2.8zM443.2,246.1h2.8v2.8h-2.8zM440.7,248.6h2.8v2.8h-2.8zM438.2,251.1h2.8v2.8h-2.8zM405.6,253.6h2.8v2.8h-2.8zM420.6,261.1h2.8v2.8h-2.8zM420.6,263.6h2.8v2.8h-2.8zM428.2,268.6h2.8v2.8h-2.8zM418.1,278.6h2.8v2.8h-2.8zM390.6,291.2h2.8v2.8h-2.8zM448.2,308.7h2.8v2.8h-2.8z" fill="#2badb8"/><path d="M458.2,228.5h2.8v2.8h-2.8zM450.7,233.5h2.8v2.8h-2.8zM453.2,236h2.8v2.8h-2.8zM450.7,238.5h2.8v2.8h-2.8zM435.7,246.1h2.8v2.8h-2.8zM433.2,248.6h2.8v2.8h-2.8zM403.1,253.6h2.8v2.8h-2.8zM413.1,253.6h2.8v2.8h-2.8zM373.1,256.1h2.8v2.8h-2.8zM405.6,256.1h2.8v2.8h-2.8zM425.7,258.6h2.8v2.8h-2.8zM423.1,261.1h2.8v2.8h-2.8zM418.1,263.6h2.8v2.8h-2.8zM393.1,266.1h2.8v2.8h-2.8zM393.1,268.6h2.8v2.8h-2.8zM413.1,271.1h2.8v2.8h-2.8zM408.1,273.6h2.8v2.8h-2.8zM430.7,278.6h2.8v2.8h-2.8zM400.6,281.1h2.8v2.8h-2.8zM393.1,286.1h2.8v2.8h-2.8zM405.6,288.7h2.8v2.8h-2.8z" fill="#38b0ad"/><path d="M453.2,231h2.8v2.8h-2.8zM453.2,233.5h2.8v2.8h-2.8zM448.2,236h2.8v2.8h-2.8zM445.7,238.5h2.8v2.8h-2.8zM448.2,241.1h2.8v2.8h-2.8zM443.2,243.6h2.8v2.8h-2.8zM403.1,256.1h2.8v2.8h-2.8zM418.1,256.1h2.8v2.8h-2.8zM405.6,266.1h2.8v2.8h-2.8zM413.1,266.1h2.8v2.8h-2.8zM428.2,266.1h2.8v2.8h-2.8zM418.1,268.6h2.8v2.8h-2.8zM415.6,276.1h2.8v2.8h-2.8zM393.1,278.6h2.8v2.8h-2.8zM405.6,278.6h2.8v2.8h-2.8z" fill="#46b4a2"/><path d="M450.7,236h2.8v2.8h-2.8zM443.2,241.1h2.8v2.8h-2.8zM445.7,241.1h2.8v2.8h-2.8zM440.7,243.6h2.8v2.8h-2.8zM438.2,246.1h2.8v2.8h-2.8zM440.7,246.1h2.8v2.8h-2.8zM438.2,248.6h2.8v2.8h-2.8zM435.7,251.1h2.8v2.8h-2.8zM403.1,268.6h2.8v2.8h-2.8zM403.1,276.1h2.8v2.8h-2.8zM405.6,276.1h2.8v2.8h-2.8zM415.6,278.6h2.8v2.8h-2.8zM415.6,288.7h2.8v2.8h-2.8z" fill="#60ba8c"/><path d="M448.2,238.5h2.8v2.8h-2.8zM445.7,243.6h2.8v2.8h-2.8zM405.6,268.6h2.8v2.8h-2.8zM410.6,271.1h2.8v2.8h-2.8zM428.2,288.7h2.8v2.8h-2.8z" fill="#53b797"/><path d="M435.7,248.6h2.8v2.8h-2.8zM430.7,251.1h2.8v2.8h-2.8zM433.2,251.1h2.8v2.8h-2.8zM433.2,253.6h2.8v2.8h-2.8zM428.2,258.6h2.8v2.8h-2.8zM403.1,266.1h2.8v2.8h-2.8zM403.1,288.7h2.8v2.8h-2.8zM430.7,288.7h2.8v2.8h-2.8z" fill="#6ebe82"/><path d="M415.6,253.6h2.8v2.8h-2.8zM415.6,256.1h2.8v2.8h-2.8zM390.6,288.7h2.8v2.8h-2.8z" fill="#7dbf77"/><path d="M428.2,253.6h2.8v2.8h-2.8z" fill="#e3ce33"/><path d="M430.7,253.6h2.8v2.8h-2.8zM428.2,256.1h2.8v2.8h-2.8z" fill="#fad426"/><path d="M430.7,256.1h2.8v2.8h-2.8z" fill="#f2d22a"/><path d="M415.6,266.1h2.8v2.8h-2.8z" fill="#bdc64b"/><path d="M418.1,266.1h2.8v2.8h-2.8z" fill="#8dc16c"/><path d="M413.1,268.6h2.8v2.8h-2.8z" fill="#9dc361"/><path d="M415.6,268.6h2.8v2.8h-2.8z" fill="#cdc841"/><path d="M403.1,278.6h2.8v2.8h-2.8zM393.1,288.7h2.8v2.8h-2.8z" fill="#adc456"/></g><text x="373.8" y="318.2" font-size="7.6" text-anchor="middle" fill="#333">0</text><text x="368.2" y="310.2" font-size="7.6" text-anchor="end" fill="#333">0</text><text x="390.6" y="318.2" font-size="7.6" text-anchor="middle" fill="#333">0.5</text><text x="368.2" y="295" font-size="7.6" text-anchor="end" fill="#333">0.5</text><text x="407.4" y="318.2" font-size="7.6" text-anchor="middle" fill="#333">1</text><text x="368.2" y="279.7" font-size="7.6" text-anchor="end" fill="#333">1</text><text x="424.3" y="318.2" font-size="7.6" text-anchor="middle" fill="#333">1.5</text><text x="368.2" y="264.5" font-size="7.6" text-anchor="end" fill="#333">1.5</text><text x="441.1" y="318.2" font-size="7.6" text-anchor="middle" fill="#333">2</text><text x="368.2" y="249.2" font-size="7.6" text-anchor="end" fill="#333">2</text><text x="457.9" y="318.2" font-size="7.6" text-anchor="middle" fill="#333">2.5</text><text x="368.2" y="234" font-size="7.6" text-anchor="end" fill="#333">2.5</text><text x="474.8" y="318.2" font-size="7.6" text-anchor="middle" fill="#333">3</text><text x="368.2" y="218.7" font-size="7.6" text-anchor="end" fill="#333">3</text><text transform="translate(351,264.6) rotate(-90)" font-size="7.6" text-anchor="middle" fill="#333" textLength="58" lengthAdjust="spacingAndGlyphs">Testing time (s)</text><text x="399.3" y="345" font-size="7.6" fill="#333" textLength="51.5" lengthAdjust="spacingAndGlyphs">Training time (s)</text><g transform="translate(373.5,329.4) scale(0.85)" fill="#111" stroke="none"><ellipse cx="0" cy="0" rx="1.7" ry="1.25" transform="rotate(-25)"/><rect x="1.1" y="-7.2" width="0.6" height="7"/><path d="M1.4,-7.2 C2,-5.6 3.8,-5 3.6,-2.8 C3.4,-4 2.6,-4.6 1.4,-5.2Z"/></g><g transform="translate(386.2,329.4) scale(0.85)" fill="#111" stroke="none"><ellipse cx="0" cy="0" rx="1.7" ry="1.25" transform="rotate(-25)"/><rect x="1.1" y="-7.2" width="0.6" height="7"/><path d="M1.4,-7.2 C2,-5.6 3.8,-5 3.6,-2.8 C3.4,-4 2.6,-4.6 1.4,-5.2Z"/></g><path d="M382.2,332 V333.3 H390.2 V332" fill="none" stroke="#5cb3d8" stroke-width="0.8"/><g transform="translate(398.2,329.4) scale(0.85)" fill="#111" stroke="none"><ellipse cx="0" cy="0" rx="1.7" ry="1.25" transform="rotate(-25)"/><rect x="1.1" y="-7.2" width="0.6" height="7"/><path d="M1.4,-7.2 C2,-5.6 3.8,-5 3.6,-2.8 C3.4,-4 2.6,-4.6 1.4,-5.2Z"/></g><path d="M394.2,332 V333.3 H402.2 V332" fill="none" stroke="#4b9be3" stroke-width="0.8"/><g transform="translate(411,329.4) scale(0.85)" fill="#111" stroke="none"><ellipse cx="0" cy="0" rx="1.7" ry="1.25" transform="rotate(-25)"/><rect x="1.1" y="-7.2" width="0.6" height="7"/><path d="M1.4,-7.2 C2,-5.6 3.8,-5 3.6,-2.8 C3.4,-4 2.6,-4.6 1.4,-5.2Z"/></g><path d="M407,332 V333.3 H415 V332" fill="none" stroke="#3441a6" stroke-width="0.8"/><g transform="translate(423,329.4) scale(0.85)" fill="#111" stroke="none"><ellipse cx="0" cy="0" rx="1.7" ry="1.25" transform="rotate(-25)"/><rect x="1.1" y="-7.2" width="0.6" height="7"/><path d="M1.4,-7.2 C2,-5.6 3.8,-5 3.6,-2.8 C3.4,-4 2.6,-4.6 1.4,-5.2Z"/></g><path d="M419,332 V333.3 H427 V332" fill="none" stroke="#222" stroke-width="0.8"/><text x="496" y="205.6" font-size="9.4" fill="#333" textLength="75.7" lengthAdjust="spacingAndGlyphs">Activation patterns</text><path d="M528.3,229.2 L534.3,223.6 L540.3,229.2" fill="#fff" stroke="#555" stroke-width="0.5"/><rect x="500.4" y="254.6" width="3.4" height="13.4" rx="1.2" fill="#fff" stroke="#555" stroke-width="0.5"/><rect x="564.8" y="254.6" width="3.4" height="13.4" rx="1.2" fill="#fff" stroke="#555" stroke-width="0.5"/><circle cx="534.3" cy="259.3" r="30.6" fill="#fff" stroke="#555" stroke-width="0.55"/><g fill="#8c8c8c"><circle cx="537.3" cy="260.2" r="0.36"/><circle cx="535" cy="262.4" r="0.36"/><circle cx="532" cy="261.4" r="0.36"/><circle cx="531.3" cy="258.4" r="0.36"/><circle cx="533.6" cy="256.2" r="0.36"/><circle cx="536.6" cy="257.2" r="0.36"/><circle cx="539.4" cy="262.9" r="0.36"/><circle cx="537.2" cy="264.9" r="0.36"/><circle cx="534.3" cy="265.6" r="0.36"/><circle cx="531.4" cy="264.9" r="0.36"/><circle cx="529.2" cy="262.9" r="0.36"/><circle cx="528.1" cy="260.1" r="0.36"/><circle cx="528.5" cy="257.1" r="0.36"/><circle cx="530.2" cy="254.6" r="0.36"/><circle cx="532.8" cy="253.2" r="0.36"/><circle cx="535.8" cy="253.2" r="0.36"/><circle cx="538.4" cy="254.5" r="0.36"/><circle cx="540.1" cy="257" r="0.36"/><circle cx="540.5" cy="260" r="0.36"/><circle cx="540.1" cy="266.7" r="0.36"/><circle cx="537.4" cy="268.2" r="0.36"/><circle cx="534.4" cy="268.8" r="0.36"/><circle cx="531.4" cy="268.3" r="0.36"/><circle cx="528.7" cy="266.8" r="0.36"/><circle cx="526.6" cy="264.6" r="0.36"/><circle cx="525.3" cy="261.7" r="0.36"/><circle cx="525" cy="258.6" r="0.36"/><circle cx="525.7" cy="255.6" r="0.36"/><circle cx="527.4" cy="252.9" r="0.36"/><circle cx="529.8" cy="251" r="0.36"/><circle cx="532.7" cy="250" r="0.36"/><circle cx="535.7" cy="249.9" r="0.36"/><circle cx="538.6" cy="250.9" r="0.36"/><circle cx="541.1" cy="252.8" r="0.36"/><circle cx="542.8" cy="255.4" r="0.36"/><circle cx="543.6" cy="258.4" r="0.36"/><circle cx="543.3" cy="261.5" r="0.36"/><circle cx="542.1" cy="264.4" r="0.36"/><circle cx="538.8" cy="271.1" r="0.36"/><circle cx="535.9" cy="271.8" r="0.36"/><circle cx="532.9" cy="271.9" r="0.36"/><circle cx="530" cy="271.2" r="0.36"/><circle cx="527.3" cy="269.8" r="0.36"/><circle cx="525.1" cy="267.8" r="0.36"/><circle cx="523.4" cy="265.3" r="0.36"/><circle cx="522.3" cy="262.4" r="0.36"/><circle cx="521.9" cy="259.4" r="0.36"/><circle cx="522.2" cy="256.4" r="0.36"/><circle cx="523.3" cy="253.5" r="0.36"/><circle cx="525" cy="251" r="0.36"/><circle cx="527.2" cy="249" r="0.36"/><circle cx="529.8" cy="247.5" r="0.36"/><circle cx="532.7" cy="246.8" r="0.36"/><circle cx="535.7" cy="246.7" r="0.36"/><circle cx="538.6" cy="247.4" r="0.36"/><circle cx="541.3" cy="248.8" r="0.36"/><circle cx="543.5" cy="250.8" r="0.36"/><circle cx="545.2" cy="253.3" r="0.36"/><circle cx="546.3" cy="256.2" r="0.36"/><circle cx="546.7" cy="259.2" r="0.36"/><circle cx="546.4" cy="262.2" r="0.36"/><circle cx="545.3" cy="265.1" r="0.36"/><circle cx="543.6" cy="267.6" r="0.36"/><circle cx="541.4" cy="269.6" r="0.36"/><circle cx="535.4" cy="275.1" r="0.36"/><circle cx="532.4" cy="275" r="0.36"/><circle cx="529.4" cy="274.3" r="0.36"/><circle cx="526.6" cy="273" r="0.36"/><circle cx="524.1" cy="271.2" r="0.36"/><circle cx="522.1" cy="269" r="0.36"/><circle cx="520.4" cy="266.4" r="0.36"/><circle cx="519.3" cy="263.5" r="0.36"/><circle cx="518.8" cy="260.4" r="0.36"/><circle cx="518.9" cy="257.3" r="0.36"/><circle cx="519.6" cy="254.3" r="0.36"/><circle cx="520.8" cy="251.5" r="0.36"/><circle cx="522.6" cy="248.9" r="0.36"/><circle cx="524.8" cy="246.8" r="0.36"/><circle cx="527.4" cy="245.2" r="0.36"/><circle cx="530.2" cy="244.1" r="0.36"/><circle cx="533.2" cy="243.5" r="0.36"/><circle cx="536.2" cy="243.6" r="0.36"/><circle cx="539.2" cy="244.3" r="0.36"/><circle cx="542" cy="245.6" r="0.36"/><circle cx="544.5" cy="247.4" r="0.36"/><circle cx="546.5" cy="249.6" r="0.36"/><circle cx="548.2" cy="252.2" r="0.36"/><circle cx="549.3" cy="255.1" r="0.36"/><circle cx="549.8" cy="258.2" r="0.36"/><circle cx="549.7" cy="261.3" r="0.36"/><circle cx="549" cy="264.3" r="0.36"/><circle cx="547.8" cy="267.1" r="0.36"/><circle cx="546" cy="269.7" r="0.36"/><circle cx="543.8" cy="271.8" r="0.36"/><circle cx="541.2" cy="273.4" r="0.36"/><circle cx="538.4" cy="274.5" r="0.36"/><circle cx="530.1" cy="277.8" r="0.36"/><circle cx="527.2" cy="276.8" r="0.36"/><circle cx="524.6" cy="275.5" r="0.36"/><circle cx="522.1" cy="273.7" r="0.36"/><circle cx="520" cy="271.5" r="0.36"/><circle cx="518.3" cy="269" r="0.36"/><circle cx="517" cy="266.2" r="0.36"/><circle cx="516.1" cy="263.3" r="0.36"/><circle cx="515.7" cy="260.3" r="0.36"/><circle cx="515.8" cy="257.2" r="0.36"/><circle cx="516.4" cy="254.2" r="0.36"/><circle cx="517.4" cy="251.4" r="0.36"/><circle cx="518.9" cy="248.7" r="0.36"/><circle cx="520.7" cy="246.3" r="0.36"/><circle cx="522.9" cy="244.3" r="0.36"/><circle cx="525.5" cy="242.6" r="0.36"/><circle cx="528.2" cy="241.4" r="0.36"/><circle cx="531.1" cy="240.6" r="0.36"/><circle cx="534.1" cy="240.3" r="0.36"/><circle cx="537.1" cy="240.5" r="0.36"/><circle cx="540" cy="241.2" r="0.36"/><circle cx="542.7" cy="242.4" r="0.36"/><circle cx="545.3" cy="244" r="0.36"/><circle cx="547.6" cy="246" r="0.36"/><circle cx="549.5" cy="248.3" r="0.36"/><circle cx="551" cy="251" r="0.36"/><circle cx="552.1" cy="253.8" r="0.36"/><circle cx="552.7" cy="256.8" r="0.36"/><circle cx="552.9" cy="259.8" r="0.36"/><circle cx="552.6" cy="262.9" r="0.36"/><circle cx="551.8" cy="265.8" r="0.36"/><circle cx="550.5" cy="268.6" r="0.36"/><circle cx="548.9" cy="271.1" r="0.36"/><circle cx="546.8" cy="273.3" r="0.36"/><circle cx="544.4" cy="275.2" r="0.36"/><circle cx="541.8" cy="276.7" r="0.36"/><circle cx="539" cy="277.7" r="0.36"/><circle cx="536" cy="278.2" r="0.36"/><circle cx="533" cy="278.2" r="0.36"/><circle cx="523.3" cy="278.4" r="0.36"/><circle cx="520.8" cy="276.7" r="0.36"/><circle cx="518.6" cy="274.6" r="0.36"/><circle cx="516.7" cy="272.2" r="0.36"/><circle cx="515.1" cy="269.6" r="0.36"/><circle cx="513.9" cy="266.8" r="0.36"/><circle cx="513" cy="263.8" r="0.36"/><circle cx="512.6" cy="260.7" r="0.36"/><circle cx="512.7" cy="257.6" r="0.36"/><circle cx="513.1" cy="254.6" r="0.36"/><circle cx="514" cy="251.6" r="0.36"/><circle cx="515.2" cy="248.8" r="0.36"/><circle cx="516.8" cy="246.2" r="0.36"/><circle cx="518.8" cy="243.8" r="0.36"/><circle cx="521" cy="241.8" r="0.36"/><circle cx="523.6" cy="240.1" r="0.36"/><circle cx="526.3" cy="238.7" r="0.36"/><circle cx="529.2" cy="237.8" r="0.36"/><circle cx="532.2" cy="237.3" r="0.36"/><circle cx="535.2" cy="237.2" r="0.36"/><circle cx="538.2" cy="237.5" r="0.36"/><circle cx="541.1" cy="238.3" r="0.36"/><circle cx="543.9" cy="239.5" r="0.36"/><circle cx="546.5" cy="241" r="0.36"/><circle cx="548.9" cy="242.9" r="0.36"/><circle cx="551" cy="245.2" r="0.36"/><circle cx="552.8" cy="247.7" r="0.36"/><circle cx="554.2" cy="250.4" r="0.36"/><circle cx="555.2" cy="253.3" r="0.36"/><circle cx="555.8" cy="256.3" r="0.36"/><circle cx="556" cy="259.4" r="0.36"/><circle cx="555.8" cy="262.5" r="0.36"/><circle cx="555.1" cy="265.5" r="0.36"/><circle cx="554.1" cy="268.4" r="0.36"/><circle cx="552.6" cy="271.1" r="0.36"/><circle cx="550.8" cy="273.6" r="0.36"/><circle cx="548.7" cy="275.8" r="0.36"/><circle cx="546.3" cy="277.7" r="0.36"/><circle cx="543.7" cy="279.2" r="0.36"/><circle cx="540.9" cy="280.4" r="0.36"/><circle cx="537.9" cy="281.1" r="0.36"/><circle cx="534.9" cy="281.4" r="0.36"/><circle cx="531.9" cy="281.3" r="0.36"/><circle cx="528.9" cy="280.7" r="0.36"/><circle cx="526.1" cy="279.8" r="0.36"/><circle cx="516" cy="276.4" r="0.36"/><circle cx="514.1" cy="274" r="0.36"/><circle cx="512.5" cy="271.4" r="0.36"/><circle cx="511.3" cy="268.7" r="0.36"/><circle cx="510.3" cy="265.8" r="0.36"/><circle cx="509.7" cy="262.8" r="0.36"/><circle cx="509.5" cy="259.7" r="0.36"/><circle cx="509.6" cy="256.7" r="0.36"/><circle cx="510.1" cy="253.7" r="0.36"/><circle cx="511" cy="250.7" r="0.36"/><circle cx="512.2" cy="247.9" r="0.36"/><circle cx="513.7" cy="245.3" r="0.36"/><circle cx="515.5" cy="242.8" r="0.36"/><circle cx="517.5" cy="240.6" r="0.36"/><circle cx="519.9" cy="238.7" r="0.36"/><circle cx="522.4" cy="237.1" r="0.36"/><circle cx="525.1" cy="235.8" r="0.36"/><circle cx="528" cy="234.8" r="0.36"/><circle cx="530.9" cy="234.2" r="0.36"/><circle cx="533.9" cy="234" r="0.36"/><circle cx="536.9" cy="234.1" r="0.36"/><circle cx="539.8" cy="234.6" r="0.36"/><circle cx="542.7" cy="235.5" r="0.36"/><circle cx="545.5" cy="236.7" r="0.36"/><circle cx="548" cy="238.2" r="0.36"/><circle cx="550.4" cy="240.1" r="0.36"/><circle cx="552.6" cy="242.2" r="0.36"/><circle cx="554.5" cy="244.6" r="0.36"/><circle cx="556.1" cy="247.2" r="0.36"/><circle cx="557.3" cy="249.9" r="0.36"/><circle cx="558.3" cy="252.8" r="0.36"/><circle cx="558.9" cy="255.8" r="0.36"/><circle cx="559.1" cy="258.9" r="0.36"/><circle cx="559" cy="261.9" r="0.36"/><circle cx="558.5" cy="264.9" r="0.36"/><circle cx="557.6" cy="267.9" r="0.36"/><circle cx="556.4" cy="270.7" r="0.36"/><circle cx="554.9" cy="273.3" r="0.36"/><circle cx="553.1" cy="275.8" r="0.36"/><circle cx="551.1" cy="278" r="0.36"/><circle cx="548.7" cy="279.9" r="0.36"/><circle cx="546.2" cy="281.5" r="0.36"/><circle cx="543.5" cy="282.8" r="0.36"/><circle cx="540.6" cy="283.8" r="0.36"/><circle cx="537.7" cy="284.4" r="0.36"/><circle cx="534.7" cy="284.6" r="0.36"/><circle cx="531.7" cy="284.5" r="0.36"/><circle cx="528.8" cy="284" r="0.36"/><circle cx="525.9" cy="283.1" r="0.36"/><circle cx="523.1" cy="281.9" r="0.36"/><circle cx="520.6" cy="280.4" r="0.36"/><circle cx="518.2" cy="278.5" r="0.36"/><circle cx="509.1" cy="271.5" r="0.36"/><circle cx="507.9" cy="268.6" r="0.36"/><circle cx="507.1" cy="265.6" r="0.36"/><circle cx="506.6" cy="262.6" r="0.36"/><circle cx="506.4" cy="259.5" r="0.36"/><circle cx="506.5" cy="256.5" r="0.36"/><circle cx="507" cy="253.4" r="0.36"/><circle cx="507.8" cy="250.4" r="0.36"/><circle cx="508.9" cy="247.6" r="0.36"/><circle cx="510.3" cy="244.8" r="0.36"/><circle cx="512" cy="242.3" r="0.36"/><circle cx="513.9" cy="239.9" r="0.36"/><circle cx="516.1" cy="237.8" r="0.36"/><circle cx="518.5" cy="235.9" r="0.36"/><circle cx="521" cy="234.3" r="0.36"/><circle cx="523.8" cy="233" r="0.36"/><circle cx="526.6" cy="231.9" r="0.36"/><circle cx="529.6" cy="231.3" r="0.36"/><circle cx="532.6" cy="230.9" r="0.36"/><circle cx="535.6" cy="230.9" r="0.36"/><circle cx="538.6" cy="231.2" r="0.36"/><circle cx="541.5" cy="231.8" r="0.36"/><circle cx="544.4" cy="232.8" r="0.36"/><circle cx="547.2" cy="234" r="0.36"/><circle cx="549.8" cy="235.6" r="0.36"/><circle cx="552.2" cy="237.5" r="0.36"/><circle cx="554.4" cy="239.6" r="0.36"/><circle cx="556.4" cy="241.9" r="0.36"/><circle cx="558.1" cy="244.4" r="0.36"/><circle cx="559.5" cy="247.1" r="0.36"/><circle cx="560.7" cy="250" r="0.36"/><circle cx="561.5" cy="253" r="0.36"/><circle cx="562" cy="256" r="0.36"/><circle cx="562.2" cy="259.1" r="0.36"/><circle cx="562.1" cy="262.1" r="0.36"/><circle cx="561.6" cy="265.2" r="0.36"/><circle cx="560.8" cy="268.2" r="0.36"/><circle cx="559.7" cy="271" r="0.36"/><circle cx="558.3" cy="273.8" r="0.36"/><circle cx="556.6" cy="276.3" r="0.36"/><circle cx="554.7" cy="278.7" r="0.36"/><circle cx="552.5" cy="280.8" r="0.36"/><circle cx="550.1" cy="282.7" r="0.36"/><circle cx="547.6" cy="284.3" r="0.36"/><circle cx="544.8" cy="285.6" r="0.36"/><circle cx="542" cy="286.7" r="0.36"/><circle cx="539" cy="287.3" r="0.36"/><circle cx="536" cy="287.7" r="0.36"/><circle cx="533" cy="287.7" r="0.36"/><circle cx="530" cy="287.4" r="0.36"/><circle cx="527.1" cy="286.8" r="0.36"/><circle cx="524.2" cy="285.8" r="0.36"/><circle cx="521.4" cy="284.6" r="0.36"/><circle cx="518.8" cy="283" r="0.36"/><circle cx="516.4" cy="281.1" r="0.36"/><circle cx="514.2" cy="279" r="0.36"/><circle cx="512.2" cy="276.7" r="0.36"/><circle cx="510.5" cy="274.2" r="0.36"/></g><g fill="#e8232a"><circle cx="513.3" cy="239.8" r="1.5"/><circle cx="510.4" cy="247.3" r="1.5"/><circle cx="505.9" cy="251.5" r="1.5"/><circle cx="506.2" cy="253.7" r="1.5"/><circle cx="509.2" cy="256.3" r="1.5"/><circle cx="513.3" cy="255.7" r="1.5"/><circle cx="514.5" cy="262.7" r="1.5"/><circle cx="549" cy="241.7" r="1.5"/><circle cx="552.7" cy="241.7" r="1.5"/><circle cx="547.2" cy="249.7" r="1.5"/><circle cx="551.7" cy="250" r="1.5"/><circle cx="555.3" cy="249.2" r="1.5"/><circle cx="548.2" cy="254.5" r="1.5"/><circle cx="548.7" cy="256.4" r="1.5"/><circle cx="552.7" cy="255.7" r="1.5"/><circle cx="556.8" cy="258.2" r="1.5"/><circle cx="551.7" cy="262.7" r="1.5"/><circle cx="535.5" cy="272.5" r="1.5"/></g><line x1="582.7" y1="257" x2="598" y2="257" stroke="#111" stroke-width="1"/><path d="M601.8,257 l-4.2,-2 v4z" fill="#111"/><text x="600.5" y="182.5" font-size="10.5" font-weight="bold" stroke="#000" stroke-width="0.3" fill="#000">d</text><text x="674" y="182.5" font-size="10.5" font-weight="bold" stroke="#000" stroke-width="0.3" fill="#000" textLength="89.8" lengthAdjust="spacingAndGlyphs">Univariate analyses</text><path d="M640.1,193.4V319M644.6,193.4V319M649.1,193.4V319M653.7,193.4V319M658.2,193.4V319M662.8,193.4V319M667.4,193.4V319M671.9,193.4V319M676.5,193.4V319M681,193.4V319M685.6,193.4V319M690.1,193.4V319M694.6,193.4V319M699.2,193.4V319M703.8,193.4V319M708.3,193.4V319M712.9,193.4V319M717.4,193.4V319M722,193.4V319M726.5,193.4V319M731.1,193.4V319M735.6,193.4V319M740.2,193.4V319M744.7,193.4V319M749.2,193.4V319M753.8,193.4V319M758.4,193.4V319M762.9,193.4V319M767.5,193.4V319M772,193.4V319M776.6,193.4V319M781.1,193.4V319M785.7,193.4V319M790.2,193.4V319M794.8,193.4V319M799.3,193.4V319M639.2,316H798.4M639.2,313H798.4M639.2,309.9H798.4M639.2,306.9H798.4M639.2,303.8H798.4M639.2,300.8H798.4M639.2,297.8H798.4M639.2,294.7H798.4M639.2,291.7H798.4M639.2,288.6H798.4M639.2,285.6H798.4M639.2,282.6H798.4M639.2,279.5H798.4M639.2,276.5H798.4M639.2,273.4H798.4M639.2,270.4H798.4M639.2,267.4H798.4M639.2,264.3H798.4M639.2,261.3H798.4M639.2,258.2H798.4M639.2,255.2H798.4M639.2,252.2H798.4M639.2,249.1H798.4M639.2,246.1H798.4M639.2,243H798.4M639.2,240H798.4M639.2,237H798.4M639.2,233.9H798.4M639.2,230.9H798.4M639.2,227.8H798.4M639.2,224.8H798.4M639.2,221.8H798.4M639.2,218.7H798.4M639.2,215.7H798.4M639.2,212.6H798.4M639.2,209.6H798.4M639.2,206.6H798.4M639.2,203.5H798.4M639.2,200.5H798.4M639.2,197.4H798.4M639.2,194.4H798.4" stroke="#efefef" stroke-width="0.3" fill="none"/><path d="M644.6,193.4V319M667.4,193.4V319M690.1,193.4V319M712.9,193.4V319M735.6,193.4V319M758.4,193.4V319M781.1,193.4V319M639.2,316H798.4M639.2,303.8H798.4M639.2,291.7H798.4M639.2,279.5H798.4M639.2,267.4H798.4M639.2,255.2H798.4M639.2,243H798.4M639.2,230.9H798.4M639.2,218.7H798.4M639.2,206.6H798.4M639.2,194.4H798.4" stroke="#e2e2e2" stroke-width="0.35" fill="none"/><rect x="639.2" y="193.4" width="159.2" height="125.6" fill="none" stroke="#b8b8b8" stroke-width="0.5"/><text x="634.6" y="318.6" font-size="7.6" text-anchor="end" fill="#333">-120</text><text x="634.6" y="306.4" font-size="7.6" text-anchor="end" fill="#333">-100</text><text x="634.6" y="294.3" font-size="7.6" text-anchor="end" fill="#333">-80</text><text x="634.6" y="282.1" font-size="7.6" text-anchor="end" fill="#333">-60</text><text x="634.6" y="270" font-size="7.6" text-anchor="end" fill="#333">-40</text><text x="634.6" y="257.8" font-size="7.6" text-anchor="end" fill="#333">-20</text><text x="634.6" y="245.6" font-size="7.6" text-anchor="end" fill="#333">0</text><text x="634.6" y="233.5" font-size="7.6" text-anchor="end" fill="#333">20</text><text x="634.6" y="221.3" font-size="7.6" text-anchor="end" fill="#333">40</text><text x="634.6" y="209.2" font-size="7.6" text-anchor="end" fill="#333">60</text><text x="634.6" y="197" font-size="7.6" text-anchor="end" fill="#333">80</text><text x="644.6" y="325.5" font-size="7.6" text-anchor="middle" fill="#333">0</text><text x="668.9" y="325.5" font-size="7.6" text-anchor="middle" fill="#333">0.5</text><text x="690.1" y="325.5" font-size="7.6" text-anchor="middle" fill="#333">1</text><text x="714.4" y="325.5" font-size="7.6" text-anchor="middle" fill="#333">1.5</text><text x="735.6" y="325.5" font-size="7.6" text-anchor="middle" fill="#333">2</text><text x="759.9" y="325.5" font-size="7.6" text-anchor="middle" fill="#333">2.5</text><text x="781.1" y="325.5" font-size="7.6" text-anchor="middle" fill="#333">3</text><text transform="translate(618.8,255.3) rotate(-90)" font-size="7.6" text-anchor="middle" fill="#333" textLength="45.2" lengthAdjust="spacingAndGlyphs">Amplitude (fT)</text><text x="706.2" y="348.8" font-size="7.6" fill="#333" textLength="25.8" lengthAdjust="spacingAndGlyphs">Time (s)</text><g transform="translate(644.5,334.8) scale(0.85)" fill="#111" stroke="none"><ellipse cx="0" cy="0" rx="1.7" ry="1.25" transform="rotate(-25)"/><rect x="1.1" y="-7.2" width="0.6" height="7"/><path d="M1.4,-7.2 C2,-5.6 3.8,-5 3.6,-2.8 C3.4,-4 2.6,-4.6 1.4,-5.2Z"/></g><g transform="translate(660.5,334.8) scale(0.85)" fill="#111" stroke="none"><ellipse cx="0" cy="0" rx="1.7" ry="1.25" transform="rotate(-25)"/><rect x="1.1" y="-7.2" width="0.6" height="7"/><path d="M1.4,-7.2 C2,-5.6 3.8,-5 3.6,-2.8 C3.4,-4 2.6,-4.6 1.4,-5.2Z"/></g><path d="M656.5,337 V338.3 H664.5 V337" fill="none" stroke="#5cb3d8" stroke-width="0.8"/><g transform="translate(677,334.8) scale(0.85)" fill="#111" stroke="none"><ellipse cx="0" cy="0" rx="1.7" ry="1.25" transform="rotate(-25)"/><rect x="1.1" y="-7.2" width="0.6" height="7"/><path d="M1.4,-7.2 C2,-5.6 3.8,-5 3.6,-2.8 C3.4,-4 2.6,-4.6 1.4,-5.2Z"/></g><path d="M673,337 V338.3 H681 V337" fill="none" stroke="#4b9be3" stroke-width="0.8"/><g transform="translate(693,334.8) scale(0.85)" fill="#111" stroke="none"><ellipse cx="0" cy="0" rx="1.7" ry="1.25" transform="rotate(-25)"/><rect x="1.1" y="-7.2" width="0.6" height="7"/><path d="M1.4,-7.2 C2,-5.6 3.8,-5 3.6,-2.8 C3.4,-4 2.6,-4.6 1.4,-5.2Z"/></g><path d="M689,337 V338.3 H697 V337" fill="none" stroke="#3441a6" stroke-width="0.8"/><g transform="translate(710,334.8) scale(0.85)" fill="#111" stroke="none"><ellipse cx="0" cy="0" rx="1.7" ry="1.25" transform="rotate(-25)"/><rect x="1.1" y="-7.2" width="0.6" height="7"/><path d="M1.4,-7.2 C2,-5.6 3.8,-5 3.6,-2.8 C3.4,-4 2.6,-4.6 1.4,-5.2Z"/></g><path d="M706,337 V338.3 H714 V337" fill="none" stroke="#222" stroke-width="0.8"/><defs><clipPath id="cpU"><rect x="639.2" y="193.4" width="159.2" height="125.6"/></clipPath></defs><g clip-path="url(#cpU)" fill="none" stroke-width="1.15" stroke-linejoin="round"><path d="M636,238C636.6,238.1 638.2,238.4 639.4,238.8C640.5,239.2 641.8,240.2 642.7,240.5C643.7,240.8 644.6,240.6 645.3,240.5C645.9,240.4 646.2,232.9 646.6,239.7C647,246.4 647.4,269.5 647.8,280.9C648.1,292.3 648.5,307.8 648.8,307.8C649.1,307.8 649.3,294.1 649.8,280.9C650.3,267.7 650.6,236.7 652,228.7C653.3,220.7 656.3,230.1 657.9,232.9C659.4,235.7 659.8,240.4 661.3,245.6C662.7,250.7 664.8,258.2 666.3,264.1C667.8,270 668.8,280.6 670.5,280.9C672.2,281.2 674.6,269.4 676.4,265.8C678.2,262.1 679.9,258.7 681.5,259C683,259.3 684.5,264.6 685.7,267.4C686.8,270.2 687.1,276.4 688.2,275.9C689.3,275.3 690.9,267.7 692.4,264.1C693.9,260.4 695.9,254.3 697.4,254C699,253.7 700.5,259.6 701.7,262.4C702.8,265.1 703.1,271.6 704.2,270.5C705.3,269.3 706.7,258.9 708.4,255.5C710.1,252.2 712.3,248.5 714.3,250.5C716.2,252.5 718.3,266.8 720.2,267.3C722,267.9 723,257.1 725.2,253.9C727.5,250.6 730.3,252 733.6,248C737,243.9 742.3,231.7 745.4,229.5C748.5,227.3 749.9,232.4 752.1,234.5C754.3,236.6 756.3,240 758.8,242.1C761.3,244.2 764.1,246.2 767.2,247.1C770.3,248.1 773.9,247.6 777.3,248C780.7,248.4 783.5,248.9 787.4,249.7C791.3,250.5 798.6,252.3 800.8,252.9" stroke="#6cc0e6"/><path d="M636,236.3C636.6,236.4 638.2,236.6 639.4,237.1C640.5,237.7 641.8,239.1 642.7,239.7C643.7,240.2 644.6,240.5 645.3,240.5C645.9,240.5 646.2,232.9 646.6,239.7C647,246.4 647.4,269 647.8,280.9C648.1,292.8 648.5,311.2 648.8,311.2C649.1,311.2 649.3,294.4 649.8,280.9C650.3,267.4 650.8,238.1 652,230.4C653.2,222.7 655.5,231.8 657,234.6C658.6,237.4 660,242.9 661.3,247.2C662.5,251.6 663.8,257.8 664.6,260.7C665.5,263.7 665.3,265.5 666.3,264.9C667.3,264.4 669.1,260.8 670.5,257.3C671.9,253.8 673.5,246.7 674.7,243.9C676,241.1 676.8,239.9 678.1,240.5C679.4,241.1 680.9,243.3 682.3,247.2C683.7,251.2 685.5,258.5 686.5,264.1C687.5,269.7 687.2,280.6 688.2,280.9C689.2,281.2 690.9,269.8 692.4,265.8C693.9,261.7 695.9,256.8 697.4,256.5C699,256.2 700.5,262 701.7,264.1C702.8,266.2 703.1,270.5 704.2,269.1C705.3,267.7 706.7,258.6 708.4,255.5C710.1,252.4 712.3,249.1 714.3,250.5C716.2,251.9 718.3,263.7 720.2,263.9C722,264.2 723,255 725.2,252.2C727.5,249.4 730.5,250.6 733.6,247.1C736.7,243.6 740.9,233 743.7,231.2C746.5,229.4 747.9,234.1 750.4,236.2C752.9,238.3 756,241.8 758.8,243.8C761.6,245.7 764.1,247.6 767.2,248C770.3,248.4 773.9,246.3 777.3,246.3C780.7,246.3 783.5,247.3 787.4,248C791.3,248.7 798.6,250.1 800.8,250.5" stroke="#3a86d0"/><path d="M636,234.6C636.6,234.8 638.2,234.8 639.4,235.5C640.5,236.2 641.8,238 642.7,238.8C643.7,239.7 644.6,240.4 645.3,240.5C645.9,240.6 646.2,232.9 646.6,239.7C647,246.4 647.4,269 647.8,280.9C648.1,292.8 648.5,311.2 648.8,311.2C649.1,311.2 649.1,293 649.8,280.9C650.5,268.8 651.5,244.7 652.8,238.8C654.2,232.9 656.5,243 657.9,245.6C659.3,248.1 660.1,251.2 661.3,254C662.4,256.8 663.8,260.3 664.6,262.4C665.5,264.5 665.3,267.2 666.3,266.6C667.3,266 669.1,262.3 670.5,259C671.9,255.8 673.5,249.8 674.7,247.2C676,244.7 676.8,243.6 678.1,243.9C679.4,244.2 680.9,247 682.3,248.9C683.7,250.9 685.1,256.2 686.5,255.7C687.9,255.1 689.3,247.8 690.7,245.6C692.1,243.3 693.5,241.3 694.9,242.2C696.3,243 697.9,247 699.1,250.6C700.4,254.3 701.5,258.8 702.5,264.1C703.5,269.4 704.1,282.5 705,282.4C706,282.4 706.9,269.4 708.4,263.9C709.9,258.5 712.6,250.8 714.3,249.7C716,248.5 717.2,254.8 718.5,257.2C719.7,259.6 720.2,263.7 721.8,263.9C723.5,264.2 726.1,260.7 728.6,258.9C731.1,257.1 734.3,255.5 737,253C739.6,250.5 742.3,245.2 744.5,243.8C746.8,242.4 748,243.8 750.4,244.6C752.8,245.5 755.5,248.8 758.8,248.8C762.2,248.8 767.5,245.2 770.6,244.6C773.7,244.1 774.5,244.8 777.3,245.5C780.1,246.2 783.5,248.3 787.4,248.8C791.3,249.4 798.6,248.8 800.8,248.8" stroke="#2c3a98"/><path d="M636,243.9C636.6,243.6 638.2,243.2 639.4,242.2C640.5,241.2 641.8,239.5 642.7,238C643.7,236.4 644.6,233.2 645.3,232.9C645.9,232.6 646.2,228.3 646.6,236.3C647,244.3 647.4,267.7 647.8,280.9C648.1,294.1 648.5,315.4 648.8,315.4C649.1,315.4 649.5,293.7 649.8,280.9C650.1,268.1 650.2,248.2 650.5,238.8C650.7,229.5 651,227 651.3,224.8C651.7,222.7 651.9,225 652.7,226C653.5,227.1 655.1,228.8 656.2,231.2C657.4,233.7 658.4,236.2 659.6,240.5C660.7,244.9 662,253.8 662.9,257.3C663.9,260.8 664.3,262.1 665.5,261.5C666.6,261 668.3,257.8 669.7,254C671.1,250.2 672.6,242.3 673.9,238.8C675.1,235.3 676,232.9 677.2,232.9C678.5,232.9 680.1,236 681.5,238.8C682.9,241.6 684.3,248.9 685.7,249.8C687.1,250.6 688.3,247.2 689.9,243.9C691.4,240.5 693.4,230.7 694.9,229.6C696.5,228.4 697.7,233.8 699.1,237.1C700.5,240.5 702.1,249.5 703.3,249.8C704.6,250 705.6,242.1 706.7,238.7C707.8,235.4 708.7,230.1 710.1,229.5C711.5,228.9 713.4,232.2 715.1,235.4C716.8,238.6 718.3,250.1 720.2,248.8C722,247.6 724.2,228.9 726.1,227.8C727.9,226.7 729.4,237.9 731.1,242.1C732.8,246.3 734.3,252 736.1,253C738,254 739.9,249.5 742,248C744.1,246.4 746.2,244.1 748.7,243.8C751.3,243.5 754.1,245.3 757.1,246.3C760.2,247.3 764.1,249.4 767.2,249.7C770.3,249.9 772.3,248.3 775.6,248C779,247.7 783.2,248.3 787.4,248C791.6,247.7 798.6,246.6 800.8,246.3" stroke="#e8282d"/><path d="M636,242.2C636.6,241.9 638.2,241.1 639.4,240.5C640.5,239.9 641.8,239.5 642.7,238.8C643.7,238.1 644.6,236.3 645.3,236.3C645.9,236.3 646.2,230.8 646.6,238.8C647,246.8 647.4,271.3 647.8,284.3C648.1,297.2 648.5,316.6 648.8,316.6C649.1,316.6 649.5,297.5 649.8,284.3C650.1,271 650.2,247.2 650.5,237.1C650.7,227.1 651,226 651.3,224C651.7,222 651.9,224.3 652.7,225.4C653.5,226.4 655.1,227.9 656.2,230.4C657.4,232.9 658.4,235.7 659.6,240.5C660.7,245.3 662,255.2 662.9,259C663.9,262.8 664.3,263.8 665.5,263.2C666.6,262.7 668.3,259.4 669.7,255.7C671.1,251.9 672.6,243.9 673.9,240.5C675.1,237.1 676,235.5 677.2,235.5C678.5,235.5 679.9,237.4 681.5,240.5C683,243.6 685,253.4 686.5,254C688,254.5 689.3,246.5 690.7,243.9C692.1,241.2 693.5,238.5 694.9,238C696.3,237.4 697.7,239 699.1,240.5C700.5,242 702.1,248.7 703.3,247.2C704.6,245.8 705.5,235.5 706.7,232C708,228.5 709.4,225.9 710.9,226.1C712.5,226.4 714.6,230.5 716,233.7C717.4,236.9 718.4,241 719.3,245.5C720.2,249.9 720.8,253.3 721.3,260.6C721.9,267.9 722.2,289.2 722.7,289.2C723.1,289.2 723.3,267.3 724,260.6C724.7,253.9 725.7,251.6 726.9,248.8C728.1,246 729.7,245.2 731.1,243.8C732.5,242.4 733.3,242.2 735.3,240.4C737.3,238.6 740.6,233.1 742.9,232.9C745.1,232.6 746.6,236.1 748.7,238.7C750.8,241.4 752.9,246 755.5,248.8C758,251.6 761.6,254.3 763.9,255.5C766.1,256.8 766.4,256.9 768.9,256.4C771.4,255.8 775.9,253.3 779,252.2C782.1,251.1 783.8,250.3 787.4,249.7C791,249 798.6,248.7 800.8,248.5" stroke="#151515"/></g><rect x="763.5" y="262" width="31.5" height="51.5" fill="#fff" stroke="#555" stroke-width="0.5"/><line x1="766.4" y1="268.5" x2="774" y2="268.5" stroke="#e8282d" stroke-width="1"/><text x="777.6" y="271" font-size="7.2" fill="#333">M</text><line x1="766.4" y1="277.9" x2="774" y2="277.9" stroke="#6cc0e6" stroke-width="1"/><text x="777.6" y="280.4" font-size="7.2" fill="#333">NT1</text><line x1="766.4" y1="287.4" x2="774" y2="287.4" stroke="#3a86d0" stroke-width="1"/><text x="777.6" y="289.9" font-size="7.2" fill="#333">NT2</text><line x1="766.4" y1="296.9" x2="774" y2="296.9" stroke="#2c3a98" stroke-width="1"/><text x="777.6" y="299.4" font-size="7.2" fill="#333">NT3</text><line x1="766.4" y1="306.3" x2="774" y2="306.3" stroke="#151515" stroke-width="1"/><text x="777.6" y="308.8" font-size="7.2" fill="#333">NT4</text><defs><filter id="tex" x="0" y="0" width="100%" height="100%" color-interpolation-filters="sRGB"><feTurbulence type="fractalNoise" baseFrequency="0.09" numOctaves="3" seed="4" result="n"/><feColorMatrix in="n" type="matrix" values="0 0 0 0 0.45  0 0 0 0 0.45  0 0 0 0 0.45  1.3 0 0 0 -0.52" result="m"/><feComposite in="m" in2="SourceGraphic" operator="in"/></filter><filter id="tex2" x="0" y="0" width="100%" height="100%" color-interpolation-filters="sRGB"><feTurbulence type="fractalNoise" baseFrequency="0.2" numOctaves="2" seed="9" result="n"/><feColorMatrix in="n" type="matrix" values="0 0 0 0 0.4  0 0 0 0 0.4  0 0 0 0 0.4  1.2 0 0 0 -0.5" result="m"/><feComposite in="m" in2="SourceGraphic" operator="in"/></filter><filter id="soft" x="-5%" y="-5%" width="110%" height="110%"><feGaussianBlur stdDeviation="1.3"/></filter><filter id="gyri" x="0" y="0" width="100%" height="100%" color-interpolation-filters="sRGB"><feTurbulence type="turbulence" baseFrequency="0.045 0.07" numOctaves="2" seed="12" result="n"/><feColorMatrix in="n" type="matrix" values="0 0 0 0 1  0 0 0 0 1  0 0 0 0 1  -3 0 0 0 0.75" result="m"/><feComposite in="m" in2="SourceGraphic" operator="in"/></filter><filter id="sulci" x="0" y="0" width="100%" height="100%" color-interpolation-filters="sRGB"><feTurbulence type="turbulence" baseFrequency="0.06 0.09" numOctaves="2" seed="31" result="n"/><feColorMatrix in="n" type="matrix" values="0 0 0 0 0.45  0 0 0 0 0.45  0 0 0 0 0.45  -3.2 0 0 0 0.6" result="m"/><feComposite in="m" in2="SourceGraphic" operator="in"/></filter><radialGradient id="headG" cx="0.6" cy="0.35" r="0.75"><stop offset="0" stop-color="#c4c4c4"/><stop offset="0.55" stop-color="#acacac"/><stop offset="1" stop-color="#7a7a7a"/></radialGradient></defs><text x="21.5" y="379" font-size="10.5" font-weight="bold" stroke="#000" stroke-width="0.3" fill="#000">e</text><text x="148" y="379" font-size="10.5" font-weight="bold" stroke="#000" stroke-width="0.3" fill="#000" textLength="102" lengthAdjust="spacingAndGlyphs">Source reconstruction</text><text x="44" y="407" font-size="9.4" fill="#333" textLength="60" lengthAdjust="spacingAndGlyphs">Co-registration</text><text x="156.5" y="407" font-size="9.4" fill="#333" textLength="62" lengthAdjust="spacingAndGlyphs">Forward model</text><text x="287.5" y="407" font-size="9.4" fill="#333" textLength="64" lengthAdjust="spacingAndGlyphs">Inverse solution</text><path d="M72.5,432.2C77.2,431.8 80.6,432 84.4,433.1C88.1,434.2 92,436.1 95,438.8C98,441.4 100.7,445 102.5,448.8C104.3,452.5 105,456.7 105.6,461.2C106.2,465.8 106.3,471.9 106,476.2C105.7,480.6 105,484.4 104,487.5C103,490.6 101.9,492.7 100,495C98.1,497.3 95.6,499.5 92.5,501.2C89.4,503 85.6,504.8 81.2,505.6C76.9,506.5 70.6,506.4 66.2,506.5C61.9,506.6 57.6,506.6 55,506.5C52.4,506.4 51.8,506.5 50.6,505.6C49.5,504.8 49.5,502.8 48.1,501.2C46.8,499.7 44.2,498.1 42.5,496.2C40.8,494.4 39,493.3 38.1,490C37.3,486.7 37.3,481 37.5,476.2C37.7,471.5 38.1,466 39.4,461.2C40.6,456.5 42.2,451.7 45,447.5C47.8,443.3 51.7,438.5 56.2,436C60.8,433.5 67.8,432.7 72.5,432.2Z" fill="url(#headG)"/><path d="M72.5,432.2C77.2,431.8 80.6,432 84.4,433.1C88.1,434.2 92,436.1 95,438.8C98,441.4 100.7,445 102.5,448.8C104.3,452.5 105,456.7 105.6,461.2C106.2,465.8 106.3,471.9 106,476.2C105.7,480.6 105,484.4 104,487.5C103,490.6 101.9,492.7 100,495C98.1,497.3 95.6,499.5 92.5,501.2C89.4,503 85.6,504.8 81.2,505.6C76.9,506.5 70.6,506.4 66.2,506.5C61.9,506.6 57.6,506.6 55,506.5C52.4,506.4 51.8,506.5 50.6,505.6C49.5,504.8 49.5,502.8 48.1,501.2C46.8,499.7 44.2,498.1 42.5,496.2C40.8,494.4 39,493.3 38.1,490C37.3,486.7 37.3,481 37.5,476.2C37.7,471.5 38.1,466 39.4,461.2C40.6,456.5 42.2,451.7 45,447.5C47.8,443.3 51.7,438.5 56.2,436C60.8,433.5 67.8,432.7 72.5,432.2Z" fill="#000" filter="url(#tex2)" opacity="0.6"/><path d="M72.5,432.2C77.2,431.8 80.6,432 84.4,433.1C88.1,434.2 92,436.1 95,438.8C98,441.4 100.7,445 102.5,448.8C104.3,452.5 105,456.7 105.6,461.2C106.2,465.8 106.3,471.9 106,476.2C105.7,480.6 105,484.4 104,487.5C103,490.6 101.9,492.7 100,495C98.1,497.3 95.6,499.5 92.5,501.2C89.4,503 85.6,504.8 81.2,505.6C76.9,506.5 70.6,506.4 66.2,506.5C61.9,506.6 57.6,506.6 55,506.5C52.4,506.4 51.8,506.5 50.6,505.6C49.5,504.8 49.5,502.8 48.1,501.2C46.8,499.7 44.2,498.1 42.5,496.2C40.8,494.4 39,493.3 38.1,490C37.3,486.7 37.3,481 37.5,476.2C37.7,471.5 38.1,466 39.4,461.2C40.6,456.5 42.2,451.7 45,447.5C47.8,443.3 51.7,438.5 56.2,436C60.8,433.5 67.8,432.7 72.5,432.2Z" fill="#000" filter="url(#sulci)" opacity="0.5"/><path d="M72.5,432.2C77.2,431.8 80.6,432 84.4,433.1C88.1,434.2 92,436.1 95,438.8C98,441.4 100.7,445 102.5,448.8C104.3,452.5 105,456.7 105.6,461.2C106.2,465.8 106.3,471.9 106,476.2C105.7,480.6 105,484.4 104,487.5C103,490.6 101.9,492.7 100,495C98.1,497.3 95.6,499.5 92.5,501.2C89.4,503 85.6,504.8 81.2,505.6C76.9,506.5 70.6,506.4 66.2,506.5C61.9,506.6 57.6,506.6 55,506.5C52.4,506.4 51.8,506.5 50.6,505.6C49.5,504.8 49.5,502.8 48.1,501.2C46.8,499.7 44.2,498.1 42.5,496.2C40.8,494.4 39,493.3 38.1,490C37.3,486.7 37.3,481 37.5,476.2C37.7,471.5 38.1,466 39.4,461.2C40.6,456.5 42.2,451.7 45,447.5C47.8,443.3 51.7,438.5 56.2,436C60.8,433.5 67.8,432.7 72.5,432.2Z" fill="#fff" filter="url(#gyri)" opacity="0.45"/><path d="M38.1,482.5C40.2,481.7 45.9,484.2 50,485C54.1,485.8 57.9,487 62.5,487.5C67.1,488 72.9,488.1 77.5,488.1C82.1,488.1 86.2,488 90,487.5C93.8,487 97.6,485.8 100,485C102.4,484.2 103.5,481.7 104.4,482.5C105.2,483.3 105.7,487.9 105,490C104.3,492.1 102.3,492.9 100,495C97.7,497.1 94.4,500.6 91.2,502.5C88.1,504.4 86,505.6 81.2,506.2C76.5,506.9 67.5,506.2 62.5,506.2C57.5,506.2 53.6,507.1 51.2,506.2C48.9,505.4 49.8,503.1 48.1,501.2C46.5,499.4 43,496.9 41.2,495C39.5,493.1 38,492.1 37.5,490C37,487.9 36,483.3 38.1,482.5Z" fill="#dcdcdc" opacity="0.4"/><path d="M72.5,432.2C77.2,431.8 80.6,432 84.4,433.1C88.1,434.2 92,436.1 95,438.8C98,441.4 100.7,445 102.5,448.8C104.3,452.5 105,456.7 105.6,461.2C106.2,465.8 106.3,471.9 106,476.2C105.7,480.6 105,484.4 104,487.5C103,490.6 101.9,492.7 100,495C98.1,497.3 95.6,499.5 92.5,501.2C89.4,503 85.6,504.8 81.2,505.6C76.9,506.5 70.6,506.4 66.2,506.5C61.9,506.6 57.6,506.6 55,506.5C52.4,506.4 51.8,506.5 50.6,505.6C49.5,504.8 49.5,502.8 48.1,501.2C46.8,499.7 44.2,498.1 42.5,496.2C40.8,494.4 39,493.3 38.1,490C37.3,486.7 37.3,481 37.5,476.2C37.7,471.5 38.1,466 39.4,461.2C40.6,456.5 42.2,451.7 45,447.5C47.8,443.3 51.7,438.5 56.2,436C60.8,433.5 67.8,432.7 72.5,432.2Z" fill="none" stroke="#9a9a9a" stroke-width="0.4"/><g fill="#c8282a"><circle cx="81.4" cy="431.6" r="0.8"/><circle cx="75.7" cy="433.5" r="0.8"/><circle cx="76.7" cy="429" r="0.8"/><circle cx="85.2" cy="435.2" r="0.8"/><circle cx="69" cy="431.8" r="0.8"/><circle cx="84.8" cy="430.3" r="0.8"/><circle cx="78.8" cy="437.8" r="0.8"/><circle cx="69.5" cy="428.5" r="0.8"/><circle cx="91" cy="435.4" r="0.8"/><circle cx="67.8" cy="436" r="0.8"/><circle cx="79.7" cy="428.2" r="0.8"/><circle cx="86.7" cy="440.5" r="0.8"/><circle cx="62.8" cy="431" r="0.8"/><circle cx="91.8" cy="433.1" r="0.8"/><circle cx="73.1" cy="440.9" r="0.8"/><circle cx="70.4" cy="427.6" r="0.8"/><circle cx="94.2" cy="440.4" r="0.8"/><circle cx="60.8" cy="435.9" r="0.8"/><circle cx="86.2" cy="430" r="0.8"/><circle cx="82.9" cy="444.5" r="0.8"/><circle cx="61.1" cy="429.6" r="0.8"/><circle cx="97.3" cy="437.7" r="0.8"/><circle cx="65.3" cy="441.9" r="0.8"/><circle cx="93.4" cy="445.4" r="0.8"/><circle cx="55.8" cy="434.5" r="0.8"/><circle cx="93.6" cy="433.6" r="0.8"/><circle cx="75.7" cy="447.1" r="0.8"/><circle cx="100.2" cy="443.1" r="0.8"/><circle cx="57.6" cy="441.3" r="0.8"/><circle cx="88.6" cy="449.6" r="0.8"/><circle cx="54.1" cy="432.7" r="0.8"/><circle cx="100" cy="438.6" r="0.8"/><circle cx="66.7" cy="447.9" r="0.8"/><circle cx="99.5" cy="448.7" r="0.8"/><circle cx="51.7" cy="439.4" r="0.8"/><circle cx="80.7" cy="452.5" r="0.8"/><circle cx="104" cy="444.6" r="0.8"/><circle cx="57.6" cy="447.2" r="0.8"/><circle cx="94.9" cy="453.6" r="0.8"/><circle cx="48.7" cy="437" r="0.8"/><circle cx="70.7" cy="453.8" r="0.8"/><circle cx="104.5" cy="450.8" r="0.8"/><circle cx="50" cy="445.1" r="0.8"/><circle cx="86.9" cy="457.2" r="0.8"/><circle cx="49.7" cy="434.7" r="0.8"/><circle cx="105.7" cy="445.1" r="0.8"/><circle cx="60.1" cy="453.3" r="0.8"/><circle cx="101" cy="456.4" r="0.8"/><circle cx="45.2" cy="442.3" r="0.8"/><circle cx="76.4" cy="459.1" r="0.8"/><circle cx="108" cy="451.8" r="0.8"/><circle cx="50.7" cy="451.3" r="0.8"/><circle cx="93.6" cy="461" r="0.8"/><circle cx="44.4" cy="439.3" r="0.8"/><circle cx="64.7" cy="459.2" r="0.8"/><circle cx="106.2" cy="458.3" r="0.8"/><circle cx="43.8" cy="448.3" r="0.8"/><circle cx="83.2" cy="463.8" r="0.8"/><circle cx="109.6" cy="452.1" r="0.8"/><circle cx="53.6" cy="457.6" r="0.8"/><circle cx="100.2" cy="463.7" r="0.8"/><circle cx="40.7" cy="444.8" r="0.8"/><circle cx="70.9" cy="464.8" r="0.8"/><circle cx="110" cy="459.2" r="0.8"/><circle cx="44.6" cy="454.7" r="0.8"/><circle cx="90.5" cy="467.7" r="0.8"/><circle cx="58.5" cy="463.8" r="0.8"/><circle cx="105.9" cy="465.6" r="0.8"/><circle cx="39.1" cy="451" r="0.8"/><circle cx="78.2" cy="469.6" r="0.8"/><circle cx="111.9" cy="459.4" r="0.8"/><circle cx="47.5" cy="461.2" r="0.8"/><circle cx="97.5" cy="470.6" r="0.8"/><circle cx="37.9" cy="447.3" r="0.8"/><circle cx="64.9" cy="469.6" r="0.8"/><circle cx="110.2" cy="466.5" r="0.8"/><circle cx="39.5" cy="457.6" r="0.8"/><circle cx="85.9" cy="473.7" r="0.8"/><circle cx="52.4" cy="467.7" r="0.8"/><circle cx="103.8" cy="472.5" r="0.8"/><circle cx="35.7" cy="453.5" r="0.8"/><circle cx="72.5" cy="474.7" r="0.8"/><circle cx="112.7" cy="466.7" r="0.8"/><circle cx="42.1" cy="464.3" r="0.8"/><circle cx="93.5" cy="476.8" r="0.8"/><circle cx="58.8" cy="473.7" r="0.8"/><circle cx="108.8" cy="473.6" r="0.8"/><circle cx="35.6" cy="460.2" r="0.8"/><circle cx="80.5" cy="479.1" r="0.8"/><circle cx="46.7" cy="470.9" r="0.8"/><circle cx="100.4" cy="479" r="0.8"/><circle cx="33.8" cy="456.1" r="0.8"/><circle cx="66.3" cy="479.1" r="0.8"/><circle cx="112.1" cy="473.9" r="0.8"/><circle cx="37.7" cy="467" r="0.8"/><circle cx="88.5" cy="482.5" r="0.8"/><circle cx="52.8" cy="477.2" r="0.8"/><circle cx="106" cy="480.3" r="0.8"/><circle cx="33" cy="462.7" r="0.8"/><circle cx="74.5" cy="483.8" r="0.8"/><circle cx="113.3" cy="473.6" r="0.8"/><circle cx="41.7" cy="473.8" r="0.8"/><circle cx="95.8" cy="485" r="0.8"/><circle cx="60.2" cy="483" r="0.8"/><circle cx="110" cy="480.8" r="0.8"/><circle cx="34.4" cy="469.6" r="0.8"/><circle cx="82.7" cy="487.6" r="0.8"/><circle cx="47.5" cy="480.3" r="0.8"/><circle cx="102" cy="486.6" r="0.8"/><circle cx="31.8" cy="465.3" r="0.8"/><circle cx="68.3" cy="487.9" r="0.8"/><circle cx="112" cy="480.6" r="0.8"/><circle cx="37.8" cy="476.4" r="0.8"/><circle cx="90.4" cy="490.4" r="0.8"/><circle cx="54.5" cy="486.3" r="0.8"/><circle cx="106.6" cy="487.3" r="0.8"/><circle cx="32.4" cy="472.1" r="0.8"/><circle cx="76.6" cy="492" r="0.8"/><circle cx="42.9" cy="483.1" r="0.8"/><circle cx="97" cy="492.3" r="0.8"/></g><g fill="#333"><circle cx="60.9" cy="502.1" r="0.3"/><circle cx="65.1" cy="505.9" r="0.3"/><circle cx="63.8" cy="505.5" r="0.3"/><circle cx="46.7" cy="496.8" r="0.3"/><circle cx="68.6" cy="500.3" r="0.3"/><circle cx="67.6" cy="490.2" r="0.3"/><circle cx="57.3" cy="492.7" r="0.3"/><circle cx="59.1" cy="498.9" r="0.3"/><circle cx="46.3" cy="492.1" r="0.3"/><circle cx="52.7" cy="505.4" r="0.3"/><circle cx="64.4" cy="491" r="0.3"/><circle cx="65.1" cy="490.6" r="0.3"/><circle cx="60.8" cy="490.4" r="0.3"/><circle cx="46" cy="504.6" r="0.3"/><circle cx="51" cy="492.1" r="0.3"/><circle cx="69.6" cy="504.6" r="0.3"/><circle cx="52.9" cy="506.3" r="0.3"/><circle cx="58.9" cy="500.9" r="0.3"/><circle cx="50.9" cy="505.9" r="0.3"/><circle cx="62.6" cy="506.4" r="0.3"/></g><path d="M143.5,467C144.4,463.4 146,456.7 149,452.5C152,448.3 156.6,444.3 161.7,441.6C166.8,438.9 173.8,436.8 179.8,436.2C185.8,435.6 192.5,436.2 197.9,438C203.3,439.8 208.5,443.7 212.4,447C216.3,450.3 219.4,454 221.4,457.9C223.4,461.8 223.9,466.7 224.2,470.6C224.5,474.5 225,479 223.3,481.4C221.6,483.8 217.2,483.9 214.2,485.1C211.2,486.3 207.8,487.2 205.1,488.7C202.4,490.2 201.5,492.6 197.9,494.1C194.3,495.6 188.2,497.2 183.4,497.8C178.6,498.4 173.4,498.7 168.9,497.8C164.4,496.9 159.8,494.7 156.2,492.3C152.6,489.9 149.3,486.3 147.2,483.3C145.1,480.3 144.1,476.9 143.5,474.2C142.9,471.5 142.6,470.6 143.5,467Z" fill="#f4f4f4" stroke="#dedede" stroke-width="0.6"/><g fill="#2c4fa8"><circle cx="172.5" cy="418.9" r="0.8"/><circle cx="188.5" cy="418.4" r="0.8"/><circle cx="204.2" cy="421.3" r="0.8"/><circle cx="158" cy="424.4" r="0.7"/><circle cx="168.9" cy="426.7" r="1.3"/><circle cx="184.3" cy="425.3" r="1.4"/><circle cx="200.6" cy="427.5" r="1.3"/><circle cx="145" cy="434.3" r="0.7"/><circle cx="151.7" cy="435.8" r="0.7"/><circle cx="166.7" cy="438" r="1.3"/><circle cx="182.7" cy="438" r="2.0"/><circle cx="199.2" cy="439.1" r="1.6"/><circle cx="216.9" cy="429.3" r="0.7"/><circle cx="136.3" cy="447" r="0.5"/><circle cx="139.9" cy="449.2" r="0.5"/><circle cx="149.9" cy="450.7" r="0.6"/><circle cx="164.4" cy="452.8" r="0.9"/><circle cx="180.3" cy="453" r="1.5"/><circle cx="197.5" cy="454.3" r="0.6"/><circle cx="142.6" cy="446.7" r="0.4"/><circle cx="219.3" cy="426.7" r="0.5"/><circle cx="203.7" cy="423.1" r="0.6"/></g><g fill="#e02a2a"><circle cx="214.2" cy="454.8" r="0.6"/><circle cx="230.5" cy="454.3" r="0.6"/><circle cx="177.1" cy="468.8" r="0.6"/><circle cx="192.5" cy="469.3" r="1.6"/><circle cx="207.9" cy="470.2" r="1.6"/><circle cx="223.8" cy="470.9" r="1.0"/><circle cx="236.8" cy="468.8" r="0.7"/><circle cx="244.6" cy="466.6" r="0.6"/><circle cx="159.5" cy="483.6" r="0.6"/><circle cx="174.7" cy="485.1" r="1.2"/><circle cx="190.1" cy="485.1" r="1.5"/><circle cx="205.5" cy="486.2" r="1.5"/><circle cx="146.3" cy="482.4" r="0.4"/><circle cx="138.1" cy="497.4" r="0.6"/><circle cx="151.2" cy="498.7" r="0.7"/><circle cx="165.7" cy="500.1" r="0.8"/><circle cx="181.1" cy="501.4" r="0.9"/><circle cx="197" cy="501.7" r="0.9"/><circle cx="130.9" cy="492.3" r="0.4"/><circle cx="127.2" cy="494.1" r="0.3"/></g><circle cx="191.6" cy="461" r="1.3" fill="#58b030"/><g fill="#b8c0d8"><circle cx="236.7" cy="441.9" r="0.3"/><circle cx="170.1" cy="429.9" r="0.3"/><circle cx="143.2" cy="420.9" r="0.3"/><circle cx="162.7" cy="469.3" r="0.3"/><circle cx="125.4" cy="476" r="0.3"/><circle cx="167.2" cy="442.9" r="0.3"/><circle cx="227.3" cy="458.3" r="0.3"/><circle cx="164.5" cy="458.3" r="0.3"/><circle cx="213.1" cy="420.1" r="0.3"/><circle cx="246.9" cy="417.1" r="0.3"/><circle cx="218.7" cy="491" r="0.3"/><circle cx="127.3" cy="485.9" r="0.3"/><circle cx="170.8" cy="467.1" r="0.3"/><circle cx="126.1" cy="419.2" r="0.3"/><circle cx="147.6" cy="501" r="0.3"/><circle cx="149.6" cy="483" r="0.3"/><circle cx="241.2" cy="499.8" r="0.3"/><circle cx="168" cy="446.9" r="0.3"/><circle cx="190.6" cy="484.8" r="0.3"/><circle cx="138.5" cy="482.4" r="0.3"/><circle cx="224.7" cy="492.4" r="0.3"/><circle cx="129.6" cy="500.1" r="0.3"/><circle cx="136.4" cy="445.7" r="0.3"/><circle cx="201.4" cy="497.6" r="0.3"/><circle cx="167.5" cy="498.2" r="0.3"/><circle cx="193.1" cy="443.1" r="0.3"/><circle cx="164.6" cy="431" r="0.3"/><circle cx="134.8" cy="428.4" r="0.3"/><circle cx="211.1" cy="504.7" r="0.3"/><circle cx="145.2" cy="419.4" r="0.3"/><circle cx="248.3" cy="463" r="0.3"/><circle cx="175.7" cy="436.4" r="0.3"/><circle cx="199.2" cy="489.4" r="0.3"/><circle cx="182" cy="453" r="0.3"/><circle cx="132" cy="497.4" r="0.3"/><circle cx="129.1" cy="459.4" r="0.3"/><circle cx="229.8" cy="426.8" r="0.3"/><circle cx="216.5" cy="500.5" r="0.3"/><circle cx="203.8" cy="485.9" r="0.3"/><circle cx="138.3" cy="454.1" r="0.3"/></g><path d="M275.9,467C276.8,463.4 278.4,456.7 281.4,452.5C284.4,448.3 289,444.3 294.1,441.6C299.2,438.9 306.2,436.8 312.2,436.2C318.2,435.6 324.9,436.2 330.3,438C335.7,439.8 340.9,443.7 344.8,447C348.7,450.3 351.8,454 353.8,457.9C355.8,461.8 356.3,466.7 356.6,470.6C356.9,474.5 357.4,479 355.7,481.4C354,483.8 349.6,483.9 346.6,485.1C343.6,486.3 340.2,487.2 337.5,488.7C334.8,490.2 333.9,492.6 330.3,494.1C326.7,495.6 320.6,497.2 315.8,497.8C311,498.4 305.8,498.7 301.3,497.8C296.8,496.9 292.2,494.7 288.6,492.3C285,489.9 281.7,486.3 279.6,483.3C277.5,480.3 276.5,476.9 275.9,474.2C275.3,471.5 275,470.6 275.9,467Z" fill="#f4f4f4" stroke="#dedede" stroke-width="0.6"/><g fill="#2c4fa8"><circle cx="290.3" cy="424.1" r="0.6"/><circle cx="300.7" cy="425.5" r="1.0"/><circle cx="316.6" cy="424.9" r="1.0"/><circle cx="283.7" cy="434.8" r="1.0"/><circle cx="299" cy="436.5" r="1.6"/><circle cx="314.8" cy="436.9" r="1.4"/><circle cx="276.9" cy="434.2" r="0.5"/><circle cx="271.7" cy="448.3" r="0.9"/><circle cx="282.1" cy="450.3" r="1.5"/><circle cx="297.2" cy="451.4" r="2.0"/><circle cx="312.5" cy="452.4" r="1.4"/><circle cx="268.6" cy="447.2" r="0.5"/><circle cx="269.7" cy="464.4" r="1.2"/><circle cx="280" cy="465.5" r="1.5"/><circle cx="293.5" cy="467.9" r="1.5"/><circle cx="330.7" cy="462.4" r="1.1"/><circle cx="345.6" cy="463.8" r="1.0"/><circle cx="360.7" cy="464.8" r="0.6"/><circle cx="267.6" cy="480.4" r="0.8"/><circle cx="279" cy="481.4" r="1.0"/><circle cx="292" cy="482.4" r="0.9"/><circle cx="328.6" cy="478.3" r="1.2"/><circle cx="344.1" cy="479.3" r="1.2"/><circle cx="259.3" cy="492.8" r="0.6"/><circle cx="271.7" cy="496.9" r="0.5"/><circle cx="291.4" cy="493.4" r="0.8"/><circle cx="304.2" cy="493.4" r="0.8"/><circle cx="319.3" cy="494.2" r="0.8"/><circle cx="334.8" cy="494.8" r="0.8"/><circle cx="262.4" cy="462.8" r="0.5"/><circle cx="334.8" cy="447.2" r="0.5"/><circle cx="351.4" cy="449.3" r="0.6"/></g><g fill="#e02a2a"><circle cx="305.5" cy="418.3" r="0.6"/><circle cx="321.4" cy="417.7" r="0.6"/><circle cx="336.5" cy="420.3" r="0.6"/><circle cx="291" cy="423" r="0.7"/><circle cx="304.2" cy="422.8" r="1.2"/><circle cx="319.9" cy="422.4" r="1.0"/><circle cx="334.8" cy="424.1" r="0.8"/><circle cx="287.2" cy="431.7" r="1.3"/><circle cx="303.4" cy="432.8" r="1.7"/><circle cx="319.3" cy="432.1" r="1.3"/><circle cx="335.2" cy="434.2" r="0.7"/><circle cx="348.3" cy="440" r="0.7"/><circle cx="287.2" cy="445.8" r="1.3"/><circle cx="302.3" cy="446.6" r="1.6"/><circle cx="318.3" cy="447.2" r="1.0"/><circle cx="347.2" cy="454.5" r="1.2"/><circle cx="362.1" cy="453.5" r="1.0"/><circle cx="374.8" cy="450.3" r="0.7"/><circle cx="300.1" cy="461.7" r="1.2"/><circle cx="324.5" cy="469" r="1.3"/><circle cx="340" cy="469.6" r="1.7"/><circle cx="355.5" cy="470" r="1.5"/><circle cx="369" cy="468.4" r="0.9"/><circle cx="377.3" cy="464.8" r="0.7"/><circle cx="322.4" cy="483.5" r="1.3"/><circle cx="337.5" cy="485.1" r="1.7"/><circle cx="313.1" cy="500.4" r="1.2"/><circle cx="328.6" cy="500.4" r="1.3"/><circle cx="362.8" cy="437.9" r="0.6"/><circle cx="365.9" cy="435.9" r="0.5"/><circle cx="274.8" cy="442.1" r="0.5"/><circle cx="379.9" cy="463.8" r="0.5"/></g><circle cx="295.3" cy="449.8" r="1.55" fill="#111"/><circle cx="299" cy="449.8" r="1.55" fill="#111"/><circle cx="291.9" cy="453.5" r="1.55" fill="#111"/><circle cx="295.3" cy="453.5" r="1.55" fill="#111"/><circle cx="299" cy="453.5" r="1.55" fill="#111"/><circle cx="291.9" cy="456.9" r="1.55" fill="#111"/><circle cx="295.3" cy="456.9" r="1.55" fill="#111"/><circle cx="299" cy="456.9" r="1.55" fill="#111"/><circle cx="284.8" cy="460.3" r="1.55" fill="#111"/><circle cx="288.5" cy="460.3" r="1.55" fill="#111"/><circle cx="291.9" cy="460.3" r="1.55" fill="#111"/><circle cx="295.3" cy="460.3" r="1.55" fill="#111"/><circle cx="299" cy="460.3" r="1.55" fill="#111"/><circle cx="284.8" cy="463.6" r="1.55" fill="#111"/><circle cx="288.5" cy="463.6" r="1.55" fill="#111"/><circle cx="291.9" cy="463.6" r="1.55" fill="#111"/><circle cx="295.3" cy="463.6" r="1.55" fill="#111"/><circle cx="288.5" cy="466.6" r="1.55" fill="#111"/><circle cx="291.9" cy="466.6" r="1.55" fill="#111"/><circle cx="295.3" cy="466.6" r="1.55" fill="#111"/><circle cx="288.5" cy="470" r="1.55" fill="#111"/><circle cx="291.9" cy="470" r="1.55" fill="#111"/><circle cx="316.6" cy="450.5" r="1.55" fill="#111"/><circle cx="316.6" cy="453.9" r="1.55" fill="#1d7a2c"/><circle cx="320" cy="453.9" r="1.55" fill="#35a63a"/><circle cx="323.8" cy="453.9" r="1.55" fill="#1d7a2c"/><circle cx="309.9" cy="457.3" r="1.55" fill="#111"/><circle cx="313.3" cy="457.3" r="1.55" fill="#1d7a2c"/><circle cx="316.6" cy="457.3" r="1.55" fill="#35a63a"/><circle cx="320" cy="457.3" r="1.55" fill="#35a63a"/><circle cx="323.8" cy="457.3" r="1.55" fill="#1d7a2c"/><circle cx="306.5" cy="460.3" r="1.55" fill="#111"/><circle cx="309.9" cy="460.3" r="1.55" fill="#111"/><circle cx="313.3" cy="460.3" r="1.55" fill="#1d7a2c"/><circle cx="316.6" cy="460.3" r="1.55" fill="#35a63a"/><circle cx="320" cy="460.3" r="1.55" fill="#35a63a"/><circle cx="323.8" cy="460.3" r="1.55" fill="#1d7a2c"/><circle cx="303.1" cy="463.6" r="1.55" fill="#111"/><circle cx="306.5" cy="463.6" r="1.55" fill="#111"/><circle cx="309.9" cy="463.6" r="1.55" fill="#1d7a2c"/><circle cx="313.3" cy="463.6" r="1.55" fill="#35a63a"/><circle cx="316.6" cy="463.6" r="1.55" fill="#58c048"/><circle cx="320" cy="463.6" r="1.55" fill="#35a63a"/><circle cx="323.8" cy="463.6" r="1.55" fill="#1d7a2c"/><circle cx="303.1" cy="466.6" r="1.55" fill="#111"/><circle cx="306.5" cy="466.6" r="1.55" fill="#111"/><circle cx="309.9" cy="466.6" r="1.55" fill="#1d7a2c"/><circle cx="313.3" cy="466.6" r="1.55" fill="#35a63a"/><circle cx="316.6" cy="466.6" r="1.55" fill="#58c048"/><circle cx="320" cy="466.6" r="1.55" fill="#35a63a"/><circle cx="323.8" cy="466.6" r="1.55" fill="#1d7a2c"/><circle cx="303.1" cy="470" r="1.55" fill="#111"/><circle cx="306.5" cy="470" r="1.55" fill="#111"/><circle cx="309.9" cy="470" r="1.55" fill="#1d7a2c"/><circle cx="313.3" cy="470" r="1.55" fill="#35a63a"/><circle cx="316.6" cy="470" r="1.55" fill="#58c048"/><circle cx="320" cy="470" r="1.55" fill="#35a63a"/><circle cx="323.8" cy="470" r="1.55" fill="#111"/><circle cx="303.1" cy="473" r="1.55" fill="#111"/><circle cx="306.5" cy="473" r="1.55" fill="#111"/><circle cx="309.9" cy="473" r="1.55" fill="#1d7a2c"/><circle cx="313.3" cy="473" r="1.55" fill="#35a63a"/><circle cx="316.6" cy="473" r="1.55" fill="#58c048"/><circle cx="320" cy="473" r="1.55" fill="#35a63a"/><circle cx="306.5" cy="476.4" r="1.55" fill="#111"/><circle cx="309.9" cy="476.4" r="1.55" fill="#1d7a2c"/><circle cx="313.3" cy="476.4" r="1.55" fill="#35a63a"/><circle cx="316.6" cy="476.4" r="1.55" fill="#35a63a"/><circle cx="320" cy="476.4" r="1.55" fill="#35a63a"/><circle cx="323.8" cy="476.4" r="1.55" fill="#111"/><circle cx="306.5" cy="479.4" r="1.55" fill="#111"/><circle cx="309.9" cy="479.4" r="1.55" fill="#111"/><circle cx="313.3" cy="479.4" r="1.55" fill="#35a63a"/><circle cx="316.6" cy="479.4" r="1.55" fill="#35a63a"/><circle cx="320" cy="479.4" r="1.55" fill="#1d7a2c"/><circle cx="313.3" cy="482.8" r="1.55" fill="#111"/><circle cx="316.6" cy="482.8" r="1.55" fill="#1d7a2c"/><circle cx="320" cy="482.8" r="1.55" fill="#1d7a2c"/><circle cx="316.6" cy="486.1" r="1.55" fill="#111"/><circle cx="320" cy="486.1" r="1.55" fill="#111"/><circle cx="323.8" cy="486.1" r="1.55" fill="#111"/><circle cx="296.8" cy="451.3" r="2.0" fill="#2c4fa8"/><circle cx="293.8" cy="467.4" r="1.8" fill="#2c4fa8"/><circle cx="312.9" cy="452.4" r="1.4" fill="#2c4fa8"/><circle cx="309.1" cy="468.5" r="0.9" fill="#2c4fa8"/><circle cx="324.5" cy="468.9" r="1.2" fill="#e02a2a"/><circle cx="322.3" cy="484.3" r="1.6" fill="#e02a2a"/><circle cx="299.8" cy="461.8" r="0.9" fill="#e02a2a"/><circle cx="285.9" cy="461.4" r="0.7" fill="#e02a2a"/><circle cx="316.6" cy="469.6" r="3" fill="none" stroke="#e8a820" stroke-width="0.8"/><text x="320" y="517.3" font-size="9.4" text-anchor="middle" fill="#333" textLength="57" lengthAdjust="spacingAndGlyphs">Beamforming</text><text x="257.2" y="531.5" font-family="Liberation Serif, DejaVu Serif, serif" font-size="8.6" fill="#222" textLength="125.2" lengthAdjust="spacingAndGlyphs"><tspan font-style="italic">W</tspan><tspan font-size="5.6" dy="1.6">(n)</tspan><tspan dy="-1.6"> = </tspan><tspan font-style="italic">C</tspan><tspan font-size="5.6" dy="-3">&#8722;1</tspan><tspan dy="3"> * </tspan><tspan font-style="italic">L</tspan><tspan font-size="5.6" dy="-3" font-style="italic">T</tspan><tspan dy="3"> * (</tspan><tspan font-style="italic">L</tspan><tspan font-size="5.6" dy="-3" font-style="italic">T</tspan><tspan dy="3"> * </tspan><tspan font-style="italic">C</tspan><tspan font-size="5.6" dy="-3">&#8722;1</tspan><tspan dy="3"> * </tspan><tspan font-style="italic">L</tspan><tspan>)</tspan><tspan font-size="5.6" dy="-3">&#8722;1</tspan></text><line x1="401" y1="467.6" x2="432" y2="467.6" stroke="#111" stroke-width="1"/><path d="M435.5,467.6 l-4.4,-2.1 v4.2z" fill="#111"/><line x1="605.7" y1="467.6" x2="637" y2="467.6" stroke="#111" stroke-width="1"/><path d="M640.5,467.6 l-4.4,-2.1 v4.2z" fill="#111"/><text x="477.4" y="375.8" font-size="10.5" font-weight="bold" stroke="#000" stroke-width="0.3" fill="#000" textLength="84.1" lengthAdjust="spacingAndGlyphs">8-mm parcellation</text><text x="476" y="389.3" font-size="10.5" font-weight="bold" stroke="#000" stroke-width="0.3" fill="#000" textLength="89" lengthAdjust="spacingAndGlyphs">(3559 brain voxels)</text><text x="685.3" y="375.8" font-size="10.5" font-weight="bold" stroke="#000" stroke-width="0.3" fill="#000" textLength="75.1" lengthAdjust="spacingAndGlyphs">AAL parcellation</text><text x="667.3" y="389.3" font-size="10.5" font-weight="bold" stroke="#000" stroke-width="0.3" fill="#000" textLength="111.1" lengthAdjust="spacingAndGlyphs">(90 non-cerebellar ROIs)</text><path d="M460.7,446.9C463.1,442.4 466.5,433.1 471,428.3C475.5,423.5 481.7,420.6 487.6,418C493.5,415.4 499.6,413.2 506.2,412.8C512.8,412.4 520,414.3 526.9,415.9C533.8,417.4 541.4,419.7 547.6,422.1C553.8,424.5 559.4,427.3 564.2,430.4C569,433.5 573.2,437.2 576.6,440.7C580,444.1 582.8,447.3 584.9,451.1C587,454.9 588.3,459.4 589,463.5C589.7,467.6 589.7,471.8 589,475.9C588.3,480 587.3,484.9 584.9,488.3C582.5,491.8 579.3,494.5 574.5,496.6C569.7,498.7 559.7,498.7 555.9,500.8C552.1,502.9 554.5,506.9 551.8,509C549,511.1 543.5,512.7 539.4,513.2C535.2,513.7 530.3,513.5 526.9,512.1C523.5,510.7 521.8,507.1 518.7,504.9C515.6,502.7 512.8,500.1 508.3,498.7C503.8,497.3 498,497.6 491.8,496.6C485.6,495.6 476.5,494.6 471,492.5C465.5,490.4 461.2,488.3 458.6,484.2C456,480.1 455.8,472.4 455.5,467.6C455.2,462.8 455.7,458.6 456.6,455.2C457.5,451.8 458.3,451.4 460.7,446.9Z" fill="#d4d4d4" filter="url(#soft)"/><path d="M460.7,446.9C463.1,442.4 466.5,433.1 471,428.3C475.5,423.5 481.7,420.6 487.6,418C493.5,415.4 499.6,413.2 506.2,412.8C512.8,412.4 520,414.3 526.9,415.9C533.8,417.4 541.4,419.7 547.6,422.1C553.8,424.5 559.4,427.3 564.2,430.4C569,433.5 573.2,437.2 576.6,440.7C580,444.1 582.8,447.3 584.9,451.1C587,454.9 588.3,459.4 589,463.5C589.7,467.6 589.7,471.8 589,475.9C588.3,480 587.3,484.9 584.9,488.3C582.5,491.8 579.3,494.5 574.5,496.6C569.7,498.7 559.7,498.7 555.9,500.8C552.1,502.9 554.5,506.9 551.8,509C549,511.1 543.5,512.7 539.4,513.2C535.2,513.7 530.3,513.5 526.9,512.1C523.5,510.7 521.8,507.1 518.7,504.9C515.6,502.7 512.8,500.1 508.3,498.7C503.8,497.3 498,497.6 491.8,496.6C485.6,495.6 476.5,494.6 471,492.5C465.5,490.4 461.2,488.3 458.6,484.2C456,480.1 455.8,472.4 455.5,467.6C455.2,462.8 455.7,458.6 456.6,455.2C457.5,451.8 458.3,451.4 460.7,446.9Z" fill="#000" filter="url(#tex)" opacity="0.6"/><path d="M460.7,446.9C463.1,442.4 466.5,433.1 471,428.3C475.5,423.5 481.7,420.6 487.6,418C493.5,415.4 499.6,413.2 506.2,412.8C512.8,412.4 520,414.3 526.9,415.9C533.8,417.4 541.4,419.7 547.6,422.1C553.8,424.5 559.4,427.3 564.2,430.4C569,433.5 573.2,437.2 576.6,440.7C580,444.1 582.8,447.3 584.9,451.1C587,454.9 588.3,459.4 589,463.5C589.7,467.6 589.7,471.8 589,475.9C588.3,480 587.3,484.9 584.9,488.3C582.5,491.8 579.3,494.5 574.5,496.6C569.7,498.7 559.7,498.7 555.9,500.8C552.1,502.9 554.5,506.9 551.8,509C549,511.1 543.5,512.7 539.4,513.2C535.2,513.7 530.3,513.5 526.9,512.1C523.5,510.7 521.8,507.1 518.7,504.9C515.6,502.7 512.8,500.1 508.3,498.7C503.8,497.3 498,497.6 491.8,496.6C485.6,495.6 476.5,494.6 471,492.5C465.5,490.4 461.2,488.3 458.6,484.2C456,480.1 455.8,472.4 455.5,467.6C455.2,462.8 455.7,458.6 456.6,455.2C457.5,451.8 458.3,451.4 460.7,446.9Z" fill="#fff" filter="url(#gyri)" opacity="0.55"/><path d="M460.7,446.9C463.1,442.4 466.5,433.1 471,428.3C475.5,423.5 481.7,420.6 487.6,418C493.5,415.4 499.6,413.2 506.2,412.8C512.8,412.4 520,414.3 526.9,415.9C533.8,417.4 541.4,419.7 547.6,422.1C553.8,424.5 559.4,427.3 564.2,430.4C569,433.5 573.2,437.2 576.6,440.7C580,444.1 582.8,447.3 584.9,451.1C587,454.9 588.3,459.4 589,463.5C589.7,467.6 589.7,471.8 589,475.9C588.3,480 587.3,484.9 584.9,488.3C582.5,491.8 579.3,494.5 574.5,496.6C569.7,498.7 559.7,498.7 555.9,500.8C552.1,502.9 554.5,506.9 551.8,509C549,511.1 543.5,512.7 539.4,513.2C535.2,513.7 530.3,513.5 526.9,512.1C523.5,510.7 521.8,507.1 518.7,504.9C515.6,502.7 512.8,500.1 508.3,498.7C503.8,497.3 498,497.6 491.8,496.6C485.6,495.6 476.5,494.6 471,492.5C465.5,490.4 461.2,488.3 458.6,484.2C456,480.1 455.8,472.4 455.5,467.6C455.2,462.8 455.7,458.6 456.6,455.2C457.5,451.8 458.3,451.4 460.7,446.9Z" fill="#000" filter="url(#sulci)" opacity="0.45"/><path d="M663.4,446.9C665.8,442.4 669.2,433.1 673.7,428.3C678.2,423.5 684.4,420.6 690.3,418C696.2,415.4 702.4,413.2 708.9,412.8C715.4,412.4 722.7,414.3 729.6,415.9C736.5,417.4 744.1,419.7 750.3,422.1C756.5,424.5 762.1,427.3 766.9,430.4C771.7,433.5 775.9,437.2 779.3,440.7C782.7,444.1 785.5,447.3 787.6,451.1C789.7,454.9 791,459.4 791.7,463.5C792.4,467.6 792.4,471.8 791.7,475.9C791,480 790,484.9 787.6,488.3C785.2,491.8 782,494.5 777.2,496.6C772.4,498.7 762.4,498.7 758.6,500.8C754.8,502.9 757.2,506.9 754.5,509C751.8,511.1 746.2,512.7 742.1,513.2C737.9,513.7 733,513.5 729.6,512.1C726.1,510.7 724.5,507.1 721.4,504.9C718.3,502.7 715.5,500.1 711,498.7C706.5,497.3 700.7,497.6 694.5,496.6C688.3,495.6 679.2,494.6 673.7,492.5C668.2,490.4 663.9,488.3 661.3,484.2C658.7,480.1 658.5,472.4 658.2,467.6C657.9,462.8 658.4,458.6 659.3,455.2C660.2,451.8 661,451.4 663.4,446.9Z" fill="#d4d4d4" filter="url(#soft)"/><path d="M663.4,446.9C665.8,442.4 669.2,433.1 673.7,428.3C678.2,423.5 684.4,420.6 690.3,418C696.2,415.4 702.4,413.2 708.9,412.8C715.4,412.4 722.7,414.3 729.6,415.9C736.5,417.4 744.1,419.7 750.3,422.1C756.5,424.5 762.1,427.3 766.9,430.4C771.7,433.5 775.9,437.2 779.3,440.7C782.7,444.1 785.5,447.3 787.6,451.1C789.7,454.9 791,459.4 791.7,463.5C792.4,467.6 792.4,471.8 791.7,475.9C791,480 790,484.9 787.6,488.3C785.2,491.8 782,494.5 777.2,496.6C772.4,498.7 762.4,498.7 758.6,500.8C754.8,502.9 757.2,506.9 754.5,509C751.8,511.1 746.2,512.7 742.1,513.2C737.9,513.7 733,513.5 729.6,512.1C726.1,510.7 724.5,507.1 721.4,504.9C718.3,502.7 715.5,500.1 711,498.7C706.5,497.3 700.7,497.6 694.5,496.6C688.3,495.6 679.2,494.6 673.7,492.5C668.2,490.4 663.9,488.3 661.3,484.2C658.7,480.1 658.5,472.4 658.2,467.6C657.9,462.8 658.4,458.6 659.3,455.2C660.2,451.8 661,451.4 663.4,446.9Z" fill="#000" filter="url(#tex)" opacity="0.6"/><path d="M663.4,446.9C665.8,442.4 669.2,433.1 673.7,428.3C678.2,423.5 684.4,420.6 690.3,418C696.2,415.4 702.4,413.2 708.9,412.8C715.4,412.4 722.7,414.3 729.6,415.9C736.5,417.4 744.1,419.7 750.3,422.1C756.5,424.5 762.1,427.3 766.9,430.4C771.7,433.5 775.9,437.2 779.3,440.7C782.7,444.1 785.5,447.3 787.6,451.1C789.7,454.9 791,459.4 791.7,463.5C792.4,467.6 792.4,471.8 791.7,475.9C791,480 790,484.9 787.6,488.3C785.2,491.8 782,494.5 777.2,496.6C772.4,498.7 762.4,498.7 758.6,500.8C754.8,502.9 757.2,506.9 754.5,509C751.8,511.1 746.2,512.7 742.1,513.2C737.9,513.7 733,513.5 729.6,512.1C726.1,510.7 724.5,507.1 721.4,504.9C718.3,502.7 715.5,500.1 711,498.7C706.5,497.3 700.7,497.6 694.5,496.6C688.3,495.6 679.2,494.6 673.7,492.5C668.2,490.4 663.9,488.3 661.3,484.2C658.7,480.1 658.5,472.4 658.2,467.6C657.9,462.8 658.4,458.6 659.3,455.2C660.2,451.8 661,451.4 663.4,446.9Z" fill="#fff" filter="url(#gyri)" opacity="0.55"/><path d="M663.4,446.9C665.8,442.4 669.2,433.1 673.7,428.3C678.2,423.5 684.4,420.6 690.3,418C696.2,415.4 702.4,413.2 708.9,412.8C715.4,412.4 722.7,414.3 729.6,415.9C736.5,417.4 744.1,419.7 750.3,422.1C756.5,424.5 762.1,427.3 766.9,430.4C771.7,433.5 775.9,437.2 779.3,440.7C782.7,444.1 785.5,447.3 787.6,451.1C789.7,454.9 791,459.4 791.7,463.5C792.4,467.6 792.4,471.8 791.7,475.9C791,480 790,484.9 787.6,488.3C785.2,491.8 782,494.5 777.2,496.6C772.4,498.7 762.4,498.7 758.6,500.8C754.8,502.9 757.2,506.9 754.5,509C751.8,511.1 746.2,512.7 742.1,513.2C737.9,513.7 733,513.5 729.6,512.1C726.1,510.7 724.5,507.1 721.4,504.9C718.3,502.7 715.5,500.1 711,498.7C706.5,497.3 700.7,497.6 694.5,496.6C688.3,495.6 679.2,494.6 673.7,492.5C668.2,490.4 663.9,488.3 661.3,484.2C658.7,480.1 658.5,472.4 658.2,467.6C657.9,462.8 658.4,458.6 659.3,455.2C660.2,451.8 661,451.4 663.4,446.9Z" fill="#000" filter="url(#sulci)" opacity="0.45"/><circle cx="505.9" cy="414.2" r="1.3" fill="#911eb4"/><circle cx="512.2" cy="414.2" r="1.3" fill="#800000"/><circle cx="487" cy="420.5" r="1.3" fill="#a0a040"/><circle cx="493.3" cy="420.5" r="1.3" fill="#800000"/><circle cx="499.6" cy="420.5" r="1.3" fill="#c04080"/><circle cx="505.9" cy="420.5" r="1.3" fill="#fabebe"/><circle cx="512.2" cy="420.5" r="1.3" fill="#808000"/><circle cx="518.5" cy="420.5" r="1.3" fill="#fb9a99"/><circle cx="524.8" cy="420.5" r="1.3" fill="#46f0f0"/><circle cx="531.1" cy="420.5" r="1.3" fill="#33a02c"/><circle cx="537.4" cy="420.5" r="1.3" fill="#808000"/><circle cx="543.7" cy="420.5" r="1.3" fill="#33a02c"/><circle cx="480.7" cy="426.8" r="1.3" fill="#000075"/><circle cx="487" cy="426.8" r="1.3" fill="#911eb4"/><circle cx="493.3" cy="426.8" r="1.3" fill="#000075"/><circle cx="499.6" cy="426.8" r="1.3" fill="#000075"/><circle cx="505.9" cy="426.8" r="1.3" fill="#f032e6"/><circle cx="512.2" cy="426.8" r="1.3" fill="#33a02c"/><circle cx="518.5" cy="426.8" r="1.3" fill="#e6194b"/><circle cx="524.8" cy="426.8" r="1.3" fill="#e6194b"/><circle cx="531.1" cy="426.8" r="1.3" fill="#e6beff"/><circle cx="537.4" cy="426.8" r="1.3" fill="#ff7f00"/><circle cx="543.7" cy="426.8" r="1.3" fill="#5050ff"/><circle cx="550" cy="426.8" r="1.3" fill="#800000"/><circle cx="556.3" cy="426.8" r="1.3" fill="#ffe119"/><circle cx="474.4" cy="433.1" r="1.3" fill="#f58231"/><circle cx="480.7" cy="433.1" r="1.3" fill="#33a02c"/><circle cx="487" cy="433.1" r="1.3" fill="#1f78b4"/><circle cx="493.3" cy="433.1" r="1.3" fill="#f032e6"/><circle cx="499.6" cy="433.1" r="1.3" fill="#ff7f00"/><circle cx="505.9" cy="433.1" r="1.3" fill="#f032e6"/><circle cx="512.2" cy="433.1" r="1.3" fill="#a0a040"/><circle cx="518.5" cy="433.1" r="1.3" fill="#3cb44b"/><circle cx="524.8" cy="433.1" r="1.3" fill="#800000"/><circle cx="531.1" cy="433.1" r="1.3" fill="#6a3d9a"/><circle cx="537.4" cy="433.1" r="1.3" fill="#1f78b4"/><circle cx="543.7" cy="433.1" r="1.3" fill="#cab2d6"/><circle cx="550" cy="433.1" r="1.3" fill="#800000"/><circle cx="556.3" cy="433.1" r="1.3" fill="#20c080"/><circle cx="562.6" cy="433.1" r="1.3" fill="#aaffc3"/><circle cx="568.9" cy="433.1" r="1.3" fill="#3cb44b"/><circle cx="468.1" cy="439.4" r="1.3" fill="#008080"/><circle cx="474.4" cy="439.4" r="1.3" fill="#808080"/><circle cx="480.7" cy="439.4" r="1.3" fill="#808000"/><circle cx="487" cy="439.4" r="1.3" fill="#a0a040"/><circle cx="493.3" cy="439.4" r="1.3" fill="#4363d8"/><circle cx="499.6" cy="439.4" r="1.3" fill="#c04080"/><circle cx="505.9" cy="439.4" r="1.3" fill="#e6beff"/><circle cx="512.2" cy="439.4" r="1.3" fill="#e6194b"/><circle cx="518.5" cy="439.4" r="1.3" fill="#f58231"/><circle cx="524.8" cy="439.4" r="1.3" fill="#6a3d9a"/><circle cx="531.1" cy="439.4" r="1.3" fill="#fb9a99"/><circle cx="537.4" cy="439.4" r="1.3" fill="#ffe119"/><circle cx="543.7" cy="439.4" r="1.3" fill="#4363d8"/><circle cx="550" cy="439.4" r="1.3" fill="#33a02c"/><circle cx="556.3" cy="439.4" r="1.3" fill="#ff7f00"/><circle cx="562.6" cy="439.4" r="1.3" fill="#e6194b"/><circle cx="568.9" cy="439.4" r="1.3" fill="#aaffc3"/><circle cx="575.2" cy="439.4" r="1.3" fill="#911eb4"/><circle cx="468.1" cy="445.6" r="1.3" fill="#808080"/><circle cx="474.4" cy="445.6" r="1.3" fill="#6a3d9a"/><circle cx="480.7" cy="445.6" r="1.3" fill="#008080"/><circle cx="487" cy="445.6" r="1.3" fill="#9a6324"/><circle cx="493.3" cy="445.6" r="1.3" fill="#808000"/><circle cx="499.6" cy="445.6" r="1.3" fill="#f58231"/><circle cx="505.9" cy="445.6" r="1.3" fill="#911eb4"/><circle cx="512.2" cy="445.6" r="1.3" fill="#40a0c0"/><circle cx="518.5" cy="445.6" r="1.3" fill="#3cb44b"/><circle cx="524.8" cy="445.6" r="1.3" fill="#808000"/><circle cx="531.1" cy="445.6" r="1.3" fill="#b15928"/><circle cx="537.4" cy="445.6" r="1.3" fill="#fb9a99"/><circle cx="543.7" cy="445.6" r="1.3" fill="#f032e6"/><circle cx="550" cy="445.6" r="1.3" fill="#ffe119"/><circle cx="556.3" cy="445.6" r="1.3" fill="#1f78b4"/><circle cx="562.6" cy="445.6" r="1.3" fill="#46f0f0"/><circle cx="568.9" cy="445.6" r="1.3" fill="#46f0f0"/><circle cx="575.2" cy="445.6" r="1.3" fill="#40a0c0"/><circle cx="581.5" cy="445.6" r="1.3" fill="#33a02c"/><circle cx="461.8" cy="451.9" r="1.3" fill="#cab2d6"/><circle cx="468.1" cy="451.9" r="1.3" fill="#40a0c0"/><circle cx="474.4" cy="451.9" r="1.3" fill="#1f78b4"/><circle cx="480.7" cy="451.9" r="1.3" fill="#1f78b4"/><circle cx="487" cy="451.9" r="1.3" fill="#cab2d6"/><circle cx="493.3" cy="451.9" r="1.3" fill="#5050ff"/><circle cx="499.6" cy="451.9" r="1.3" fill="#6a3d9a"/><circle cx="505.9" cy="451.9" r="1.3" fill="#ffe119"/><circle cx="512.2" cy="451.9" r="1.3" fill="#4363d8"/><circle cx="518.5" cy="451.9" r="1.3" fill="#808080"/><circle cx="524.8" cy="451.9" r="1.3" fill="#808000"/><circle cx="531.1" cy="451.9" r="1.3" fill="#808080"/><circle cx="537.4" cy="451.9" r="1.3" fill="#fb9a99"/><circle cx="543.7" cy="451.9" r="1.3" fill="#9a6324"/><circle cx="550" cy="451.9" r="1.3" fill="#46f0f0"/><circle cx="556.3" cy="451.9" r="1.3" fill="#008080"/><circle cx="562.6" cy="451.9" r="1.3" fill="#ff7f00"/><circle cx="568.9" cy="451.9" r="1.3" fill="#f58231"/><circle cx="575.2" cy="451.9" r="1.3" fill="#cab2d6"/><circle cx="581.5" cy="451.9" r="1.3" fill="#808080"/><circle cx="461.8" cy="458.2" r="1.3" fill="#800000"/><circle cx="468.1" cy="458.2" r="1.3" fill="#fabebe"/><circle cx="474.4" cy="458.2" r="1.3" fill="#e6beff"/><circle cx="480.7" cy="458.2" r="1.3" fill="#aaffc3"/><circle cx="487" cy="458.2" r="1.3" fill="#000075"/><circle cx="493.3" cy="458.2" r="1.3" fill="#9a6324"/><circle cx="499.6" cy="458.2" r="1.3" fill="#008080"/><circle cx="505.9" cy="458.2" r="1.3" fill="#808000"/><circle cx="512.2" cy="458.2" r="1.3" fill="#9a6324"/><circle cx="518.5" cy="458.2" r="1.3" fill="#bcf60c"/><circle cx="524.8" cy="458.2" r="1.3" fill="#e6194b"/><circle cx="531.1" cy="458.2" r="1.3" fill="#fb9a99"/><circle cx="537.4" cy="458.2" r="1.3" fill="#ffe119"/><circle cx="543.7" cy="458.2" r="1.3" fill="#911eb4"/><circle cx="550" cy="458.2" r="1.3" fill="#a0a040"/><circle cx="556.3" cy="458.2" r="1.3" fill="#a0a040"/><circle cx="562.6" cy="458.2" r="1.3" fill="#808000"/><circle cx="568.9" cy="458.2" r="1.3" fill="#e6194b"/><circle cx="575.2" cy="458.2" r="1.3" fill="#808000"/><circle cx="581.5" cy="458.2" r="1.3" fill="#ffe119"/><circle cx="587.8" cy="458.2" r="1.3" fill="#808080"/><circle cx="455.5" cy="464.5" r="1.3" fill="#20c080"/><circle cx="461.8" cy="464.5" r="1.3" fill="#6a3d9a"/><circle cx="468.1" cy="464.5" r="1.3" fill="#000075"/><circle cx="474.4" cy="464.5" r="1.3" fill="#f032e6"/><circle cx="480.7" cy="464.5" r="1.3" fill="#5050ff"/><circle cx="487" cy="464.5" r="1.3" fill="#20c080"/><circle cx="493.3" cy="464.5" r="1.3" fill="#008080"/><circle cx="499.6" cy="464.5" r="1.3" fill="#808080"/><circle cx="505.9" cy="464.5" r="1.3" fill="#20c080"/><circle cx="512.2" cy="464.5" r="1.3" fill="#4363d8"/><circle cx="518.5" cy="464.5" r="1.3" fill="#911eb4"/><circle cx="524.8" cy="464.5" r="1.3" fill="#40a0c0"/><circle cx="531.1" cy="464.5" r="1.3" fill="#911eb4"/><circle cx="537.4" cy="464.5" r="1.3" fill="#c04080"/><circle cx="543.7" cy="464.5" r="1.3" fill="#e6beff"/><circle cx="550" cy="464.5" r="1.3" fill="#fb9a99"/><circle cx="556.3" cy="464.5" r="1.3" fill="#ff7f00"/><circle cx="562.6" cy="464.5" r="1.3" fill="#008080"/><circle cx="568.9" cy="464.5" r="1.3" fill="#e6beff"/><circle cx="575.2" cy="464.5" r="1.3" fill="#1f78b4"/><circle cx="581.5" cy="464.5" r="1.3" fill="#20c080"/><circle cx="587.8" cy="464.5" r="1.3" fill="#ff7f00"/><circle cx="455.5" cy="470.8" r="1.3" fill="#fabebe"/><circle cx="461.8" cy="470.8" r="1.3" fill="#f032e6"/><circle cx="468.1" cy="470.8" r="1.3" fill="#4363d8"/><circle cx="474.4" cy="470.8" r="1.3" fill="#911eb4"/><circle cx="480.7" cy="470.8" r="1.3" fill="#ffe119"/><circle cx="487" cy="470.8" r="1.3" fill="#ff7f00"/><circle cx="493.3" cy="470.8" r="1.3" fill="#fb9a99"/><circle cx="499.6" cy="470.8" r="1.3" fill="#911eb4"/><circle cx="505.9" cy="470.8" r="1.3" fill="#1f78b4"/><circle cx="512.2" cy="470.8" r="1.3" fill="#800000"/><circle cx="518.5" cy="470.8" r="1.3" fill="#e6beff"/><circle cx="524.8" cy="470.8" r="1.3" fill="#911eb4"/><circle cx="531.1" cy="470.8" r="1.3" fill="#40a0c0"/><circle cx="537.4" cy="470.8" r="1.3" fill="#3cb44b"/><circle cx="543.7" cy="470.8" r="1.3" fill="#40a0c0"/><circle cx="550" cy="470.8" r="1.3" fill="#000075"/><circle cx="556.3" cy="470.8" r="1.3" fill="#cab2d6"/><circle cx="562.6" cy="470.8" r="1.3" fill="#40a0c0"/><circle cx="568.9" cy="470.8" r="1.3" fill="#f032e6"/><circle cx="575.2" cy="470.8" r="1.3" fill="#800000"/><circle cx="581.5" cy="470.8" r="1.3" fill="#ff7f00"/><circle cx="587.8" cy="470.8" r="1.3" fill="#911eb4"/><circle cx="455.5" cy="477.1" r="1.3" fill="#6a3d9a"/><circle cx="461.8" cy="477.1" r="1.3" fill="#5050ff"/><circle cx="468.1" cy="477.1" r="1.3" fill="#e6194b"/><circle cx="474.4" cy="477.1" r="1.3" fill="#cab2d6"/><circle cx="480.7" cy="477.1" r="1.3" fill="#e6beff"/><circle cx="487" cy="477.1" r="1.3" fill="#808000"/><circle cx="493.3" cy="477.1" r="1.3" fill="#000075"/><circle cx="499.6" cy="477.1" r="1.3" fill="#9a6324"/><circle cx="505.9" cy="477.1" r="1.3" fill="#40a0c0"/><circle cx="512.2" cy="477.1" r="1.3" fill="#f032e6"/><circle cx="518.5" cy="477.1" r="1.3" fill="#ff7f00"/><circle cx="524.8" cy="477.1" r="1.3" fill="#cab2d6"/><circle cx="531.1" cy="477.1" r="1.3" fill="#f032e6"/><circle cx="537.4" cy="477.1" r="1.3" fill="#911eb4"/><circle cx="543.7" cy="477.1" r="1.3" fill="#808080"/><circle cx="550" cy="477.1" r="1.3" fill="#ffe119"/><circle cx="556.3" cy="477.1" r="1.3" fill="#aaffc3"/><circle cx="562.6" cy="477.1" r="1.3" fill="#33a02c"/><circle cx="568.9" cy="477.1" r="1.3" fill="#800000"/><circle cx="575.2" cy="477.1" r="1.3" fill="#1f78b4"/><circle cx="581.5" cy="477.1" r="1.3" fill="#6a3d9a"/><circle cx="587.8" cy="477.1" r="1.3" fill="#808000"/><circle cx="455.5" cy="483.4" r="1.3" fill="#3cb44b"/><circle cx="461.8" cy="483.4" r="1.3" fill="#fb9a99"/><circle cx="468.1" cy="483.4" r="1.3" fill="#fabebe"/><circle cx="474.4" cy="483.4" r="1.3" fill="#3cb44b"/><circle cx="480.7" cy="483.4" r="1.3" fill="#b15928"/><circle cx="487" cy="483.4" r="1.3" fill="#bcf60c"/><circle cx="493.3" cy="483.4" r="1.3" fill="#40a0c0"/><circle cx="499.6" cy="483.4" r="1.3" fill="#fabebe"/><circle cx="505.9" cy="483.4" r="1.3" fill="#3cb44b"/><circle cx="512.2" cy="483.4" r="1.3" fill="#800000"/><circle cx="518.5" cy="483.4" r="1.3" fill="#f032e6"/><circle cx="524.8" cy="483.4" r="1.3" fill="#911eb4"/><circle cx="531.1" cy="483.4" r="1.3" fill="#9a6324"/><circle cx="537.4" cy="483.4" r="1.3" fill="#ffe119"/><circle cx="543.7" cy="483.4" r="1.3" fill="#b15928"/><circle cx="550" cy="483.4" r="1.3" fill="#008080"/><circle cx="556.3" cy="483.4" r="1.3" fill="#c04080"/><circle cx="562.6" cy="483.4" r="1.3" fill="#cab2d6"/><circle cx="568.9" cy="483.4" r="1.3" fill="#f58231"/><circle cx="575.2" cy="483.4" r="1.3" fill="#f58231"/><circle cx="581.5" cy="483.4" r="1.3" fill="#6a3d9a"/><circle cx="587.8" cy="483.4" r="1.3" fill="#6a3d9a"/><circle cx="455.5" cy="489.7" r="1.3" fill="#808000"/><circle cx="461.8" cy="489.7" r="1.3" fill="#3cb44b"/><circle cx="468.1" cy="489.7" r="1.3" fill="#bcf60c"/><circle cx="474.4" cy="489.7" r="1.3" fill="#f58231"/><circle cx="480.7" cy="489.7" r="1.3" fill="#c04080"/><circle cx="487" cy="489.7" r="1.3" fill="#000075"/><circle cx="493.3" cy="489.7" r="1.3" fill="#ff7f00"/><circle cx="499.6" cy="489.7" r="1.3" fill="#6a3d9a"/><circle cx="505.9" cy="489.7" r="1.3" fill="#808000"/><circle cx="512.2" cy="489.7" r="1.3" fill="#e6194b"/><circle cx="518.5" cy="489.7" r="1.3" fill="#46f0f0"/><circle cx="524.8" cy="489.7" r="1.3" fill="#cab2d6"/><circle cx="531.1" cy="489.7" r="1.3" fill="#fb9a99"/><circle cx="537.4" cy="489.7" r="1.3" fill="#e6beff"/><circle cx="543.7" cy="489.7" r="1.3" fill="#33a02c"/><circle cx="550" cy="489.7" r="1.3" fill="#f58231"/><circle cx="556.3" cy="489.7" r="1.3" fill="#cab2d6"/><circle cx="562.6" cy="489.7" r="1.3" fill="#e6beff"/><circle cx="568.9" cy="489.7" r="1.3" fill="#20c080"/><circle cx="575.2" cy="489.7" r="1.3" fill="#1f78b4"/><circle cx="581.5" cy="489.7" r="1.3" fill="#800000"/><circle cx="587.8" cy="489.7" r="1.3" fill="#808000"/><circle cx="493.3" cy="496" r="1.3" fill="#5050ff"/><circle cx="499.6" cy="496" r="1.3" fill="#cab2d6"/><circle cx="505.9" cy="496" r="1.3" fill="#b15928"/><circle cx="512.2" cy="496" r="1.3" fill="#808000"/><circle cx="518.5" cy="496" r="1.3" fill="#fabebe"/><circle cx="524.8" cy="496" r="1.3" fill="#f58231"/><circle cx="531.1" cy="496" r="1.3" fill="#808080"/><circle cx="537.4" cy="496" r="1.3" fill="#5050ff"/><circle cx="543.7" cy="496" r="1.3" fill="#bcf60c"/><circle cx="550" cy="496" r="1.3" fill="#f58231"/><circle cx="556.3" cy="496" r="1.3" fill="#1f78b4"/><circle cx="562.6" cy="496" r="1.3" fill="#6a3d9a"/><circle cx="568.9" cy="496" r="1.3" fill="#e6194b"/><circle cx="575.2" cy="496" r="1.3" fill="#9a6324"/><circle cx="581.5" cy="496" r="1.3" fill="#40a0c0"/><circle cx="518.5" cy="502.3" r="1.3" fill="#f58231"/><circle cx="524.8" cy="502.3" r="1.3" fill="#a0a040"/><circle cx="531.1" cy="502.3" r="1.3" fill="#e6194b"/><circle cx="537.4" cy="502.3" r="1.3" fill="#bcf60c"/><circle cx="543.7" cy="502.3" r="1.3" fill="#5050ff"/><circle cx="550" cy="502.3" r="1.3" fill="#008080"/><circle cx="556.3" cy="502.3" r="1.3" fill="#c04080"/><circle cx="524.8" cy="508.5" r="1.3" fill="#f032e6"/><circle cx="531.1" cy="508.5" r="1.3" fill="#b15928"/><circle cx="537.4" cy="508.5" r="1.3" fill="#5050ff"/><circle cx="543.7" cy="508.5" r="1.3" fill="#800000"/><circle cx="550" cy="508.5" r="1.3" fill="#bcf60c"/><circle cx="708.6" cy="414.2" r="1.3" fill="#9a4a14"/><circle cx="714.9" cy="414.2" r="1.3" fill="#9a4a14"/><circle cx="689.7" cy="420.5" r="1.3" fill="#7a2ad0"/><circle cx="696" cy="420.5" r="1.3" fill="#7a2ad0"/><circle cx="702.3" cy="420.5" r="1.3" fill="#e6d21e"/><circle cx="708.6" cy="420.5" r="1.3" fill="#8a2a8a"/><circle cx="714.9" cy="420.5" r="1.3" fill="#8a2a8a"/><circle cx="721.2" cy="420.5" r="1.3" fill="#8a2a8a"/><circle cx="727.5" cy="420.5" r="1.3" fill="#d07a5a"/><circle cx="733.8" cy="420.5" r="1.3" fill="#d07a5a"/><circle cx="740.1" cy="420.5" r="1.3" fill="#d07a5a"/><circle cx="746.4" cy="420.5" r="1.3" fill="#d07a5a"/><circle cx="683.4" cy="426.8" r="1.3" fill="#e6d21e"/><circle cx="689.7" cy="426.8" r="1.3" fill="#e6d21e"/><circle cx="696" cy="426.8" r="1.3" fill="#e6d21e"/><circle cx="702.3" cy="426.8" r="1.3" fill="#e6d21e"/><circle cx="708.6" cy="426.8" r="1.3" fill="#8a2a8a"/><circle cx="714.9" cy="426.8" r="1.3" fill="#8a2a8a"/><circle cx="721.2" cy="426.8" r="1.3" fill="#4a8a78"/><circle cx="727.5" cy="426.8" r="1.3" fill="#8a6a20"/><circle cx="733.8" cy="426.8" r="1.3" fill="#d07a5a"/><circle cx="740.1" cy="426.8" r="1.3" fill="#d07a5a"/><circle cx="746.4" cy="426.8" r="1.3" fill="#d07a5a"/><circle cx="752.7" cy="426.8" r="1.3" fill="#d07a5a"/><circle cx="759" cy="426.8" r="1.3" fill="#4a8a78"/><circle cx="677.1" cy="433.1" r="1.3" fill="#e6d21e"/><circle cx="683.4" cy="433.1" r="1.3" fill="#e6d21e"/><circle cx="689.7" cy="433.1" r="1.3" fill="#e6d21e"/><circle cx="696" cy="433.1" r="1.3" fill="#e6d21e"/><circle cx="702.3" cy="433.1" r="1.3" fill="#e6d21e"/><circle cx="708.6" cy="433.1" r="1.3" fill="#6a24c0"/><circle cx="714.9" cy="433.1" r="1.3" fill="#6a24c0"/><circle cx="721.2" cy="433.1" r="1.3" fill="#4a8a78"/><circle cx="727.5" cy="433.1" r="1.3" fill="#8a6a20"/><circle cx="733.8" cy="433.1" r="1.3" fill="#d07a5a"/><circle cx="740.1" cy="433.1" r="1.3" fill="#d07a5a"/><circle cx="746.4" cy="433.1" r="1.3" fill="#d07a5a"/><circle cx="752.7" cy="433.1" r="1.3" fill="#d07a5a"/><circle cx="759" cy="433.1" r="1.3" fill="#4a8a78"/><circle cx="765.3" cy="433.1" r="1.3" fill="#4a8a78"/><circle cx="771.6" cy="433.1" r="1.3" fill="#4a8a78"/><circle cx="670.8" cy="439.4" r="1.3" fill="#8a70a0"/><circle cx="677.1" cy="439.4" r="1.3" fill="#e6d21e"/><circle cx="683.4" cy="439.4" r="1.3" fill="#e6d21e"/><circle cx="689.7" cy="439.4" r="1.3" fill="#e6d21e"/><circle cx="696" cy="439.4" r="1.3" fill="#e6d21e"/><circle cx="702.3" cy="439.4" r="1.3" fill="#e6d21e"/><circle cx="708.6" cy="439.4" r="1.3" fill="#6a24c0"/><circle cx="714.9" cy="439.4" r="1.3" fill="#6a24c0"/><circle cx="721.2" cy="439.4" r="1.3" fill="#e03050"/><circle cx="727.5" cy="439.4" r="1.3" fill="#8a6a20"/><circle cx="733.8" cy="439.4" r="1.3" fill="#d07a5a"/><circle cx="740.1" cy="439.4" r="1.3" fill="#d07a5a"/><circle cx="746.4" cy="439.4" r="1.3" fill="#d07a5a"/><circle cx="752.7" cy="439.4" r="1.3" fill="#d07a5a"/><circle cx="759" cy="439.4" r="1.3" fill="#4a8a78"/><circle cx="765.3" cy="439.4" r="1.3" fill="#4a8a78"/><circle cx="771.6" cy="439.4" r="1.3" fill="#4a8a78"/><circle cx="777.9" cy="439.4" r="1.3" fill="#4a8a78"/><circle cx="670.8" cy="445.6" r="1.3" fill="#c040c0"/><circle cx="677.1" cy="445.6" r="1.3" fill="#8030d0"/><circle cx="683.4" cy="445.6" r="1.3" fill="#e6d21e"/><circle cx="689.7" cy="445.6" r="1.3" fill="#e6d21e"/><circle cx="696" cy="445.6" r="1.3" fill="#e6d21e"/><circle cx="702.3" cy="445.6" r="1.3" fill="#e6d21e"/><circle cx="708.6" cy="445.6" r="1.3" fill="#6a24c0"/><circle cx="714.9" cy="445.6" r="1.3" fill="#6a24c0"/><circle cx="721.2" cy="445.6" r="1.3" fill="#6a24c0"/><circle cx="727.5" cy="445.6" r="1.3" fill="#a06020"/><circle cx="733.8" cy="445.6" r="1.3" fill="#7a9a20"/><circle cx="740.1" cy="445.6" r="1.3" fill="#30b030"/><circle cx="746.4" cy="445.6" r="1.3" fill="#30b030"/><circle cx="752.7" cy="445.6" r="1.3" fill="#30b030"/><circle cx="759" cy="445.6" r="1.3" fill="#4a8a78"/><circle cx="765.3" cy="445.6" r="1.3" fill="#4a8a78"/><circle cx="771.6" cy="445.6" r="1.3" fill="#4a8a78"/><circle cx="777.9" cy="445.6" r="1.3" fill="#4a8a78"/><circle cx="784.2" cy="445.6" r="1.3" fill="#4a8a78"/><circle cx="664.5" cy="451.9" r="1.3" fill="#2060e0"/><circle cx="670.8" cy="451.9" r="1.3" fill="#90c040"/><circle cx="677.1" cy="451.9" r="1.3" fill="#90c040"/><circle cx="683.4" cy="451.9" r="1.3" fill="#e0c040"/><circle cx="689.7" cy="451.9" r="1.3" fill="#e6d21e"/><circle cx="696" cy="451.9" r="1.3" fill="#e6d21e"/><circle cx="702.3" cy="451.9" r="1.3" fill="#6a24c0"/><circle cx="708.6" cy="451.9" r="1.3" fill="#6a24c0"/><circle cx="714.9" cy="451.9" r="1.3" fill="#6a24c0"/><circle cx="721.2" cy="451.9" r="1.3" fill="#6a24c0"/><circle cx="727.5" cy="451.9" r="1.3" fill="#a06020"/><circle cx="733.8" cy="451.9" r="1.3" fill="#a06020"/><circle cx="740.1" cy="451.9" r="1.3" fill="#30b030"/><circle cx="746.4" cy="451.9" r="1.3" fill="#30b030"/><circle cx="752.7" cy="451.9" r="1.3" fill="#30b030"/><circle cx="759" cy="451.9" r="1.3" fill="#4a8a78"/><circle cx="765.3" cy="451.9" r="1.3" fill="#4a8a78"/><circle cx="771.6" cy="451.9" r="1.3" fill="#4a8a78"/><circle cx="777.9" cy="451.9" r="1.3" fill="#4a8a78"/><circle cx="784.2" cy="451.9" r="1.3" fill="#4a8a78"/><circle cx="664.5" cy="458.2" r="1.3" fill="#2060e0"/><circle cx="670.8" cy="458.2" r="1.3" fill="#90c040"/><circle cx="677.1" cy="458.2" r="1.3" fill="#90c040"/><circle cx="683.4" cy="458.2" r="1.3" fill="#20e080"/><circle cx="689.7" cy="458.2" r="1.3" fill="#e6d21e"/><circle cx="696" cy="458.2" r="1.3" fill="#6a24c0"/><circle cx="702.3" cy="458.2" r="1.3" fill="#6a24c0"/><circle cx="708.6" cy="458.2" r="1.3" fill="#6a24c0"/><circle cx="714.9" cy="458.2" r="1.3" fill="#6a24c0"/><circle cx="721.2" cy="458.2" r="1.3" fill="#6a24c0"/><circle cx="727.5" cy="458.2" r="1.3" fill="#e0308a"/><circle cx="733.8" cy="458.2" r="1.3" fill="#e0308a"/><circle cx="740.1" cy="458.2" r="1.3" fill="#e0308a"/><circle cx="746.4" cy="458.2" r="1.3" fill="#e0308a"/><circle cx="752.7" cy="458.2" r="1.3" fill="#c08020"/><circle cx="759" cy="458.2" r="1.3" fill="#c08020"/><circle cx="765.3" cy="458.2" r="1.3" fill="#c08020"/><circle cx="771.6" cy="458.2" r="1.3" fill="#c08020"/><circle cx="777.9" cy="458.2" r="1.3" fill="#4a8a78"/><circle cx="784.2" cy="458.2" r="1.3" fill="#4a8a78"/><circle cx="790.5" cy="458.2" r="1.3" fill="#4a8a78"/><circle cx="658.2" cy="464.5" r="1.3" fill="#a070a0"/><circle cx="664.5" cy="464.5" r="1.3" fill="#90c040"/><circle cx="670.8" cy="464.5" r="1.3" fill="#90c040"/><circle cx="677.1" cy="464.5" r="1.3" fill="#30b030"/><circle cx="683.4" cy="464.5" r="1.3" fill="#5040e0"/><circle cx="689.7" cy="464.5" r="1.3" fill="#5040e0"/><circle cx="696" cy="464.5" r="1.3" fill="#5040e0"/><circle cx="702.3" cy="464.5" r="1.3" fill="#5040e0"/><circle cx="708.6" cy="464.5" r="1.3" fill="#80a0e0"/><circle cx="714.9" cy="464.5" r="1.3" fill="#80a0e0"/><circle cx="721.2" cy="464.5" r="1.3" fill="#80a0e0"/><circle cx="727.5" cy="464.5" r="1.3" fill="#a080e0"/><circle cx="733.8" cy="464.5" r="1.3" fill="#e0308a"/><circle cx="740.1" cy="464.5" r="1.3" fill="#e040c0"/><circle cx="746.4" cy="464.5" r="1.3" fill="#e0308a"/><circle cx="752.7" cy="464.5" r="1.3" fill="#c08020"/><circle cx="759" cy="464.5" r="1.3" fill="#c08020"/><circle cx="765.3" cy="464.5" r="1.3" fill="#c08020"/><circle cx="771.6" cy="464.5" r="1.3" fill="#c08020"/><circle cx="777.9" cy="464.5" r="1.3" fill="#2a6a50"/><circle cx="784.2" cy="464.5" r="1.3" fill="#2a6a50"/><circle cx="790.5" cy="464.5" r="1.3" fill="#4a8a78"/><circle cx="658.2" cy="470.8" r="1.3" fill="#e080a0"/><circle cx="664.5" cy="470.8" r="1.3" fill="#90c040"/><circle cx="670.8" cy="470.8" r="1.3" fill="#90c040"/><circle cx="677.1" cy="470.8" r="1.3" fill="#30b030"/><circle cx="683.4" cy="470.8" r="1.3" fill="#5040e0"/><circle cx="689.7" cy="470.8" r="1.3" fill="#5040e0"/><circle cx="696" cy="470.8" r="1.3" fill="#5040e0"/><circle cx="702.3" cy="470.8" r="1.3" fill="#5040e0"/><circle cx="708.6" cy="470.8" r="1.3" fill="#80a0e0"/><circle cx="714.9" cy="470.8" r="1.3" fill="#80a0e0"/><circle cx="721.2" cy="470.8" r="1.3" fill="#80a0e0"/><circle cx="727.5" cy="470.8" r="1.3" fill="#a080e0"/><circle cx="733.8" cy="470.8" r="1.3" fill="#e0308a"/><circle cx="740.1" cy="470.8" r="1.3" fill="#e040c0"/><circle cx="746.4" cy="470.8" r="1.3" fill="#e0308a"/><circle cx="752.7" cy="470.8" r="1.3" fill="#c08020"/><circle cx="759" cy="470.8" r="1.3" fill="#c08020"/><circle cx="765.3" cy="470.8" r="1.3" fill="#c08020"/><circle cx="771.6" cy="470.8" r="1.3" fill="#c08020"/><circle cx="777.9" cy="470.8" r="1.3" fill="#2a6a50"/><circle cx="784.2" cy="470.8" r="1.3" fill="#2a6a50"/><circle cx="790.5" cy="470.8" r="1.3" fill="#4a8a78"/><circle cx="658.2" cy="477.1" r="1.3" fill="#e080a0"/><circle cx="664.5" cy="477.1" r="1.3" fill="#90c040"/><circle cx="670.8" cy="477.1" r="1.3" fill="#90c040"/><circle cx="677.1" cy="477.1" r="1.3" fill="#30b030"/><circle cx="683.4" cy="477.1" r="1.3" fill="#5040e0"/><circle cx="689.7" cy="477.1" r="1.3" fill="#5040e0"/><circle cx="696" cy="477.1" r="1.3" fill="#5040e0"/><circle cx="702.3" cy="477.1" r="1.3" fill="#5040e0"/><circle cx="708.6" cy="477.1" r="1.3" fill="#80a0e0"/><circle cx="714.9" cy="477.1" r="1.3" fill="#80a0e0"/><circle cx="721.2" cy="477.1" r="1.3" fill="#80a0e0"/><circle cx="727.5" cy="477.1" r="1.3" fill="#a080e0"/><circle cx="733.8" cy="477.1" r="1.3" fill="#e0308a"/><circle cx="740.1" cy="477.1" r="1.3" fill="#e040c0"/><circle cx="746.4" cy="477.1" r="1.3" fill="#e0308a"/><circle cx="752.7" cy="477.1" r="1.3" fill="#c08020"/><circle cx="759" cy="477.1" r="1.3" fill="#c08020"/><circle cx="765.3" cy="477.1" r="1.3" fill="#c08020"/><circle cx="771.6" cy="477.1" r="1.3" fill="#c08020"/><circle cx="777.9" cy="477.1" r="1.3" fill="#2a6a50"/><circle cx="784.2" cy="477.1" r="1.3" fill="#2a6a50"/><circle cx="790.5" cy="477.1" r="1.3" fill="#4a8a78"/><circle cx="658.2" cy="483.4" r="1.3" fill="#802080"/><circle cx="664.5" cy="483.4" r="1.3" fill="#9a9a30"/><circle cx="670.8" cy="483.4" r="1.3" fill="#9a9a30"/><circle cx="677.1" cy="483.4" r="1.3" fill="#9a9a30"/><circle cx="683.4" cy="483.4" r="1.3" fill="#104a58"/><circle cx="689.7" cy="483.4" r="1.3" fill="#104a58"/><circle cx="696" cy="483.4" r="1.3" fill="#104a58"/><circle cx="702.3" cy="483.4" r="1.3" fill="#104a58"/><circle cx="708.6" cy="483.4" r="1.3" fill="#5040e0"/><circle cx="714.9" cy="483.4" r="1.3" fill="#5040e0"/><circle cx="721.2" cy="483.4" r="1.3" fill="#5040e0"/><circle cx="727.5" cy="483.4" r="1.3" fill="#5040e0"/><circle cx="733.8" cy="483.4" r="1.3" fill="#4060e0"/><circle cx="740.1" cy="483.4" r="1.3" fill="#4060e0"/><circle cx="746.4" cy="483.4" r="1.3" fill="#4060e0"/><circle cx="752.7" cy="483.4" r="1.3" fill="#c08020"/><circle cx="759" cy="483.4" r="1.3" fill="#c08020"/><circle cx="765.3" cy="483.4" r="1.3" fill="#2a6a50"/><circle cx="771.6" cy="483.4" r="1.3" fill="#2a6a50"/><circle cx="777.9" cy="483.4" r="1.3" fill="#2a6a50"/><circle cx="784.2" cy="483.4" r="1.3" fill="#2a6a50"/><circle cx="790.5" cy="483.4" r="1.3" fill="#2a6a50"/><circle cx="658.2" cy="489.7" r="1.3" fill="#e04060"/><circle cx="664.5" cy="489.7" r="1.3" fill="#60d080"/><circle cx="670.8" cy="489.7" r="1.3" fill="#9a9a30"/><circle cx="677.1" cy="489.7" r="1.3" fill="#9a9a30"/><circle cx="683.4" cy="489.7" r="1.3" fill="#104a58"/><circle cx="689.7" cy="489.7" r="1.3" fill="#104a58"/><circle cx="696" cy="489.7" r="1.3" fill="#104a58"/><circle cx="702.3" cy="489.7" r="1.3" fill="#104a58"/><circle cx="708.6" cy="489.7" r="1.3" fill="#104a58"/><circle cx="714.9" cy="489.7" r="1.3" fill="#104a58"/><circle cx="721.2" cy="489.7" r="1.3" fill="#104a58"/><circle cx="727.5" cy="489.7" r="1.3" fill="#6a24c0"/><circle cx="733.8" cy="489.7" r="1.3" fill="#a080e0"/><circle cx="740.1" cy="489.7" r="1.3" fill="#e040c0"/><circle cx="746.4" cy="489.7" r="1.3" fill="#a080e0"/><circle cx="752.7" cy="489.7" r="1.3" fill="#a080e0"/><circle cx="759" cy="489.7" r="1.3" fill="#a080e0"/><circle cx="765.3" cy="489.7" r="1.3" fill="#a080e0"/><circle cx="771.6" cy="489.7" r="1.3" fill="#a080e0"/><circle cx="777.9" cy="489.7" r="1.3" fill="#a080e0"/><circle cx="784.2" cy="489.7" r="1.3" fill="#a080e0"/><circle cx="790.5" cy="489.7" r="1.3" fill="#2a6a50"/><circle cx="696" cy="496" r="1.3" fill="#104a58"/><circle cx="702.3" cy="496" r="1.3" fill="#104a58"/><circle cx="708.6" cy="496" r="1.3" fill="#104a58"/><circle cx="714.9" cy="496" r="1.3" fill="#104a58"/><circle cx="721.2" cy="496" r="1.3" fill="#5040e0"/><circle cx="727.5" cy="496" r="1.3" fill="#5040e0"/><circle cx="733.8" cy="496" r="1.3" fill="#5040e0"/><circle cx="740.1" cy="496" r="1.3" fill="#e0308a"/><circle cx="746.4" cy="496" r="1.3" fill="#9070d0"/><circle cx="752.7" cy="496" r="1.3" fill="#9070d0"/><circle cx="759" cy="496" r="1.3" fill="#9070d0"/><circle cx="765.3" cy="496" r="1.3" fill="#9070d0"/><circle cx="771.6" cy="496" r="1.3" fill="#9070d0"/><circle cx="777.9" cy="496" r="1.3" fill="#9070d0"/><circle cx="784.2" cy="496" r="1.3" fill="#9070d0"/><circle cx="721.2" cy="502.3" r="1.3" fill="#6a24c0"/><circle cx="727.5" cy="502.3" r="1.3" fill="#104a58"/><circle cx="733.8" cy="502.3" r="1.3" fill="#104a58"/><circle cx="740.1" cy="502.3" r="1.3" fill="#104a58"/><circle cx="746.4" cy="502.3" r="1.3" fill="#e0308a"/><circle cx="752.7" cy="502.3" r="1.3" fill="#e0308a"/><circle cx="759" cy="502.3" r="1.3" fill="#5040e0"/><circle cx="727.5" cy="508.5" r="1.3" fill="#a0a040"/><circle cx="733.8" cy="508.5" r="1.3" fill="#104a58"/><circle cx="740.1" cy="508.5" r="1.3" fill="#104a58"/><circle cx="746.4" cy="508.5" r="1.3" fill="#104a58"/><circle cx="752.7" cy="508.5" r="1.3" fill="#e020c0"/><text x="22" y="569" font-size="10.5" font-weight="bold" stroke="#000" stroke-width="0.3" fill="#000">f</text><text x="105" y="569" font-size="10.5" font-weight="bold" stroke="#000" stroke-width="0.3" fill="#000" textLength="82.5" lengthAdjust="spacingAndGlyphs">Evoked responses</text><text x="311" y="569" font-size="10.5" font-weight="bold" stroke="#000" stroke-width="0.3" fill="#000" textLength="86.5" lengthAdjust="spacingAndGlyphs">Induced responses</text><text transform="translate(9.7,571.5) rotate(-90)" font-size="10.6" font-style="italic" text-anchor="middle" fill="#333" textLength="100.3" lengthAdjust="spacingAndGlyphs">MEG source analysis</text><path d="M55.5,590V734M60.7,590V734M65.9,590V734M71,590V734M76.2,590V734M81.4,590V734M86.6,590V734M91.7,590V734M96.9,590V734M102.1,590V734M107.2,590V734M112.4,590V734M117.6,590V734M122.7,590V734M127.9,590V734M133.1,590V734M138.2,590V734M143.4,590V734M148.6,590V734M153.8,590V734M158.9,590V734M164.1,590V734M169.3,590V734M174.4,590V734M179.6,590V734M184.8,590V734M190,590V734M195.1,590V734M200.3,590V734M205.5,590V734M210.6,590V734M215.8,590V734M221,590V734M226.1,590V734M231.3,590V734M236.5,590V734M55.6,734H236.9M55.6,729.5H236.9M55.6,725H236.9M55.6,720.5H236.9M55.6,716H236.9M55.6,711.5H236.9M55.6,707H236.9M55.6,702.5H236.9M55.6,698H236.9M55.6,693.5H236.9M55.6,689H236.9M55.6,684.5H236.9M55.6,680H236.9M55.6,675.5H236.9M55.6,671H236.9M55.6,666.5H236.9M55.6,662H236.9M55.6,657.5H236.9M55.6,653H236.9M55.6,648.5H236.9M55.6,644H236.9M55.6,639.5H236.9M55.6,635H236.9M55.6,630.5H236.9M55.6,626H236.9M55.6,621.5H236.9M55.6,617H236.9M55.6,612.5H236.9M55.6,608H236.9M55.6,603.5H236.9M55.6,599H236.9M55.6,594.5H236.9M55.6,590H236.9" stroke="#efefef" stroke-width="0.3" fill="none"/><path d="M60.7,590V734M86.6,590V734M112.4,590V734M138.2,590V734M164.1,590V734M189.9,590V734M215.8,590V734M55.6,734H236.9M55.6,716H236.9M55.6,698H236.9M55.6,680H236.9M55.6,662H236.9M55.6,644H236.9M55.6,626H236.9M55.6,608H236.9M55.6,590H236.9" stroke="#e2e2e2" stroke-width="0.35" fill="none"/><rect x="55.6" y="590" width="181.3" height="144" fill="none" stroke="#b8b8b8" stroke-width="0.5"/><text x="53.4" y="736.6" font-size="7.6" text-anchor="end" fill="#333">-60</text><text x="53.4" y="718.6" font-size="7.6" text-anchor="end" fill="#333">-50</text><text x="53.4" y="700.6" font-size="7.6" text-anchor="end" fill="#333">-40</text><text x="53.4" y="682.6" font-size="7.6" text-anchor="end" fill="#333">-30</text><text x="53.4" y="664.6" font-size="7.6" text-anchor="end" fill="#333">-20</text><text x="53.4" y="646.6" font-size="7.6" text-anchor="end" fill="#333">-10</text><text x="53.4" y="628.6" font-size="7.6" text-anchor="end" fill="#333">0</text><text x="53.4" y="610.6" font-size="7.6" text-anchor="end" fill="#333">10</text><text x="53.4" y="592.6" font-size="7.6" text-anchor="end" fill="#333">20</text><text x="60.7" y="742.4" font-size="7.6" text-anchor="middle" fill="#333">0</text><text x="86.6" y="742.4" font-size="7.6" text-anchor="middle" fill="#333">0.5</text><text x="112.4" y="742.4" font-size="7.6" text-anchor="middle" fill="#333">1</text><text x="138.2" y="742.4" font-size="7.6" text-anchor="middle" fill="#333">1.5</text><text x="164.1" y="742.4" font-size="7.6" text-anchor="middle" fill="#333">2</text><text x="189.9" y="742.4" font-size="7.6" text-anchor="middle" fill="#333">2.5</text><text x="215.8" y="742.4" font-size="7.6" text-anchor="middle" fill="#333">3</text><text transform="translate(35.3,663.4) rotate(-90)" font-size="7.6" text-anchor="middle" fill="#333" textLength="31" lengthAdjust="spacingAndGlyphs">Amplitude</text><text x="124.1" y="769.5" font-size="7.6" fill="#333" textLength="26.7" lengthAdjust="spacingAndGlyphs">Time (s)</text><g transform="translate(60.2,754.6) scale(0.85)" fill="#111" stroke="none"><ellipse cx="0" cy="0" rx="1.7" ry="1.25" transform="rotate(-25)"/><rect x="1.1" y="-7.2" width="0.6" height="7"/><path d="M1.4,-7.2 C2,-5.6 3.8,-5 3.6,-2.8 C3.4,-4 2.6,-4.6 1.4,-5.2Z"/></g><g transform="translate(79,754.6) scale(0.85)" fill="#111" stroke="none"><ellipse cx="0" cy="0" rx="1.7" ry="1.25" transform="rotate(-25)"/><rect x="1.1" y="-7.2" width="0.6" height="7"/><path d="M1.4,-7.2 C2,-5.6 3.8,-5 3.6,-2.8 C3.4,-4 2.6,-4.6 1.4,-5.2Z"/></g><path d="M75,757.5 V758.8 H83 V757.5" fill="none" stroke="#5cb3d8" stroke-width="0.8"/><g transform="translate(95.3,754.6) scale(0.85)" fill="#111" stroke="none"><ellipse cx="0" cy="0" rx="1.7" ry="1.25" transform="rotate(-25)"/><rect x="1.1" y="-7.2" width="0.6" height="7"/><path d="M1.4,-7.2 C2,-5.6 3.8,-5 3.6,-2.8 C3.4,-4 2.6,-4.6 1.4,-5.2Z"/></g><path d="M91.3,757.5 V758.8 H99.3 V757.5" fill="none" stroke="#4b9be3" stroke-width="0.8"/><g transform="translate(112.6,754.6) scale(0.85)" fill="#111" stroke="none"><ellipse cx="0" cy="0" rx="1.7" ry="1.25" transform="rotate(-25)"/><rect x="1.1" y="-7.2" width="0.6" height="7"/><path d="M1.4,-7.2 C2,-5.6 3.8,-5 3.6,-2.8 C3.4,-4 2.6,-4.6 1.4,-5.2Z"/></g><path d="M108.6,757.5 V758.8 H116.6 V757.5" fill="none" stroke="#3441a6" stroke-width="0.8"/><g transform="translate(130.7,754.6) scale(0.85)" fill="#111" stroke="none"><ellipse cx="0" cy="0" rx="1.7" ry="1.25" transform="rotate(-25)"/><rect x="1.1" y="-7.2" width="0.6" height="7"/><path d="M1.4,-7.2 C2,-5.6 3.8,-5 3.6,-2.8 C3.4,-4 2.6,-4.6 1.4,-5.2Z"/></g><path d="M126.7,757.5 V758.8 H134.7 V757.5" fill="none" stroke="#222" stroke-width="0.8"/><defs><clipPath id="cpE"><rect x="55.6" y="590" width="181.3" height="144"/></clipPath></defs><g clip-path="url(#cpE)" fill="none" stroke-width="1.15" stroke-linejoin="round"><path d="M54,635.1C54.3,635.4 54.8,636.9 55.6,637.1C56.4,637.3 57.9,636.8 59,636.1C60.1,635.4 61.2,632.2 62,632.7C62.8,633.2 63.2,628.4 63.6,639.1C64.1,649.9 64.3,682.9 64.6,697.2C64.9,711.6 65.2,725.3 65.4,725.3C65.7,725.3 65.9,712.1 66.2,697.2C66.6,682.4 67,645.5 67.6,636.1C68.3,626.8 69.3,639.6 70,641.1C70.8,642.6 71,648.1 72,645.1C73,642.1 74.7,624.4 76,623.1C77.4,621.7 78.5,631.1 80.1,637.1C81.6,643.1 83.1,659.5 85.1,659.1C87.1,658.8 89.6,642.8 92.1,635.1C94.6,627.4 97.8,614.4 100.1,613.1C102.4,611.7 104.3,621.7 106.1,627.1C107.9,632.4 109.1,649 111.1,645.1C113.1,641.3 116,608.4 118.1,604C120.3,599.7 122.2,613.6 124.1,619.1C126.1,624.6 127.6,639.3 129.8,637.1C131.9,634.9 134.8,609 137.2,606C139.6,603 142.9,616.9 144.2,619.1C145.5,621.2 144.4,616.6 145,619.1C145.6,621.6 146.8,634.4 148,634.1C149.2,633.8 150.7,622.9 152,617.1C153.4,611.2 154.7,600.4 156,599C157.4,597.7 158.7,604 160,609C161.4,614.1 162.7,624.7 164,629.1C165.4,633.4 166.6,634.3 168.1,635.1C169.6,635.9 171.4,633.3 173.1,634.1C174.7,634.9 176.2,637.9 178.1,640.1C179.9,642.3 182.1,645.6 184.1,647.1C186.1,648.6 187.4,648.8 190.1,649.1C192.8,649.5 196.8,649.8 200.1,649.1C203.5,648.5 206.8,645.5 210.1,645.1C213.5,644.8 217.2,646.6 220.2,647.1C223.2,647.6 224.8,648.8 228.2,648.1C231.5,647.5 238.2,644 240.2,643.1" stroke="#e8282d"/><path d="M54,641.1C54.3,641.3 54.3,641.6 55.6,642.1C56.9,642.6 60.5,633.6 62,644.1C63.5,654.6 63.9,691.7 64.4,705.2C65,718.8 64.9,725.3 65.2,725.3C65.5,725.3 65.8,719.9 66.2,705.2C66.7,690.5 67.2,647.3 68,637.1C68.8,626.9 69.7,645.8 71,644.1C72.4,642.4 73.7,624.7 76,627.1C78.4,629.4 82.9,651.8 85.1,658.1C87.2,664.5 87.7,660.3 89.1,665.2C90.4,670 91.4,687.9 93.1,687.2C94.7,686.5 97.1,669.5 99.1,661.2C101.1,652.8 103.1,636.1 105.1,637.1C107.1,638.1 108.9,665.8 111.1,667.2C113.3,668.5 116.1,651.6 118.1,645.1C120.1,638.6 121.1,624.9 123.1,628.1C125.1,631.3 127.6,662.3 130.2,664.2C132.7,666 136.2,644.6 138.2,639.1C140.2,633.6 141,629.4 142.2,631.1C143.3,632.8 143.9,644.8 145,649.1C146.2,653.5 147.5,657.8 149,657.1C150.5,656.5 152.4,649.5 154,645.1C155.7,640.8 156.7,635.1 159,631.1C161.4,627.1 165.4,623.7 168.1,621.1C170.7,618.4 173.1,614.4 175.1,615.1C177.1,615.7 177.9,620.4 180.1,625.1C182.3,629.8 185.4,639.1 188.1,643.1C190.8,647.1 193.1,647.5 196.1,649.1C199.1,650.8 202.8,652.8 206.1,653.1C209.5,653.5 212.5,651.3 216.2,651.1C219.8,651 224.2,651.3 228.2,652.1C232.2,653 238.2,655.5 240.2,656.1" stroke="#6cc0e6"/><path d="M54,640.1C54.3,640.3 54.3,640.4 55.6,641.1C56.9,641.8 60.5,633.4 62,644.1C63.5,654.8 63.9,691.4 64.4,705.2C65,719.1 64.9,727.3 65.2,727.3C65.5,727.3 65.8,720.4 66.2,705.2C66.7,690 67.2,646.5 68,636.1C68.8,625.7 69.7,645 71,643.1C72.4,641.3 73.7,622.2 76,625.1C78.4,627.9 81.2,662.8 85.1,660.2C88.9,657.5 95.6,614.9 99.1,609C102.6,603.2 103.9,610.1 106.1,625.1C108.3,640.1 110.1,697.6 112.1,699.2C114.1,700.9 116.3,647.5 118.1,635.1C120,622.7 121.2,622.1 123.1,625.1C125.1,628.1 127.6,650.8 129.8,653.1C131.9,655.5 134.1,643.1 136.2,639.1C138.2,635.1 140.7,627.8 142.2,629.1C143.7,630.4 143.9,642.6 145,647.1C146.2,651.6 147.5,656.8 149,656.1C150.5,655.5 152.4,647.3 154,643.1C155.7,638.9 156.7,634.4 159,631.1C161.4,627.8 165.4,625.1 168.1,623.1C170.7,621.1 173.1,618.4 175.1,619.1C177.1,619.7 178.2,623.4 180.1,627.1C181.9,630.8 183.8,637.8 186.1,641.1C188.4,644.5 191.1,646.5 194.1,647.1C197.1,647.8 200.8,645.8 204.1,645.1C207.5,644.5 210.8,642.9 214.1,643.1C217.5,643.3 219.8,646.1 224.2,646.1C228.5,646.1 237.5,643.6 240.2,643.1" stroke="#3a86d0"/><path d="M54,632.1C54.3,632.3 54.3,630.9 55.6,633.1C56.9,635.3 60.5,633.1 62,645.1C63.5,657.1 63.9,691.2 64.4,705.2C65,719.3 64.9,729.3 65.2,729.3C65.5,729.3 65.8,719.6 66.2,705.2C66.6,690.9 67.2,654.1 67.6,643.1C68.1,632.1 68.3,637.3 69,639.1C69.8,640.9 70.7,655 72,654.1C73.4,653.3 74.9,633.6 77,634.1C79.2,634.6 81.4,660.2 85.1,657.1C88.7,654.1 94.7,616.9 99.1,616.1C103.4,615.2 107.9,652.5 111.1,652.1C114.3,651.8 115,614.6 118.1,614.1C121.2,613.5 126.6,650.1 129.8,648.7C132.9,647.4 134.9,611.3 137.2,606C139.4,600.8 141.9,607.9 143.2,617.1C144.5,626.2 144.4,650.5 145,661.2C145.6,671.8 146.2,674.3 147,681.2C147.8,688 149,702.6 150,702.2C151,701.9 151.9,689.4 153,679.2C154.2,669 155.5,652.1 157,641.1C158.5,630.1 160.5,619.1 162,613.1C163.5,607 164.5,607 166.1,605C167.6,603.1 169.6,600.1 171.1,601.4C172.6,602.8 173.7,608.1 175.1,613.1C176.4,618 177.6,625.1 179.1,631.1C180.6,637.1 182.3,644.1 184.1,649.1C185.9,654.1 188.1,659.2 190.1,661.2C192.1,663.1 193.8,660.9 196.1,660.8C198.5,660.6 201.5,660.6 204.1,660.2C206.8,659.7 209.5,659.1 212.1,658.1C214.8,657.1 217.5,655 220.2,654.1C222.8,653.2 224.8,653.6 228.2,652.7C231.5,651.8 238.2,649.4 240.2,648.7" stroke="#151515"/><path d="M54,642.1C54.3,642.3 54.3,642.6 55.6,643.1C56.9,643.6 60.5,634.8 62,645.1C63.5,655.5 63.9,690.7 64.4,705.2C65,719.8 64.9,732.3 65.2,732.3C65.5,732.3 65.8,720.8 66.2,705.2C66.7,689.7 67.2,649.1 68,639.1C68.8,629.1 69.7,646.8 71,645.1C72.4,643.5 73.7,626.8 76,629.1C78.4,631.4 81.2,661.5 85.1,659.1C88.9,656.8 94.7,616.7 99.1,615.1C103.4,613.4 107.9,649.1 111.1,649.1C114.3,649.1 116,619.1 118.1,615.1C120.3,611.1 122,609.9 124.1,625.1C126.2,640.3 128.6,702.9 130.8,706.2C132.9,709.6 135.1,661.3 137.2,645.1C139.2,628.9 141.9,612.7 143.2,609C144.5,605.4 144.4,618.4 145,623.1C145.6,627.8 145.8,631.8 146.6,637.1C147.4,642.4 148.8,653.8 150,655.1C151.3,656.5 152.5,649 154,645.1C155.5,641.3 157,634.8 159,632.1C161,629.4 164,630.3 166.1,629.1C168.1,627.9 169.4,624.9 171.1,625.1C172.7,625.2 174.2,627.1 176.1,630.1C177.9,633.1 179.7,639.9 182.1,643.1C184.4,646.3 187.1,648.8 190.1,649.1C193.1,649.5 196.4,646.9 200.1,645.1C203.8,643.4 208.8,639 212.1,638.7C215.5,638.4 217.5,642.1 220.2,643.1C222.8,644.1 224.8,644.4 228.2,644.7C231.5,645.1 238.2,645.1 240.2,645.1" stroke="#2c3a98"/></g><rect x="199.1" y="674.2" width="31.5" height="55.1" fill="#fff" stroke="#555" stroke-width="0.5"/><line x1="202" y1="681.1" x2="209.5" y2="681.1" stroke="#e8282d" stroke-width="1"/><text x="213" y="683.6" font-size="7.2" fill="#333">M</text><line x1="202" y1="691.2" x2="209.5" y2="691.2" stroke="#6cc0e6" stroke-width="1"/><text x="213" y="693.7" font-size="7.2" fill="#333">NT1</text><line x1="202" y1="701.3" x2="209.5" y2="701.3" stroke="#3a86d0" stroke-width="1"/><text x="213" y="703.8" font-size="7.2" fill="#333">NT2</text><line x1="202" y1="711.4" x2="209.5" y2="711.4" stroke="#2c3a98" stroke-width="1"/><text x="213" y="713.9" font-size="7.2" fill="#333">NT3</text><line x1="202" y1="721.5" x2="209.5" y2="721.5" stroke="#151515" stroke-width="1"/><text x="213" y="724" font-size="7.2" fill="#333">NT4</text><defs><clipPath id="cpI"><rect x="275.6" y="591.3" width="161.3" height="143.2"/></clipPath><filter id="blurI" x="-10%" y="-10%" width="120%" height="120%"><feGaussianBlur stdDeviation="1.6"/></filter><linearGradient id="g10" x1="0" x2="1" y1="0" y2="0"><stop offset="0" stop-color="#e83030" stop-opacity="0.55"/><stop offset="0.12" stop-color="#e02828" stop-opacity="0.85"/><stop offset="0.35" stop-color="#e83030" stop-opacity="0.75"/><stop offset="0.55" stop-color="#ee4040" stop-opacity="0.5"/><stop offset="0.8" stop-color="#e83030" stop-opacity="0.7"/><stop offset="0.93" stop-color="#e02020" stop-opacity="0.9"/><stop offset="1" stop-color="#e83030" stop-opacity="0.5"/></linearGradient><linearGradient id="g2" x1="0" x2="1" y1="0" y2="0"><stop offset="0" stop-color="#e83a3a" stop-opacity="0.5"/><stop offset="0.1" stop-color="#d81818" stop-opacity="0.9"/><stop offset="0.6" stop-color="#cc1010" stop-opacity="1"/><stop offset="1" stop-color="#b00000" stop-opacity="1"/></linearGradient></defs><g clip-path="url(#cpI)"><g filter="url(#blurI)"><rect x="278.6" y="688.9" width="8.9" height="18.1" fill="#f9d0d0" opacity="0.55"/><rect x="287.6" y="694.9" width="8.9" height="12.1" fill="#f9d0d0" opacity="0.5"/><rect x="296.5" y="690.1" width="9" height="16.9" fill="#f9d0d0" opacity="0.5"/><rect x="305.5" y="692.5" width="10.7" height="14.5" fill="#f9d0d0" opacity="0.45"/><rect x="316.2" y="699.8" width="9" height="7.2" fill="#f9d0d0" opacity="0.4"/><rect x="325.1" y="703.4" width="64.4" height="3.6" fill="#f9d0d0" opacity="0.35"/><rect x="389.6" y="694.9" width="10.7" height="12.1" fill="#f9d0d0" opacity="0.45"/><rect x="400.3" y="698.5" width="8.9" height="8.4" fill="#f9d0d0" opacity="0.5"/><rect x="409.3" y="690.1" width="10.7" height="16.9" fill="#f9d0d0" opacity="0.5"/><rect x="420" y="687.7" width="9" height="19.3" fill="#f9d0d0" opacity="0.5"/><rect x="278.6" y="705.1" width="153.9" height="12.5" fill="url(#g10)"/><rect x="278.6" y="717.6" width="153.9" height="9.6" fill="#f4a0a0" opacity="0.8"/><ellipse cx="366.3" cy="720.7" rx="30.4" ry="2.6" fill="#fff" opacity="0.9"/><ellipse cx="332.3" cy="722.6" rx="21.5" ry="2" fill="#fff" opacity="0.5"/><rect x="278.6" y="727.5" width="157.5" height="8.4" fill="url(#g2)"/><rect x="332.3" y="733" width="103.8" height="2.9" fill="#9a0000" opacity="0.7"/></g><line x1="304.7" y1="596.1" x2="304.7" y2="639.5" stroke="#f4b0b0" stroke-width="0.6" opacity="0.45"/><line x1="319.1" y1="596.1" x2="319.1" y2="634.7" stroke="#f4b0b0" stroke-width="0.6" opacity="0.45"/><line x1="334.8" y1="600.9" x2="334.8" y2="632.3" stroke="#f4b0b0" stroke-width="0.6" opacity="0.45"/><line x1="334.8" y1="661.2" x2="334.8" y2="682.9" stroke="#f4b0b0" stroke-width="0.6" opacity="0.45"/></g><path d="M275.6,711.8h1.5M436.9,711.8h-1.5M275.6,687.7h1.5M436.9,687.7h-1.5M275.6,663.6h1.5M436.9,663.6h-1.5M275.6,639.5h1.5M436.9,639.5h-1.5M275.6,615.4h1.5M436.9,615.4h-1.5M275.6,591.3h1.5M436.9,591.3h-1.5M278.6,734.5v-1.5M278.6,591.3v1.5M314.4,734.5v-1.5M314.4,591.3v1.5M350.2,734.5v-1.5M350.2,591.3v1.5M386,734.5v-1.5M386,591.3v1.5M421.8,734.5v-1.5M421.8,591.3v1.5" stroke="#444" stroke-width="0.4"/><rect x="275.6" y="591.3" width="161.3" height="143.2" fill="none" stroke="#777" stroke-width="0.5"/><text x="272.2" y="714.4" font-size="7.6" text-anchor="end" fill="#333">10</text><text x="272.2" y="690.3" font-size="7.6" text-anchor="end" fill="#333">20</text><text x="272.2" y="666.2" font-size="7.6" text-anchor="end" fill="#333">30</text><text x="272.2" y="642.1" font-size="7.6" text-anchor="end" fill="#333">40</text><text x="272.2" y="618" font-size="7.6" text-anchor="end" fill="#333">50</text><text x="272.2" y="593.9" font-size="7.6" text-anchor="end" fill="#333">60</text><text x="278.6" y="743.6" font-size="7.6" text-anchor="middle" fill="#333">0</text><text x="314.4" y="743.6" font-size="7.6" text-anchor="middle" fill="#333">1</text><text x="350.2" y="743.6" font-size="7.6" text-anchor="middle" fill="#333">2</text><text x="386" y="743.6" font-size="7.6" text-anchor="middle" fill="#333">3</text><text x="421.8" y="743.6" font-size="7.6" text-anchor="middle" fill="#333">4</text><text transform="translate(259.2,662) rotate(-90)" font-size="7.6" text-anchor="middle" fill="#333" textLength="17" lengthAdjust="spacingAndGlyphs">f (Hz)</text><text x="337.8" y="756.3" font-size="7.6" fill="#333" textLength="26.5" lengthAdjust="spacingAndGlyphs">Time (s)</text><text x="474" y="569" font-size="10.5" font-weight="bold" stroke="#000" stroke-width="0.3" fill="#000">g</text><text x="567.5" y="569" font-size="10.5" font-weight="bold" stroke="#000" stroke-width="0.3" fill="#000" textLength="121" lengthAdjust="spacingAndGlyphs">Dynamic causal modelling</text><defs><linearGradient id="hemL" x1="0" x2="1" y1="0" y2="0"><stop offset="0" stop-color="#cdcdcd"/><stop offset="0.5" stop-color="#dedede"/><stop offset="1" stop-color="#ececec"/></linearGradient><linearGradient id="hemR" x1="1" x2="0" y1="0" y2="0"><stop offset="0" stop-color="#cdcdcd"/><stop offset="0.5" stop-color="#dedede"/><stop offset="1" stop-color="#ececec"/></linearGradient></defs><path d="M522.6,599.6C520.6,598.7 514.2,599 510.1,600.4C506,601.8 501.8,604.4 498.1,608C494.4,611.6 491.2,616.4 488,622.1C484.8,627.8 481.5,634.8 479,642.2C476.5,649.6 474,658.9 473,666.3C472,673.6 472.2,679.6 473,686.3C473.8,693 475.5,700 478,706.4C480.5,712.8 484,719.5 488,724.5C492,729.5 497.4,734 502.1,736.5C506.8,739 512.8,739.3 516.2,739.5C519.6,739.7 521.1,742.1 522.4,737.5C523.7,732.9 523.7,721.2 524.2,712C524.7,702.8 525.1,691 525.3,682C525.5,673 525.6,667 525.3,658C525,649 524.1,636.7 523.6,628C523.1,619.3 522.2,610.7 522,606C521.8,601.3 524.6,600.5 522.6,599.6Z" fill="url(#hemL)" stroke="#d4d4d4" stroke-width="0.8"/><path d="M522.6,599.6C520.6,598.7 514.2,599 510.1,600.4C506,601.8 501.8,604.4 498.1,608C494.4,611.6 491.2,616.4 488,622.1C484.8,627.8 481.5,634.8 479,642.2C476.5,649.6 474,658.9 473,666.3C472,673.6 472.2,679.6 473,686.3C473.8,693 475.5,700 478,706.4C480.5,712.8 484,719.5 488,724.5C492,729.5 497.4,734 502.1,736.5C506.8,739 512.8,739.3 516.2,739.5C519.6,739.7 521.1,742.1 522.4,737.5C523.7,732.9 523.7,721.2 524.2,712C524.7,702.8 525.1,691 525.3,682C525.5,673 525.6,667 525.3,658C525,649 524.1,636.7 523.6,628C523.1,619.3 522.2,610.7 522,606C521.8,601.3 524.6,600.5 522.6,599.6Z" fill="#000" filter="url(#tex)" opacity="0.5"/><path d="M522.6,599.6C520.6,598.7 514.2,599 510.1,600.4C506,601.8 501.8,604.4 498.1,608C494.4,611.6 491.2,616.4 488,622.1C484.8,627.8 481.5,634.8 479,642.2C476.5,649.6 474,658.9 473,666.3C472,673.6 472.2,679.6 473,686.3C473.8,693 475.5,700 478,706.4C480.5,712.8 484,719.5 488,724.5C492,729.5 497.4,734 502.1,736.5C506.8,739 512.8,739.3 516.2,739.5C519.6,739.7 521.1,742.1 522.4,737.5C523.7,732.9 523.7,721.2 524.2,712C524.7,702.8 525.1,691 525.3,682C525.5,673 525.6,667 525.3,658C525,649 524.1,636.7 523.6,628C523.1,619.3 522.2,610.7 522,606C521.8,601.3 524.6,600.5 522.6,599.6Z" fill="#000" filter="url(#sulci)" opacity="0.4"/><path d="M529,599.6C531,598.7 537.4,599 541.5,600.4C545.6,601.8 549.8,604.4 553.5,608C557.2,611.6 560.4,616.4 563.6,622.1C566.8,627.8 570.1,634.8 572.6,642.2C575.1,649.6 577.6,658.9 578.6,666.3C579.6,673.6 579.4,679.6 578.6,686.3C577.8,693 576.1,700 573.6,706.4C571.1,712.8 567.6,719.5 563.6,724.5C559.6,729.5 554.2,734 549.5,736.5C544.8,739 538.8,739.3 535.4,739.5C532,739.7 530.5,742.1 529.2,737.5C527.9,732.9 527.9,721.2 527.4,712C526.9,702.8 526.5,691 526.3,682C526.1,673 526,667 526.3,658C526.6,649 527.4,636.7 528,628C528.5,619.3 529.4,610.7 529.6,606C529.8,601.3 527,600.5 529,599.6Z" fill="url(#hemR)" stroke="#d4d4d4" stroke-width="0.8"/><path d="M529,599.6C531,598.7 537.4,599 541.5,600.4C545.6,601.8 549.8,604.4 553.5,608C557.2,611.6 560.4,616.4 563.6,622.1C566.8,627.8 570.1,634.8 572.6,642.2C575.1,649.6 577.6,658.9 578.6,666.3C579.6,673.6 579.4,679.6 578.6,686.3C577.8,693 576.1,700 573.6,706.4C571.1,712.8 567.6,719.5 563.6,724.5C559.6,729.5 554.2,734 549.5,736.5C544.8,739 538.8,739.3 535.4,739.5C532,739.7 530.5,742.1 529.2,737.5C527.9,732.9 527.9,721.2 527.4,712C526.9,702.8 526.5,691 526.3,682C526.1,673 526,667 526.3,658C526.6,649 527.4,636.7 528,628C528.5,619.3 529.4,610.7 529.6,606C529.8,601.3 527,600.5 529,599.6Z" fill="#000" filter="url(#tex)" opacity="0.5"/><path d="M529,599.6C531,598.7 537.4,599 541.5,600.4C545.6,601.8 549.8,604.4 553.5,608C557.2,611.6 560.4,616.4 563.6,622.1C566.8,627.8 570.1,634.8 572.6,642.2C575.1,649.6 577.6,658.9 578.6,666.3C579.6,673.6 579.4,679.6 578.6,686.3C577.8,693 576.1,700 573.6,706.4C571.1,712.8 567.6,719.5 563.6,724.5C559.6,729.5 554.2,734 549.5,736.5C544.8,739 538.8,739.3 535.4,739.5C532,739.7 530.5,742.1 529.2,737.5C527.9,732.9 527.9,721.2 527.4,712C526.9,702.8 526.5,691 526.3,682C526.1,673 526,667 526.3,658C526.6,649 527.4,636.7 528,628C528.5,619.3 529.4,610.7 529.6,606C529.8,601.3 527,600.5 529,599.6Z" fill="#000" filter="url(#sulci)" opacity="0.4"/><ellipse cx="524.6" cy="652.8" rx="38.6" ry="43" stroke="#555" stroke-width="0.45" stroke-dasharray="1.2,1.2" fill="none"/><ellipse cx="507" cy="667.5" rx="18.5" ry="6.8" stroke="#555" stroke-width="0.45" stroke-dasharray="1.2,1.2" fill="none"/><ellipse cx="542.2" cy="667.5" rx="18.5" ry="6.8" stroke="#555" stroke-width="0.45" stroke-dasharray="1.2,1.2" fill="none"/><path d="M489,669.9 C492,690 510,697 524.6,697 C539,697 557,690 559.7,669.9" stroke="#555" stroke-width="0.45" stroke-dasharray="1.2,1.2" fill="none"/><path d="M489,669.9 L524.6,609.5 L559.7,669.9" stroke="#555" stroke-width="0.5" fill="none"/><path d="M489,668.5 L524.6,666.3 L559.7,668.5" stroke="#555" stroke-width="0.5" fill="none"/><path d="M489,671 C500,690 515,690 524.6,689 C535,688 541,680 545.3,671.3" stroke="#555" stroke-width="0.5" fill="none"/><path d="M559.7,671 C549,690 534,690 524.6,689 C514,688 508,680 503.5,671.3" stroke="#555" stroke-width="0.5" fill="none"/><circle cx="524.6" cy="609.5" r="2.5" fill="#d5163c"/><circle cx="524.6" cy="666.3" r="2.5" fill="#d5163c"/><circle cx="503.5" cy="671.3" r="2.5" fill="#d5163c"/><circle cx="545.3" cy="671.3" r="2.5" fill="#d5163c"/><circle cx="489" cy="669.9" r="2.5" fill="#1668b8"/><circle cx="559.7" cy="669.9" r="2.5" fill="#1668b8"/><path d="M605.7,649.4C608.4,683.5 629.4,703.2 653,705" stroke="#6a6a6a" stroke-width="0.55" stroke-dasharray="1.4,1.2" fill="none"/><path d="M0,0 l-2.4,-1.1 v2.2z" transform="translate(653,705) rotate(4.4)" fill="#777"/><path d="M599.2,644.1C600.5,688.7 637.2,717.6 666.1,718.9" stroke="#6a6a6a" stroke-width="0.55" stroke-dasharray="1.4,1.2" fill="none"/><path d="M0,0 l-2.4,-1.1 v2.2z" transform="translate(666.1,718.9) rotate(2.6)" fill="#777"/><path d="M597.9,641.5C595.2,696.6 655.6,730.7 721.2,719.7" stroke="#6a6a6a" stroke-width="0.55" stroke-dasharray="1.4,1.2" fill="none"/><path d="M0,0 l-2.4,-1.1 v2.2z" transform="translate(721.2,719.7) rotate(-9.5)" fill="#777"/><path d="M654.3,638.9C646.4,657.2 649.1,680.9 658.8,691.9" stroke="#6a6a6a" stroke-width="0.55" stroke-dasharray="1.4,1.2" fill="none"/><path d="M0,0 l-2.4,-1.1 v2.2z" transform="translate(658.8,691.9) rotate(48.6)" fill="#777"/><path d="M680.6,636.2C700.2,638.9 714.7,662.5 716,691.4" stroke="#6a6a6a" stroke-width="0.55" stroke-dasharray="1.4,1.2" fill="none"/><path d="M0,0 l-2.4,-1.1 v2.2z" transform="translate(716,691.4) rotate(87.4)" fill="#777"/><path d="M708.1,636.2C687.1,638.9 672.7,662.5 671.9,691.4" stroke="#6a6a6a" stroke-width="0.55" stroke-dasharray="1.4,1.2" fill="none"/><path d="M0,0 l-2.4,-1.1 v2.2z" transform="translate(671.9,691.4) rotate(91.6)" fill="#777"/><path d="M734.4,641.5C740.9,657.2 738.3,680.9 729.1,691.9" stroke="#6a6a6a" stroke-width="0.55" stroke-dasharray="1.4,1.2" fill="none"/><path d="M0,0 l-2.4,-1.1 v2.2z" transform="translate(729.1,691.9) rotate(129.8)" fill="#777"/><path d="M779,649.4C779,678.2 760.6,701.9 735.7,705.8" stroke="#6a6a6a" stroke-width="0.55" stroke-dasharray="1.4,1.2" fill="none"/><path d="M0,0 l-2.4,-1.1 v2.2z" transform="translate(735.7,705.8) rotate(171)" fill="#777"/><path d="M788.2,638.9C792.1,696.6 721.2,733.4 668.7,719.7" stroke="#6a6a6a" stroke-width="0.55" stroke-dasharray="1.4,1.2" fill="none"/><path d="M0,0 l-2.4,-1.1 v2.2z" transform="translate(668.7,719.7) rotate(-165.4)" fill="#777"/><path d="M666.6,718.9C676.6,726.8 710.7,726.8 721.2,718.9" stroke="#6a6a6a" stroke-width="0.55" stroke-dasharray="1.4,1.2" fill="none"/><path d="M0,0 l-2.4,-1.1 v2.2z" transform="translate(721.2,718.9) rotate(-36.9)" fill="#777"/><line x1="655.6" y1="694" x2="614.2" y2="653.8" stroke="#666" stroke-width="0.55"/><path d="M612.3,652 L615,652.9 L613.3,654.7 Z" fill="#666"/><line x1="709.4" y1="703.2" x2="628.8" y2="639.2" stroke="#666" stroke-width="0.55"/><path d="M626.7,637.6 L629.5,638.2 L628,640.1 Z" fill="#666"/><line x1="666.6" y1="691.4" x2="666.6" y2="654.6" stroke="#9a9a9a" stroke-width="1.0"/><path d="M666.6,652 L667.8,654.6 L665.4,654.6 Z" fill="#666"/><line x1="709.4" y1="695.3" x2="678" y2="647.6" stroke="#666" stroke-width="0.55"/><path d="M676.6,645.4 L679,646.9 L677,648.3 Z" fill="#666"/><line x1="677.9" y1="695.3" x2="708" y2="647.6" stroke="#666" stroke-width="0.55"/><path d="M709.4,645.4 L709,648.3 L707,647 Z" fill="#666"/><line x1="721.2" y1="691.4" x2="721.2" y2="654.6" stroke="#9a9a9a" stroke-width="1.0"/><path d="M721.2,652 L722.4,654.6 L720,654.6 Z" fill="#666"/><line x1="680.6" y1="705.8" x2="759.9" y2="637.9" stroke="#666" stroke-width="0.55"/><path d="M761.9,636.2 L760.7,638.8 L759.2,637 Z" fill="#666"/><line x1="733" y1="695.3" x2="773.2" y2="653.9" stroke="#666" stroke-width="0.55"/><path d="M775,652 L774.1,654.7 L772.4,653 Z" fill="#666"/><circle cx="612.5" cy="637.5" r="13.5" fill="#d5163c"/><text x="612.5" y="640.7" font-size="8.8" text-anchor="middle" fill="#fff">LHP</text><circle cx="666.8" cy="637.5" r="13.5" fill="#d5163c"/><text x="666.8" y="640.7" font-size="8.8" text-anchor="middle" fill="#fff">MC</text><circle cx="721" cy="637.5" r="13.5" fill="#d5163c"/><text x="721" y="640.7" font-size="8.8" text-anchor="middle" fill="#fff">ACC</text><circle cx="775.3" cy="637.5" r="13.5" fill="#d5163c"/><text x="775.3" y="640.7" font-size="8.8" text-anchor="middle" fill="#fff">LHR</text><circle cx="666.8" cy="705" r="13.5" fill="#1668b8"/><text x="666.8" y="708.2" font-size="8.8" text-anchor="middle" fill="#fff">LHG</text><circle cx="721" cy="705" r="13.5" fill="#1668b8"/><text x="721" y="708.2" font-size="8.8" text-anchor="middle" fill="#fff">RHG</text></svg></body></html>
